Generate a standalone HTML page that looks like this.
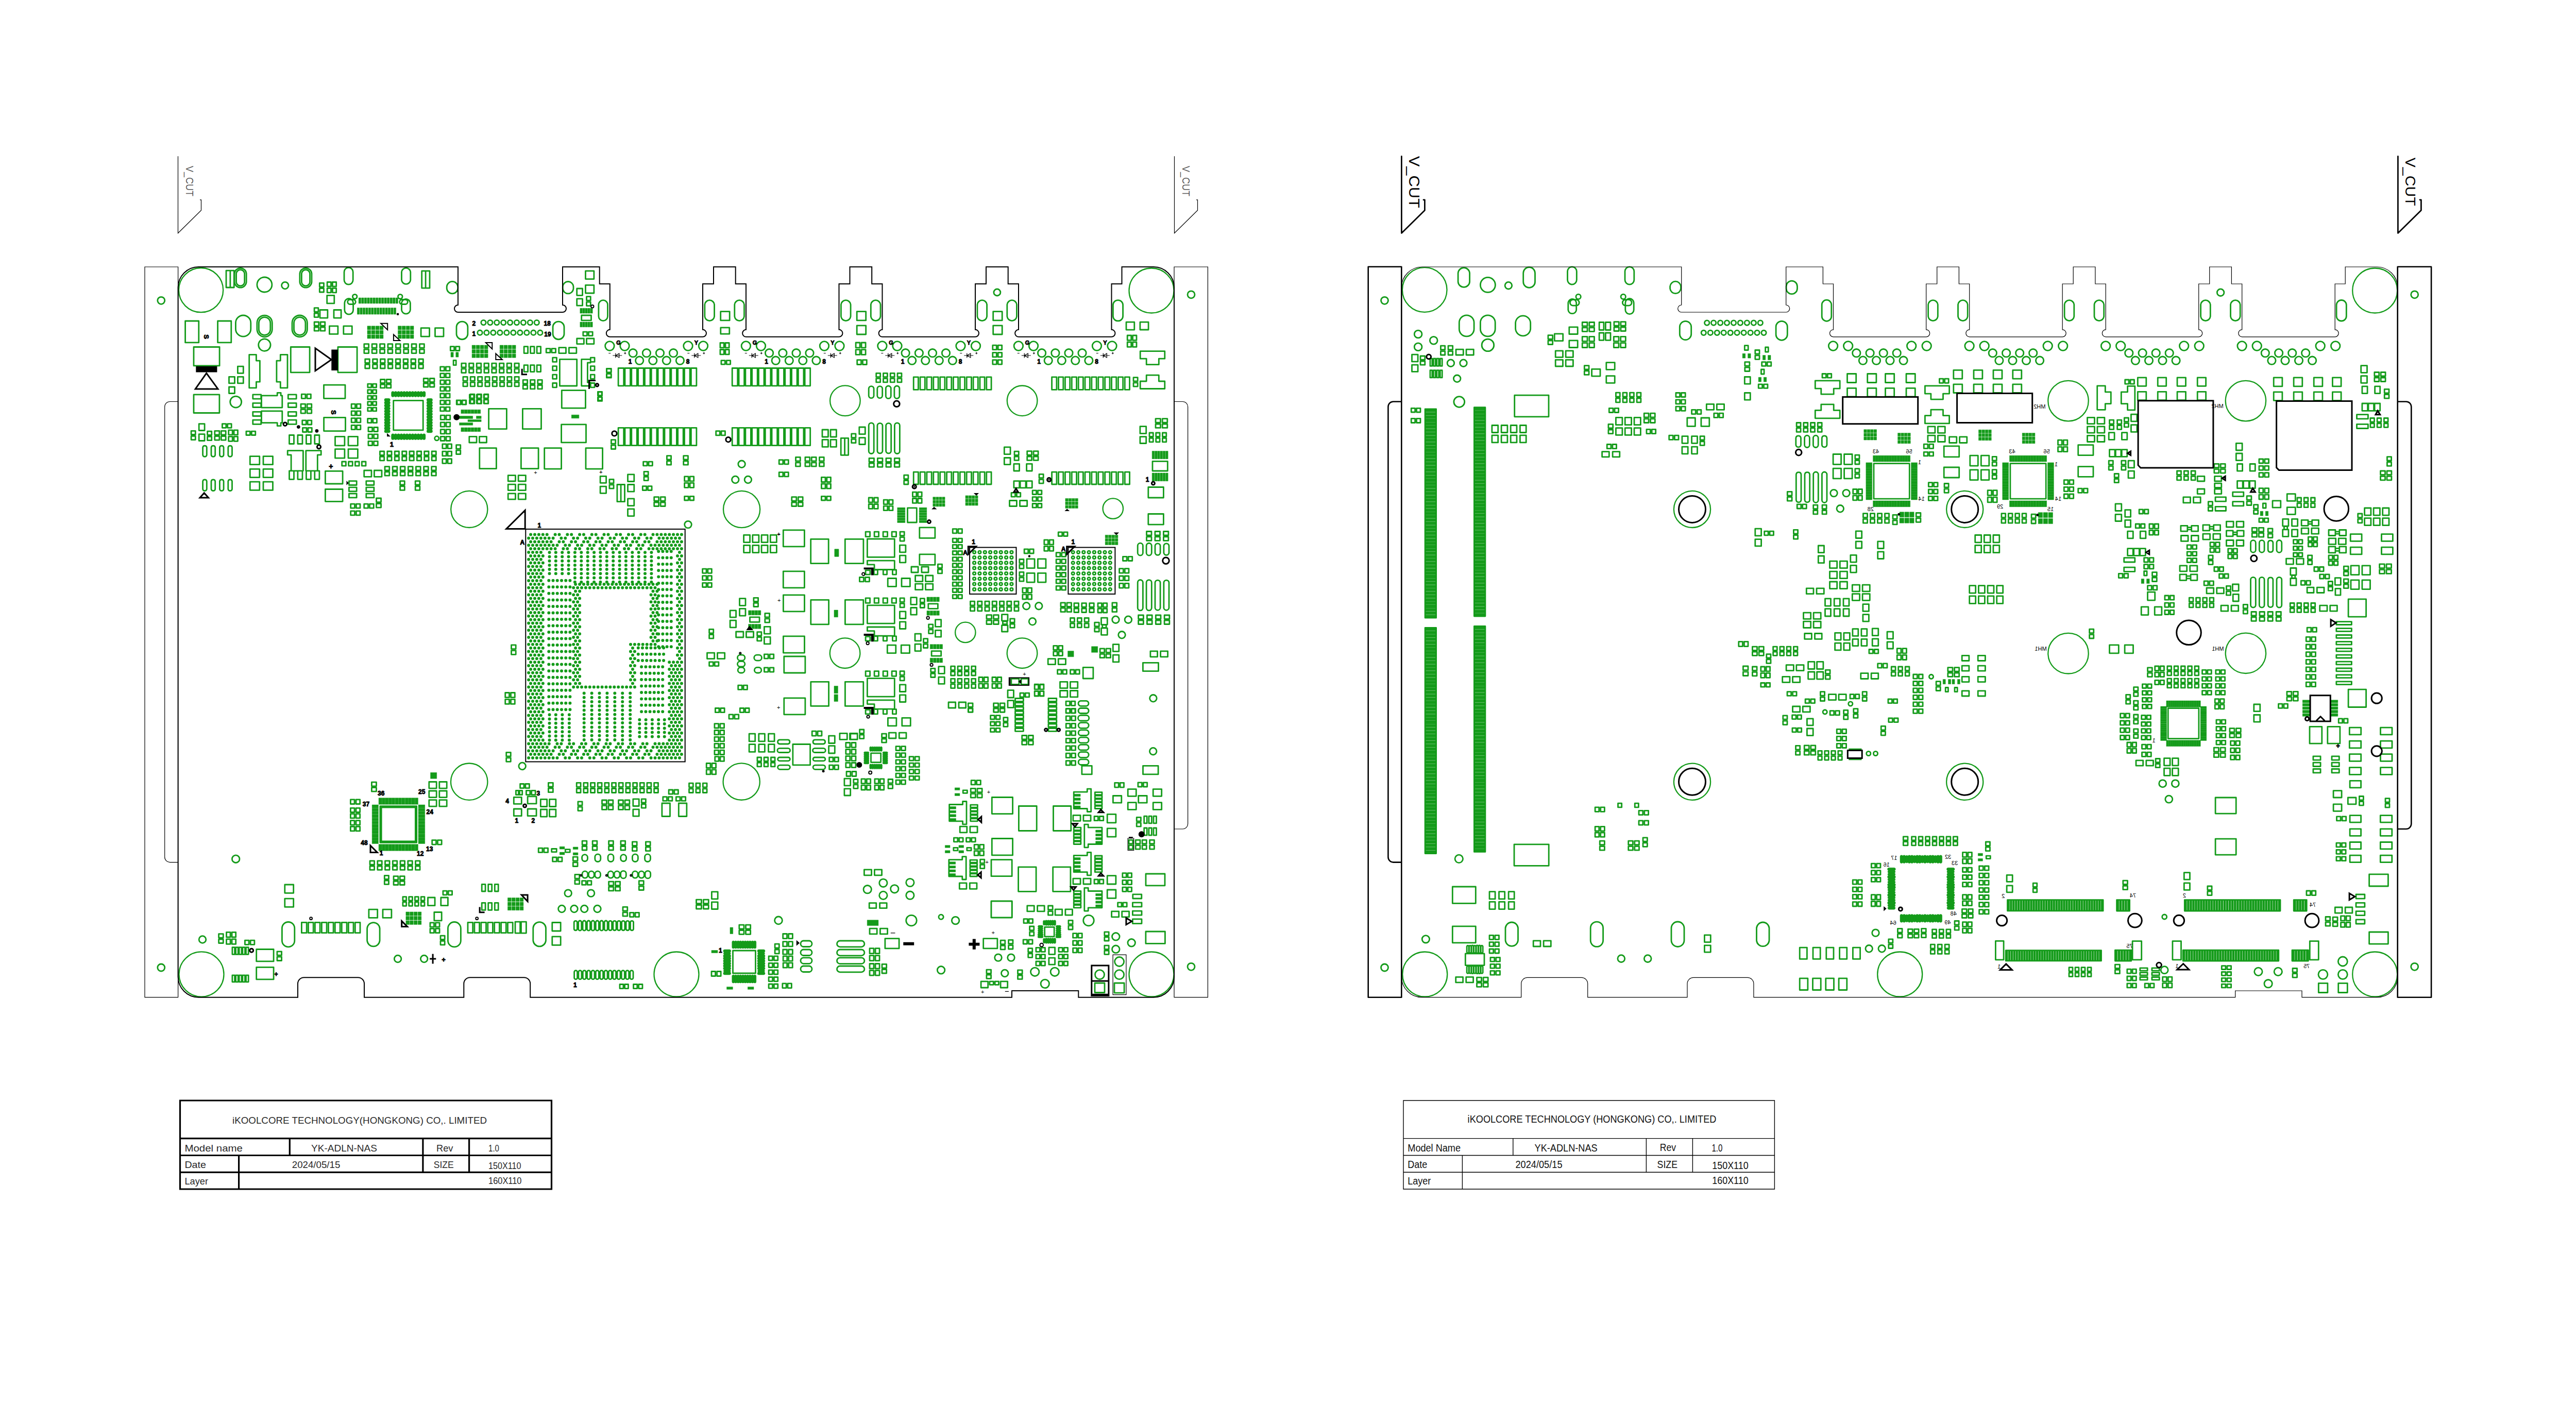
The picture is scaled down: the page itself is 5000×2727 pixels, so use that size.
<!DOCTYPE html>
<html lang="en"><head><meta charset="utf-8"><title>YK-ADLN-NAS PCB assembly drawing</title>
<style>html,body{margin:0;padding:0;background:#fff}body{width:5000px;height:2727px;overflow:hidden}svg{display:block}</style></head>
<body>
<svg width="5000" height="2727" viewBox="0 0 5000 2727" font-family="'Liberation Sans', sans-serif">
<rect width="5000" height="2727" fill="#fff"/>
<path fill="#149b1a" stroke="#149b1a" stroke-width="0.5" d="M696.2 578H700.6V588.9H696.2zM701.7 578H706.1V588.9H701.7zM707.2 578H711.7V588.9H707.2zM712.8 578H717.2V588.9H712.8zM718.3 578H722.7V588.9H718.3zM723.8 578H728.3V588.9H723.8zM729.4 578H733.8V588.9H729.4zM734.9 578H739.3V588.9H734.9zM740.4 578H744.9V588.9H740.4zM746 578H750.4V588.9H746zM751.5 578H755.9V588.9H751.5zM757 578H761.4V588.9H757zM762.5 578H767V588.9H762.5zM768.1 578H772.5V588.9H768.1zM693.4 597.6H697.8V610.1H693.4zM698.9 597.6H703.2V610.1H698.9zM704.3 597.6H708.7V610.1H704.3zM709.8 597.6H714.1V610.1H709.8zM715.2 597.6H719.6V610.1H715.2zM720.7 597.6H725V610.1H720.7zM726.1 597.6H730.5V610.1H726.1zM731.6 597.6H735.9V610.1H731.6zM737 597.6H741.4V610.1H737zM742.5 597.6H746.8V610.1H742.5zM747.9 597.6H752.3V610.1H747.9zM753.3 597.6H757.7V610.1H753.3zM758.8 597.6H763.1V610.1H758.8zM764.2 597.6H768.6V610.1H764.2zM713 632.8H719.8V640H713zM713 641.3H719.8V648.5H713zM713 649.8H719.8V657H713zM721 632.8H727.9V640H721zM721 641.3H727.9V648.5H721zM721 649.8H727.9V657H721zM729.1 632.8H735.9V640H729.1zM729.1 641.3H735.9V648.5H729.1zM729.1 649.8H735.9V657H729.1zM737.1 632.8H743.9V640H737.1zM737.1 641.3H743.9V648.5H737.1zM737.1 649.8H743.9V657H737.1zM772.5 632.8H779.2V640H772.5zM772.5 641.3H779.2V648.5H772.5zM772.5 649.8H779.2V657H772.5zM780.4 632.8H787.2V640H780.4zM780.4 641.3H787.2V648.5H780.4zM780.4 649.8H787.2V657H780.4zM788.4 632.8H795.1V640H788.4zM788.4 641.3H795.1V648.5H788.4zM788.4 649.8H795.1V657H788.4zM796.3 632.8H803V640H796.3zM796.3 641.3H803V648.5H796.3zM796.3 649.8H803V657H796.3zM1125.9 598.3H1130.2V608.1H1125.9zM1130.9 598.3H1135.2V608.1H1130.9zM1135.9 598.3H1140.2V608.1H1135.9zM1140.9 598.3H1145.2V608.1H1140.9zM1145.9 598.3H1150.2V608.1H1145.9zM1125.9 625H1130.2V634.7H1125.9zM1130.9 625H1135.2V634.7H1130.9zM1135.9 625H1140.2V634.7H1135.9zM1140.9 625H1145.2V634.7H1140.9zM1145.9 625H1150.2V634.7H1145.9zM875 683.7H880.1V693.1H875zM884.8 683.7H889.9V693.1H884.8zM916.1 670H923V677.2H916.1zM916.1 678.5H923V685.7H916.1zM916.1 687H923V694.2H916.1zM924.2 670H931V677.2H924.2zM924.2 678.5H931V685.7H924.2zM924.2 687H931V694.2H924.2zM932.2 670H939V677.2H932.2zM932.2 678.5H939V685.7H932.2zM932.2 687H939V694.2H932.2zM940.2 670H947.1V677.2H940.2zM940.2 678.5H947.1V685.7H940.2zM940.2 687H947.1V694.2H940.2zM970.2 670H977V677.2H970.2zM970.2 678.5H977V685.7H970.2zM970.2 687H977V694.2H970.2zM978.2 670H985V677.2H978.2zM978.2 678.5H985V685.7H978.2zM978.2 687H985V694.2H978.2zM986.2 670H993V677.2H986.2zM986.2 678.5H993V685.7H986.2zM986.2 687H993V694.2H986.2zM994.2 670H1001.1V677.2H994.2zM994.2 678.5H1001.1V685.7H994.2zM994.2 687H1001.1V694.2H994.2zM759.6 762.5a2.9 2.9 0 0 1 5.8 0V767.6a2.9 2.9 0 0 1 -5.8 0zM765.1 762.5a2.9 2.9 0 0 1 5.8 0V767.6a2.9 2.9 0 0 1 -5.8 0zM770.6 762.5a2.9 2.9 0 0 1 5.8 0V767.6a2.9 2.9 0 0 1 -5.8 0zM776.1 762.5a2.9 2.9 0 0 1 5.8 0V767.6a2.9 2.9 0 0 1 -5.8 0zM781.6 762.5a2.9 2.9 0 0 1 5.8 0V767.6a2.9 2.9 0 0 1 -5.8 0zM787.1 762.5a2.9 2.9 0 0 1 5.8 0V767.6a2.9 2.9 0 0 1 -5.8 0zM792.6 762.5a2.9 2.9 0 0 1 5.8 0V767.6a2.9 2.9 0 0 1 -5.8 0zM798.1 762.5a2.9 2.9 0 0 1 5.8 0V767.6a2.9 2.9 0 0 1 -5.8 0zM803.6 762.5a2.9 2.9 0 0 1 5.8 0V767.6a2.9 2.9 0 0 1 -5.8 0zM809.1 762.5a2.9 2.9 0 0 1 5.8 0V767.6a2.9 2.9 0 0 1 -5.8 0zM814.6 762.5a2.9 2.9 0 0 1 5.8 0V767.6a2.9 2.9 0 0 1 -5.8 0zM820.1 762.5a2.9 2.9 0 0 1 5.8 0V767.6a2.9 2.9 0 0 1 -5.8 0zM759.6 844.7a2.9 2.9 0 0 1 5.8 0V850.7a2.9 2.9 0 0 1 -5.8 0zM765.1 844.7a2.9 2.9 0 0 1 5.8 0V850.7a2.9 2.9 0 0 1 -5.8 0zM770.6 844.7a2.9 2.9 0 0 1 5.8 0V850.7a2.9 2.9 0 0 1 -5.8 0zM776.1 844.7a2.9 2.9 0 0 1 5.8 0V850.7a2.9 2.9 0 0 1 -5.8 0zM781.6 844.7a2.9 2.9 0 0 1 5.8 0V850.7a2.9 2.9 0 0 1 -5.8 0zM787.1 844.7a2.9 2.9 0 0 1 5.8 0V850.7a2.9 2.9 0 0 1 -5.8 0zM792.6 844.7a2.9 2.9 0 0 1 5.8 0V850.7a2.9 2.9 0 0 1 -5.8 0zM798.1 844.7a2.9 2.9 0 0 1 5.8 0V850.7a2.9 2.9 0 0 1 -5.8 0zM803.6 844.7a2.9 2.9 0 0 1 5.8 0V850.7a2.9 2.9 0 0 1 -5.8 0zM809.1 844.7a2.9 2.9 0 0 1 5.8 0V850.7a2.9 2.9 0 0 1 -5.8 0zM814.6 844.7a2.9 2.9 0 0 1 5.8 0V850.7a2.9 2.9 0 0 1 -5.8 0zM820.1 844.7a2.9 2.9 0 0 1 5.8 0V850.7a2.9 2.9 0 0 1 -5.8 0zM754.5 773.3a2.9 2.9 0 0 1 0 5.8H748.8a2.9 2.9 0 0 1 0 -5.8zM754.5 778.8a2.9 2.9 0 0 1 0 5.8H748.8a2.9 2.9 0 0 1 0 -5.8zM754.5 784.3a2.9 2.9 0 0 1 0 5.8H748.8a2.9 2.9 0 0 1 0 -5.8zM754.5 789.9a2.9 2.9 0 0 1 0 5.8H748.8a2.9 2.9 0 0 1 0 -5.8zM754.5 795.4a2.9 2.9 0 0 1 0 5.8H748.8a2.9 2.9 0 0 1 0 -5.8zM754.5 800.9a2.9 2.9 0 0 1 0 5.8H748.8a2.9 2.9 0 0 1 0 -5.8zM754.5 806.4a2.9 2.9 0 0 1 0 5.8H748.8a2.9 2.9 0 0 1 0 -5.8zM754.5 812a2.9 2.9 0 0 1 0 5.8H748.8a2.9 2.9 0 0 1 0 -5.8zM754.5 817.5a2.9 2.9 0 0 1 0 5.8H748.8a2.9 2.9 0 0 1 0 -5.8zM754.5 823a2.9 2.9 0 0 1 0 5.8H748.8a2.9 2.9 0 0 1 0 -5.8zM754.5 828.5a2.9 2.9 0 0 1 0 5.8H748.8a2.9 2.9 0 0 1 0 -5.8zM754.5 834.1a2.9 2.9 0 0 1 0 5.8H748.8a2.9 2.9 0 0 1 0 -5.8zM836.7 773.3a2.9 2.9 0 0 1 0 5.8H831a2.9 2.9 0 0 1 0 -5.8zM836.7 778.8a2.9 2.9 0 0 1 0 5.8H831a2.9 2.9 0 0 1 0 -5.8zM836.7 784.3a2.9 2.9 0 0 1 0 5.8H831a2.9 2.9 0 0 1 0 -5.8zM836.7 789.9a2.9 2.9 0 0 1 0 5.8H831a2.9 2.9 0 0 1 0 -5.8zM836.7 795.4a2.9 2.9 0 0 1 0 5.8H831a2.9 2.9 0 0 1 0 -5.8zM836.7 800.9a2.9 2.9 0 0 1 0 5.8H831a2.9 2.9 0 0 1 0 -5.8zM836.7 806.4a2.9 2.9 0 0 1 0 5.8H831a2.9 2.9 0 0 1 0 -5.8zM836.7 812a2.9 2.9 0 0 1 0 5.8H831a2.9 2.9 0 0 1 0 -5.8zM836.7 817.5a2.9 2.9 0 0 1 0 5.8H831a2.9 2.9 0 0 1 0 -5.8zM836.7 823a2.9 2.9 0 0 1 0 5.8H831a2.9 2.9 0 0 1 0 -5.8zM836.7 828.5a2.9 2.9 0 0 1 0 5.8H831a2.9 2.9 0 0 1 0 -5.8zM836.7 834.1a2.9 2.9 0 0 1 0 5.8H831a2.9 2.9 0 0 1 0 -5.8zM894.9 795.2H900.7V802.6H894.9zM901.3 795.2H907.1V802.6H901.3zM907.7 795.2H913.5V802.6H907.7zM914.2 795.2H919.9V802.6H914.2zM920.6 795.2H926.3V802.6H920.6zM927 795.2H932.7V802.6H927zM894.9 830H900.7V837.7H894.9zM901.3 830H907.1V837.7H901.3zM907.7 830H913.5V837.7H907.7zM914.2 830H919.9V837.7H914.2zM920.6 830H926.3V837.7H920.6zM927 830H932.7V837.7H927zM891.6 807.5H917.7V812.5H891.6zM924.5 807.5H934.1V812.5H924.5zM908.1 814.4H934.1V818.5H908.1zM891.6 820.4H917.7V825.3H891.6zM1810.8 964.7H1816V970.1H1810.8zM1810.8 971.1H1816V976.6H1810.8zM1810.8 977.5H1816V983H1810.8zM1816.9 964.7H1822V970.1H1816.9zM1816.9 971.1H1822V976.6H1816.9zM1816.9 977.5H1822V983H1816.9zM1822.9 964.7H1828.1V970.1H1822.9zM1822.9 971.1H1828.1V976.6H1822.9zM1822.9 977.5H1828.1V983H1822.9zM1829 964.7H1834.1V970.1H1829zM1829 971.1H1834.1V976.6H1829zM1829 977.5H1834.1V983H1829zM1741.8 985.2H1756.8V989.5H1741.8zM1741.8 990.2H1756.8V994.5H1741.8zM1741.8 995.2H1756.8V999.5H1741.8zM1741.8 1000.2H1756.8V1004.5H1741.8zM1741.8 1005.2H1756.8V1009.5H1741.8zM1741.8 1010.3H1756.8V1014.5H1741.8zM1784.2 985.2H1798.8V989.5H1784.2zM1784.2 990.2H1798.8V994.5H1784.2zM1784.2 995.2H1798.8V999.5H1784.2zM1784.2 1000.2H1798.8V1004.5H1784.2zM1784.2 1005.2H1798.8V1009.5H1784.2zM1784.2 1010.3H1798.8V1014.5H1784.2zM1874 961.9H1879.3V967.6H1874zM1874 968.6H1879.3V974.4H1874zM1874 975.4H1879.3V981.1H1874zM1880.2 961.9H1885.6V967.6H1880.2zM1880.2 968.6H1885.6V974.4H1880.2zM1880.2 975.4H1885.6V981.1H1880.2zM1886.5 961.9H1891.8V967.6H1886.5zM1886.5 968.6H1891.8V974.4H1886.5zM1886.5 975.4H1891.8V981.1H1886.5zM1892.8 961.9H1898.1V967.6H1892.8zM1892.8 968.6H1898.1V974.4H1892.8zM1892.8 975.4H1898.1V981.1H1892.8zM2067.9 967.4H2073.3V973.1H2067.9zM2067.9 974.1H2073.3V979.8H2067.9zM2067.9 980.9H2073.3V986.6H2067.9zM2074.3 967.4H2079.7V973.1H2074.3zM2074.3 974.1H2079.7V979.8H2074.3zM2074.3 980.9H2079.7V986.6H2074.3zM2080.6 967.4H2086V973.1H2080.6zM2080.6 974.1H2086V979.8H2080.6zM2080.6 980.9H2086V986.6H2080.6zM2086.9 967.4H2092.3V973.1H2086.9zM2086.9 974.1H2092.3V979.8H2086.9zM2086.9 980.9H2092.3V986.6H2086.9zM2236.2 875.6H2240.7V890.7H2236.2zM2241.5 875.6H2246V890.7H2241.5zM2246.7 875.6H2251.2V890.7H2246.7zM2252 875.6H2256.5V890.7H2252zM2257.3 875.6H2261.8V890.7H2257.3zM2262.6 875.6H2267.1V890.7H2262.6zM2236.2 918.1H2240.7V933.7H2236.2zM2241.5 918.1H2246V933.7H2241.5zM2246.7 918.1H2251.2V933.7H2246.7zM2252 918.1H2256.5V933.7H2252zM2257.3 918.1H2261.8V933.7H2257.3zM2262.6 918.1H2267.1V933.7H2262.6zM1109.3 805.2H1123.8V811.8H1109.3zM1620.3 1066.3H1627.9V1080H1620.3zM1619.9 1065.8H1627.8V1080.3H1619.9zM1619 1184.1H1626.4V1197.8H1619zM1619 1331.5H1626.4V1345.8H1619zM1619 1347.9H1626.4V1361.6H1619zM1799 1158.9H1804.5V1167.7H1799zM1805.3 1158.9H1810.7V1167.7H1805.3zM1811.5 1158.9H1816.9V1167.7H1811.5zM1817.7 1158.9H1823.2V1167.7H1817.7zM1799 1185.5H1804.5V1194.2H1799zM1805.3 1185.5H1810.7V1194.2H1805.3zM1811.5 1185.5H1816.9V1194.2H1811.5zM1817.7 1185.5H1823.2V1194.2H1817.7zM1805.3 1250.7H1810.8V1259.5H1805.3zM1811.6 1250.7H1817V1259.5H1811.6zM1817.8 1250.7H1823.2V1259.5H1817.8zM1824 1250.7H1829.5V1259.5H1824zM1805.3 1277.3H1810.8V1286H1805.3zM1811.6 1277.3H1817V1286H1811.6zM1817.8 1277.3H1823.2V1286H1817.8zM1824 1277.3H1829.5V1286H1824zM1452.7 1184.9H1458.2V1193.7H1452.7zM1459 1184.9H1464.4V1193.7H1459zM1465.2 1184.9H1470.6V1193.7H1465.2zM1471.4 1184.9H1476.8V1193.7H1471.4zM1452.7 1211.5H1458.2V1220.3H1452.7zM1459 1211.5H1464.4V1220.3H1459zM1465.2 1211.5H1470.6V1220.3H1465.2zM1471.4 1211.5H1476.8V1220.3H1471.4zM2145.2 1038.4H2150.6V1044.1H2145.2zM2145.2 1045.1H2150.6V1050.8H2145.2zM2145.2 1051.8H2150.6V1057.5H2145.2zM2151.6 1038.4H2157.1V1044.1H2151.6zM2151.6 1045.1H2157.1V1050.8H2151.6zM2151.6 1051.8H2157.1V1057.5H2151.6zM2158 1038.4H2163.5V1044.1H2158zM2158 1045.1H2163.5V1050.8H2158zM2158 1051.8H2163.5V1057.5H2158zM2164.4 1038.4H2169.9V1044.1H2164.4zM2164.4 1045.1H2169.9V1050.8H2164.4zM2164.4 1051.8H2169.9V1057.5H2164.4zM2072.6 1263.6H2084.1V1274.8H2072.6zM2118.6 1254.8H2130.7V1266.3H2118.6zM1687.8 1450.8a2.3 2.3 0 0 1 4.5 0V1456.8a2.3 2.3 0 0 1 -4.5 0zM1691.8 1450.8a2.3 2.3 0 0 1 4.5 0V1456.8a2.3 2.3 0 0 1 -4.5 0zM1695.9 1450.8a2.3 2.3 0 0 1 4.5 0V1456.8a2.3 2.3 0 0 1 -4.5 0zM1699.9 1450.8a2.3 2.3 0 0 1 4.5 0V1456.8a2.3 2.3 0 0 1 -4.5 0zM1703.9 1450.8a2.3 2.3 0 0 1 4.5 0V1456.8a2.3 2.3 0 0 1 -4.5 0zM1708 1450.8a2.3 2.3 0 0 1 4.5 0V1456.8a2.3 2.3 0 0 1 -4.5 0zM1687.8 1484.5a2.3 2.3 0 0 1 4.5 0V1491a2.3 2.3 0 0 1 -4.5 0zM1691.8 1484.5a2.3 2.3 0 0 1 4.5 0V1491a2.3 2.3 0 0 1 -4.5 0zM1695.9 1484.5a2.3 2.3 0 0 1 4.5 0V1491a2.3 2.3 0 0 1 -4.5 0zM1699.9 1484.5a2.3 2.3 0 0 1 4.5 0V1491a2.3 2.3 0 0 1 -4.5 0zM1703.9 1484.5a2.3 2.3 0 0 1 4.5 0V1491a2.3 2.3 0 0 1 -4.5 0zM1708 1484.5a2.3 2.3 0 0 1 4.5 0V1491a2.3 2.3 0 0 1 -4.5 0zM1684.8 1459a2.2 2.2 0 0 1 0 4.4H1678.8a2.2 2.2 0 0 1 0 -4.4zM1684.8 1462.9a2.2 2.2 0 0 1 0 4.4H1678.8a2.2 2.2 0 0 1 0 -4.4zM1684.8 1466.8a2.2 2.2 0 0 1 0 4.4H1678.8a2.2 2.2 0 0 1 0 -4.4zM1684.8 1470.7a2.2 2.2 0 0 1 0 4.4H1678.8a2.2 2.2 0 0 1 0 -4.4zM1684.8 1474.6a2.2 2.2 0 0 1 0 4.4H1678.8a2.2 2.2 0 0 1 0 -4.4zM1684.8 1478.5a2.2 2.2 0 0 1 0 4.4H1678.8a2.2 2.2 0 0 1 0 -4.4zM1721.2 1459a2.2 2.2 0 0 1 0 4.4H1715.2a2.2 2.2 0 0 1 0 -4.4zM1721.2 1462.9a2.2 2.2 0 0 1 0 4.4H1715.2a2.2 2.2 0 0 1 0 -4.4zM1721.2 1466.8a2.2 2.2 0 0 1 0 4.4H1715.2a2.2 2.2 0 0 1 0 -4.4zM1721.2 1470.7a2.2 2.2 0 0 1 0 4.4H1715.2a2.2 2.2 0 0 1 0 -4.4zM1721.2 1474.6a2.2 2.2 0 0 1 0 4.4H1715.2a2.2 2.2 0 0 1 0 -4.4zM1721.2 1478.5a2.2 2.2 0 0 1 0 4.4H1715.2a2.2 2.2 0 0 1 0 -4.4zM2084.2 1541.2H2097.1V1545.8H2084.2zM2084.2 1548.8H2097.1V1553.4H2084.2zM2084.2 1556.5H2097.1V1561H2084.2zM2084.2 1564.1H2097.1V1568.6H2084.2zM2126.7 1611.1H2139V1615.4H2126.7zM2126.7 1618.3H2139V1622.7H2126.7zM2126.7 1625.6H2139V1629.9H2126.7zM2126.7 1632.8H2139V1637.1H2126.7zM2084.2 1664.5H2097.1V1669.1H2084.2zM2084.2 1672.1H2097.1V1676.7H2084.2zM2084.2 1679.7H2097.1V1684.3H2084.2zM2084.2 1687.4H2097.1V1691.9H2084.2zM2126.7 1734.4H2139V1738.7H2126.7zM2126.7 1741.6H2139V1746H2126.7zM2126.7 1748.8H2139V1753.2H2126.7zM2126.7 1756.1H2139V1760.4H2126.7zM1842.6 1565.6H1855.5V1570.2H1842.6zM1842.6 1573.2H1855.5V1577.8H1842.6zM1842.6 1580.8H1855.5V1585.4H1842.6zM1842.6 1588.4H1855.5V1593H1842.6zM1841.8 1672.7H1854.7V1677.3H1841.8zM1841.8 1680.4H1854.7V1684.9H1841.8zM1841.8 1688H1854.7V1692.5H1841.8zM1841.8 1695.6H1854.7V1700.1H1841.8zM1853.3 1528.9H1862.9V1533.6H1853.3zM1853.3 1539.9H1862.9V1544.5H1853.3zM1834.4 1640.7H1844V1645.3H1834.4zM1834.4 1650.8H1844V1655.5H1834.4zM1861 1640.7H1870.5V1645.3H1861zM1861 1650.8H1870.5V1655.5H1861zM1683.2 1785.8H1704.9V1796.6H1683.2zM2024.5 1788a2.3 2.3 0 0 1 4.5 0V1794.3a2.3 2.3 0 0 1 -4.5 0zM2028.5 1788.1a2.3 2.3 0 0 1 4.6 0V1794.3a2.3 2.3 0 0 1 -4.6 0zM2032.6 1788.1a2.3 2.3 0 0 1 4.6 0V1794.3a2.3 2.3 0 0 1 -4.6 0zM2036.7 1788.1a2.3 2.3 0 0 1 4.6 0V1794.3a2.3 2.3 0 0 1 -4.6 0zM2040.8 1788.1a2.3 2.3 0 0 1 4.6 0V1794.3a2.3 2.3 0 0 1 -4.6 0zM2044.9 1788.1a2.3 2.3 0 0 1 4.6 0V1794.3a2.3 2.3 0 0 1 -4.6 0zM2024.5 1822.8a2.3 2.3 0 0 1 4.5 0V1829.2a2.3 2.3 0 0 1 -4.5 0zM2028.5 1822.8a2.3 2.3 0 0 1 4.6 0V1829.1a2.3 2.3 0 0 1 -4.6 0zM2032.6 1822.8a2.3 2.3 0 0 1 4.6 0V1829.1a2.3 2.3 0 0 1 -4.6 0zM2036.7 1822.8a2.3 2.3 0 0 1 4.6 0V1829.1a2.3 2.3 0 0 1 -4.6 0zM2040.8 1822.8a2.3 2.3 0 0 1 4.6 0V1829.1a2.3 2.3 0 0 1 -4.6 0zM2044.9 1822.8a2.3 2.3 0 0 1 4.6 0V1829.1a2.3 2.3 0 0 1 -4.6 0zM2022.8 1796.1a2.3 2.3 0 0 1 0 4.5H2016.3a2.3 2.3 0 0 1 0 -4.5zM2022.8 1800.1a2.3 2.3 0 0 1 0 4.5H2016.3a2.3 2.3 0 0 1 0 -4.5zM2022.8 1804.1a2.3 2.3 0 0 1 0 4.5H2016.3a2.3 2.3 0 0 1 0 -4.5zM2022.8 1808.1a2.3 2.3 0 0 1 0 4.5H2016.3a2.3 2.3 0 0 1 0 -4.5zM2022.8 1812.1a2.2 2.2 0 0 1 0 4.4H2016.3a2.2 2.2 0 0 1 0 -4.4zM2022.8 1816.1a2.2 2.2 0 0 1 0 4.4H2016.3a2.2 2.2 0 0 1 0 -4.4zM2057.6 1796.1a2.3 2.3 0 0 1 0 4.5H2051.2a2.3 2.3 0 0 1 0 -4.5zM2057.6 1800.1a2.3 2.3 0 0 1 0 4.5H2051.2a2.3 2.3 0 0 1 0 -4.5zM2057.6 1804.1a2.3 2.3 0 0 1 0 4.5H2051.2a2.3 2.3 0 0 1 0 -4.5zM2057.6 1808.1a2.3 2.3 0 0 1 0 4.5H2051.2a2.3 2.3 0 0 1 0 -4.5zM2057.6 1812.1a2.2 2.2 0 0 1 0 4.4H2051.1a2.2 2.2 0 0 1 0 -4.4zM2057.6 1816.1a2.2 2.2 0 0 1 0 4.4H2051.1a2.2 2.2 0 0 1 0 -4.4zM1086.3 1643.2H1095.9V1648.1H1086.3zM1086.3 1654.1H1095.9V1659H1086.3zM1112.3 1644H1121.9V1648.6H1112.3zM1112.3 1654.9H1121.9V1659.6H1112.3zM985.5 1742.6H992.2V1749.8H985.5zM985.5 1751.1H992.2V1758.3H985.5zM985.5 1759.5H992.2V1766.7H985.5zM993.4 1742.6H1000.1V1749.8H993.4zM993.4 1751.1H1000.1V1758.3H993.4zM993.4 1759.5H1000.1V1766.7H993.4zM1001.3 1742.6H1008V1749.8H1001.3zM1001.3 1751.1H1008V1758.3H1001.3zM1001.3 1759.5H1008V1766.7H1001.3zM1009.2 1742.6H1015.9V1749.8H1009.2zM1009.2 1751.1H1015.9V1758.3H1009.2zM1009.2 1759.5H1015.9V1766.7H1009.2zM1417 1800.1H1422.7V1812.5H1417zM1420.8 1828.6a2.6 2.6 0 0 1 5.2 0V1838.4a2.6 2.6 0 0 1 -5.2 0zM1425.4 1828.6a2.6 2.6 0 0 1 5.2 0V1838.4a2.6 2.6 0 0 1 -5.2 0zM1430.1 1828.6a2.6 2.6 0 0 1 5.2 0V1838.4a2.6 2.6 0 0 1 -5.2 0zM1434.7 1828.6a2.6 2.6 0 0 1 5.2 0V1838.4a2.6 2.6 0 0 1 -5.2 0zM1439.4 1828.6a2.6 2.6 0 0 1 5.2 0V1838.4a2.6 2.6 0 0 1 -5.2 0zM1444 1828.6a2.6 2.6 0 0 1 5.2 0V1838.4a2.6 2.6 0 0 1 -5.2 0zM1448.7 1828.6a2.6 2.6 0 0 1 5.2 0V1838.4a2.6 2.6 0 0 1 -5.2 0zM1453.3 1828.6a2.6 2.6 0 0 1 5.2 0V1838.4a2.6 2.6 0 0 1 -5.2 0zM1458 1828.6a2.6 2.6 0 0 1 5.2 0V1838.4a2.6 2.6 0 0 1 -5.2 0zM1462.6 1828.6a2.6 2.6 0 0 1 5.2 0V1838.4a2.6 2.6 0 0 1 -5.2 0zM1420.8 1894.6a2.6 2.6 0 0 1 5.2 0V1905.4a2.6 2.6 0 0 1 -5.2 0zM1425.4 1894.6a2.6 2.6 0 0 1 5.2 0V1905.4a2.6 2.6 0 0 1 -5.2 0zM1430.1 1894.6a2.6 2.6 0 0 1 5.2 0V1905.4a2.6 2.6 0 0 1 -5.2 0zM1434.7 1894.6a2.6 2.6 0 0 1 5.2 0V1905.4a2.6 2.6 0 0 1 -5.2 0zM1439.4 1894.6a2.6 2.6 0 0 1 5.2 0V1905.4a2.6 2.6 0 0 1 -5.2 0zM1444 1894.6a2.6 2.6 0 0 1 5.2 0V1905.4a2.6 2.6 0 0 1 -5.2 0zM1448.7 1894.6a2.6 2.6 0 0 1 5.2 0V1905.4a2.6 2.6 0 0 1 -5.2 0zM1453.3 1894.6a2.6 2.6 0 0 1 5.2 0V1905.4a2.6 2.6 0 0 1 -5.2 0zM1458 1894.6a2.6 2.6 0 0 1 5.2 0V1905.4a2.6 2.6 0 0 1 -5.2 0zM1462.6 1894.6a2.6 2.6 0 0 1 5.2 0V1905.4a2.6 2.6 0 0 1 -5.2 0zM1416 1843a2.7 2.7 0 0 1 0 5.4H1406.5a2.7 2.7 0 0 1 0 -5.4zM1416 1847.8a2.8 2.8 0 0 1 0 5.5H1406.5a2.8 2.8 0 0 1 0 -5.5zM1416 1852.7a2.7 2.7 0 0 1 0 5.4H1406.5a2.7 2.7 0 0 1 0 -5.4zM1416 1857.5a2.7 2.7 0 0 1 0 5.4H1406.5a2.7 2.7 0 0 1 0 -5.4zM1416 1862.4a2.7 2.7 0 0 1 0 5.4H1406.5a2.7 2.7 0 0 1 0 -5.4zM1416 1867.2a2.7 2.7 0 0 1 0 5.4H1406.5a2.7 2.7 0 0 1 0 -5.4zM1416 1872.1a2.7 2.7 0 0 1 0 5.4H1406.5a2.7 2.7 0 0 1 0 -5.4zM1416 1876.9a2.7 2.7 0 0 1 0 5.4H1406.5a2.7 2.7 0 0 1 0 -5.4zM1416 1881.7a2.8 2.8 0 0 1 0 5.5H1406.5a2.8 2.8 0 0 1 0 -5.5zM1416 1886.6a2.7 2.7 0 0 1 0 5.4H1406.5a2.7 2.7 0 0 1 0 -5.4zM1482.3 1843a2.7 2.7 0 0 1 0 5.4H1472.7a2.7 2.7 0 0 1 0 -5.4zM1482.2 1847.8a2.8 2.8 0 0 1 0 5.5H1472.8a2.8 2.8 0 0 1 0 -5.5zM1482.3 1852.7a2.7 2.7 0 0 1 0 5.4H1472.7a2.7 2.7 0 0 1 0 -5.4zM1482.3 1857.5a2.7 2.7 0 0 1 0 5.4H1472.7a2.7 2.7 0 0 1 0 -5.4zM1482.3 1862.4a2.7 2.7 0 0 1 0 5.4H1472.7a2.7 2.7 0 0 1 0 -5.4zM1482.3 1867.2a2.7 2.7 0 0 1 0 5.4H1472.7a2.7 2.7 0 0 1 0 -5.4zM1482.3 1872.1a2.7 2.7 0 0 1 0 5.4H1472.7a2.7 2.7 0 0 1 0 -5.4zM1482.3 1876.9a2.7 2.7 0 0 1 0 5.4H1472.7a2.7 2.7 0 0 1 0 -5.4zM1482.2 1881.7a2.8 2.8 0 0 1 0 5.5H1472.8a2.8 2.8 0 0 1 0 -5.5zM1482.3 1886.6a2.7 2.7 0 0 1 0 5.4H1472.7a2.7 2.7 0 0 1 0 -5.4zM1381 1844.5H1393V1849.5H1381zM1410.6 1915.4H1422.3V1920.3H1410.6zM1451.4 1915.4H1463V1920.3H1451.4zM735.1 1548.8H741.1V1561.3H735.1zM741.5 1548.8H747.5V1561.3H741.5zM747.9 1548.8H753.9V1561.3H747.9zM754.3 1548.8H760.3V1561.3H754.3zM760.7 1548.8H766.6V1561.3H760.7zM767.1 1548.8H773V1561.3H767.1zM773.5 1548.8H779.4V1561.3H773.5zM779.9 1548.8H785.8V1561.3H779.9zM786.3 1548.8H792.2V1561.3H786.3zM792.6 1548.8H798.6V1561.3H792.6zM799 1548.8H805V1561.3H799zM805.4 1548.8H811.4V1561.3H805.4zM735.1 1638.7H741.1V1651.3H735.1zM741.5 1638.7H747.5V1651.3H741.5zM747.9 1638.7H753.9V1651.3H747.9zM754.3 1638.7H760.3V1651.3H754.3zM760.7 1638.7H766.6V1651.3H760.7zM767.1 1638.7H773V1651.3H767.1zM773.5 1638.7H779.4V1651.3H773.5zM779.9 1638.7H785.8V1651.3H779.9zM786.3 1638.7H792.2V1651.3H786.3zM792.6 1638.7H798.6V1651.3H792.6zM799 1638.7H805V1651.3H799zM805.4 1638.7H811.4V1651.3H805.4zM722.2 1562.1H734.4V1567.9H722.2zM722.2 1568.4H734.4V1574.3H722.2zM722.2 1574.7H734.4V1580.6H722.2zM722.2 1581H734.4V1586.9H722.2zM722.2 1587.4H734.4V1593.2H722.2zM722.2 1593.7H734.4V1599.6H722.2zM722.2 1600H734.4V1605.9H722.2zM722.2 1606.3H734.4V1612.2H722.2zM722.2 1612.6H734.4V1618.5H722.2zM722.2 1619H734.4V1624.9H722.2zM722.2 1625.3H734.4V1631.2H722.2zM722.2 1631.6H734.4V1637.5H722.2zM812.1 1562.1H824.7V1567.9H812.1zM812.1 1568.4H824.7V1574.3H812.1zM812.1 1574.7H824.7V1580.6H812.1zM812.1 1581H824.7V1586.9H812.1zM812.1 1587.4H824.7V1593.2H812.1zM812.1 1593.7H824.7V1599.6H812.1zM812.1 1600H824.7V1605.9H812.1zM812.1 1606.3H824.7V1612.2H812.1zM812.1 1612.6H824.7V1618.5H812.1zM812.1 1619H824.7V1624.9H812.1zM812.1 1625.3H824.7V1631.2H812.1zM812.1 1631.6H824.7V1637.5H812.1zM835.6 1499.5H847.7V1511.2H835.6zM787.9 1769.9H794.5V1777.2H787.9zM787.9 1778.5H794.5V1785.8H787.9zM787.9 1787.1H794.5V1794.4H787.9zM795.6 1769.9H802.2V1777.2H795.6zM795.6 1778.5H802.2V1785.8H795.6zM795.6 1787.1H802.2V1794.4H795.6zM803.4 1769.9H810V1777.2H803.4zM803.4 1778.5H810V1785.8H803.4zM803.4 1787.1H810V1794.4H803.4zM811.2 1769.9H817.8V1777.2H811.2zM811.2 1778.5H817.8V1785.8H811.2zM811.2 1787.1H817.8V1794.4H811.2zM3382.2 686.3H3387.7V695.1H3382.2zM3392.6 686.3H3398.1V695.1H3392.6zM2766.1 793.8H2787.6V799.6H2766.1zM2766.1 800.2H2787.6V806H2766.1zM2766.1 806.7H2787.6V812.5H2766.1zM2766.1 813.1H2787.6V818.9H2766.1zM2766.1 819.6H2787.6V825.4H2766.1zM2766.1 826H2787.6V831.8H2766.1zM2766.1 832.5H2787.6V838.3H2766.1zM2766.1 838.9H2787.6V844.7H2766.1zM2766.1 845.4H2787.6V851.2H2766.1zM2766.1 851.8H2787.6V857.6H2766.1zM2766.1 858.3H2787.6V864.1H2766.1zM2766.1 864.7H2787.6V870.5H2766.1zM2766.1 871.1H2787.6V876.9H2766.1zM2766.1 877.6H2787.6V883.4H2766.1zM2766.1 884H2787.6V889.8H2766.1zM2766.1 890.5H2787.6V896.3H2766.1zM2766.1 896.9H2787.6V902.7H2766.1zM2766.1 903.4H2787.6V909.2H2766.1zM2766.1 909.8H2787.6V915.6H2766.1zM2766.1 916.3H2787.6V922.1H2766.1zM2766.1 922.7H2787.6V928.5H2766.1zM2766.1 929.1H2787.6V934.9H2766.1zM2766.1 935.6H2787.6V941.4H2766.1zM2766.1 942H2787.6V947.8H2766.1zM2766.1 948.5H2787.6V954.3H2766.1zM2766.1 954.9H2787.6V960.7H2766.1zM2766.1 961.4H2787.6V967.2H2766.1zM2766.1 967.8H2787.6V973.6H2766.1zM2766.1 974.3H2787.6V980.1H2766.1zM2766.1 980.7H2787.6V986.5H2766.1zM2766.1 987.2H2787.6V993H2766.1zM2766.1 993.6H2787.6V999.4H2766.1zM2766.1 1000H2787.6V1005.8H2766.1zM2766.1 1006.5H2787.6V1012.3H2766.1zM2766.1 1012.9H2787.6V1018.7H2766.1zM2766.1 1019.4H2787.6V1025.2H2766.1zM2766.1 1025.8H2787.6V1031.6H2766.1zM2766.1 1032.3H2787.6V1038.1H2766.1zM2766.1 1038.7H2787.6V1044.5H2766.1zM2766.1 1045.2H2787.6V1051H2766.1zM2766.1 1051.6H2787.6V1057.4H2766.1zM2766.1 1058.1H2787.6V1063.9H2766.1zM2766.1 1064.5H2787.6V1070.3H2766.1zM2766.1 1070.9H2787.6V1076.7H2766.1zM2766.1 1077.4H2787.6V1083.2H2766.1zM2766.1 1083.8H2787.6V1089.6H2766.1zM2766.1 1090.3H2787.6V1096.1H2766.1zM2766.1 1096.7H2787.6V1102.5H2766.1zM2766.1 1103.2H2787.6V1109H2766.1zM2766.1 1109.6H2787.6V1115.4H2766.1zM2766.1 1116.1H2787.6V1121.9H2766.1zM2766.1 1122.5H2787.6V1128.3H2766.1zM2766.1 1128.9H2787.6V1134.7H2766.1zM2766.1 1135.4H2787.6V1141.2H2766.1zM2766.1 1141.8H2787.6V1147.6H2766.1zM2766.1 1148.3H2787.6V1154.1H2766.1zM2766.1 1154.7H2787.6V1160.5H2766.1zM2766.1 1161.2H2787.6V1167H2766.1zM2766.1 1167.6H2787.6V1173.4H2766.1zM2766.1 1174.1H2787.6V1179.9H2766.1zM2766.1 1180.5H2787.6V1186.3H2766.1zM2766.1 1187H2787.6V1192.8H2766.1zM2766.1 1193.4H2787.6V1199.2H2766.1zM2861.4 790.7H2882.9V796.5H2861.4zM2861.4 797.1H2882.9V802.9H2861.4zM2861.4 803.6H2882.9V809.4H2861.4zM2861.4 810H2882.9V815.8H2861.4zM2861.4 816.5H2882.9V822.3H2861.4zM2861.4 822.9H2882.9V828.7H2861.4zM2861.4 829.4H2882.9V835.2H2861.4zM2861.4 835.8H2882.9V841.6H2861.4zM2861.4 842.3H2882.9V848.1H2861.4zM2861.4 848.7H2882.9V854.5H2861.4zM2861.4 855.2H2882.9V861H2861.4zM2861.4 861.6H2882.9V867.4H2861.4zM2861.4 868H2882.9V873.8H2861.4zM2861.4 874.5H2882.9V880.3H2861.4zM2861.4 880.9H2882.9V886.7H2861.4zM2861.4 887.4H2882.9V893.2H2861.4zM2861.4 893.8H2882.9V899.6H2861.4zM2861.4 900.3H2882.9V906.1H2861.4zM2861.4 906.7H2882.9V912.5H2861.4zM2861.4 913.2H2882.9V919H2861.4zM2861.4 919.6H2882.9V925.4H2861.4zM2861.4 926H2882.9V931.8H2861.4zM2861.4 932.5H2882.9V938.3H2861.4zM2861.4 938.9H2882.9V944.7H2861.4zM2861.4 945.4H2882.9V951.2H2861.4zM2861.4 951.8H2882.9V957.6H2861.4zM2861.4 958.3H2882.9V964.1H2861.4zM2861.4 964.7H2882.9V970.5H2861.4zM2861.4 971.2H2882.9V977H2861.4zM2861.4 977.6H2882.9V983.4H2861.4zM2861.4 984.1H2882.9V989.9H2861.4zM2861.4 990.5H2882.9V996.3H2861.4zM2861.4 996.9H2882.9V1002.7H2861.4zM2861.4 1003.4H2882.9V1009.2H2861.4zM2861.4 1009.8H2882.9V1015.6H2861.4zM2861.4 1016.3H2882.9V1022.1H2861.4zM2861.4 1022.7H2882.9V1028.5H2861.4zM2861.4 1029.2H2882.9V1035H2861.4zM2861.4 1035.6H2882.9V1041.4H2861.4zM2861.4 1042.1H2882.9V1047.9H2861.4zM2861.4 1048.5H2882.9V1054.3H2861.4zM2861.4 1055H2882.9V1060.8H2861.4zM2861.4 1061.4H2882.9V1067.2H2861.4zM2861.4 1067.8H2882.9V1073.6H2861.4zM2861.4 1074.3H2882.9V1080.1H2861.4zM2861.4 1080.7H2882.9V1086.5H2861.4zM2861.4 1087.2H2882.9V1093H2861.4zM2861.4 1093.6H2882.9V1099.4H2861.4zM2861.4 1100.1H2882.9V1105.9H2861.4zM2861.4 1106.5H2882.9V1112.3H2861.4zM2861.4 1113H2882.9V1118.8H2861.4zM2861.4 1119.4H2882.9V1125.2H2861.4zM2861.4 1125.8H2882.9V1131.6H2861.4zM2861.4 1132.3H2882.9V1138.1H2861.4zM2861.4 1138.7H2882.9V1144.5H2861.4zM2861.4 1145.2H2882.9V1151H2861.4zM2861.4 1151.6H2882.9V1157.4H2861.4zM2861.4 1158.1H2882.9V1163.9H2861.4zM2861.4 1164.5H2882.9V1170.3H2861.4zM2861.4 1171H2882.9V1176.8H2861.4zM2861.4 1177.4H2882.9V1183.2H2861.4zM2861.4 1183.9H2882.9V1189.7H2861.4zM2861.4 1190.3H2882.9V1196.1H2861.4zM2766.1 1218.4H2787.6V1224.2H2766.1zM2766.1 1224.9H2787.6V1230.7H2766.1zM2766.1 1231.3H2787.6V1237.1H2766.1zM2766.1 1237.8H2787.6V1243.6H2766.1zM2766.1 1244.2H2787.6V1250H2766.1zM2766.1 1250.7H2787.6V1256.5H2766.1zM2766.1 1257.1H2787.6V1262.9H2766.1zM2766.1 1263.6H2787.6V1269.4H2766.1zM2766.1 1270H2787.6V1275.8H2766.1zM2766.1 1276.5H2787.6V1282.3H2766.1zM2766.1 1282.9H2787.6V1288.7H2766.1zM2766.1 1289.4H2787.6V1295.2H2766.1zM2766.1 1295.8H2787.6V1301.6H2766.1zM2766.1 1302.3H2787.6V1308.1H2766.1zM2766.1 1308.7H2787.6V1314.5H2766.1zM2766.1 1315.2H2787.6V1321H2766.1zM2766.1 1321.6H2787.6V1327.4H2766.1zM2766.1 1328.1H2787.6V1333.9H2766.1zM2766.1 1334.5H2787.6V1340.3H2766.1zM2766.1 1341H2787.6V1346.8H2766.1zM2766.1 1347.4H2787.6V1353.2H2766.1zM2766.1 1353.9H2787.6V1359.7H2766.1zM2766.1 1360.3H2787.6V1366.2H2766.1zM2766.1 1366.8H2787.6V1372.6H2766.1zM2766.1 1373.3H2787.6V1379.1H2766.1zM2766.1 1379.7H2787.6V1385.5H2766.1zM2766.1 1386.2H2787.6V1392H2766.1zM2766.1 1392.6H2787.6V1398.4H2766.1zM2766.1 1399.1H2787.6V1404.9H2766.1zM2766.1 1405.5H2787.6V1411.3H2766.1zM2766.1 1412H2787.6V1417.8H2766.1zM2766.1 1418.4H2787.6V1424.2H2766.1zM2766.1 1424.9H2787.6V1430.7H2766.1zM2766.1 1431.3H2787.6V1437.1H2766.1zM2766.1 1437.8H2787.6V1443.6H2766.1zM2766.1 1444.2H2787.6V1450H2766.1zM2766.1 1450.7H2787.6V1456.5H2766.1zM2766.1 1457.1H2787.6V1462.9H2766.1zM2766.1 1463.6H2787.6V1469.4H2766.1zM2766.1 1470H2787.6V1475.8H2766.1zM2766.1 1476.5H2787.6V1482.3H2766.1zM2766.1 1482.9H2787.6V1488.7H2766.1zM2766.1 1489.4H2787.6V1495.2H2766.1zM2766.1 1495.8H2787.6V1501.6H2766.1zM2766.1 1502.3H2787.6V1508.1H2766.1zM2766.1 1508.7H2787.6V1514.6H2766.1zM2766.1 1515.2H2787.6V1521H2766.1zM2766.1 1521.7H2787.6V1527.5H2766.1zM2766.1 1528.1H2787.6V1533.9H2766.1zM2766.1 1534.6H2787.6V1540.4H2766.1zM2766.1 1541H2787.6V1546.8H2766.1zM2766.1 1547.5H2787.6V1553.3H2766.1zM2766.1 1553.9H2787.6V1559.7H2766.1zM2766.1 1560.4H2787.6V1566.2H2766.1zM2766.1 1566.8H2787.6V1572.6H2766.1zM2766.1 1573.3H2787.6V1579.1H2766.1zM2766.1 1579.7H2787.6V1585.5H2766.1zM2766.1 1586.2H2787.6V1592H2766.1zM2766.1 1592.6H2787.6V1598.4H2766.1zM2766.1 1599.1H2787.6V1604.9H2766.1zM2766.1 1605.5H2787.6V1611.3H2766.1zM2766.1 1612H2787.6V1617.8H2766.1zM2766.1 1618.4H2787.6V1624.2H2766.1zM2766.1 1624.9H2787.6V1630.7H2766.1zM2766.1 1631.3H2787.6V1637.1H2766.1zM2766.1 1637.8H2787.6V1643.6H2766.1zM2766.1 1644.2H2787.6V1650H2766.1zM2766.1 1650.7H2787.6V1656.5H2766.1zM2861.4 1215.4H2882.9V1221.2H2861.4zM2861.4 1221.9H2882.9V1227.7H2861.4zM2861.4 1228.3H2882.9V1234.1H2861.4zM2861.4 1234.8H2882.9V1240.6H2861.4zM2861.4 1241.2H2882.9V1247H2861.4zM2861.4 1247.7H2882.9V1253.5H2861.4zM2861.4 1254.1H2882.9V1259.9H2861.4zM2861.4 1260.6H2882.9V1266.4H2861.4zM2861.4 1267H2882.9V1272.8H2861.4zM2861.4 1273.5H2882.9V1279.3H2861.4zM2861.4 1279.9H2882.9V1285.7H2861.4zM2861.4 1286.4H2882.9V1292.2H2861.4zM2861.4 1292.8H2882.9V1298.6H2861.4zM2861.4 1299.3H2882.9V1305.1H2861.4zM2861.4 1305.7H2882.9V1311.5H2861.4zM2861.4 1312.2H2882.9V1318H2861.4zM2861.4 1318.6H2882.9V1324.4H2861.4zM2861.4 1325.1H2882.9V1330.9H2861.4zM2861.4 1331.5H2882.9V1337.3H2861.4zM2861.4 1338H2882.9V1343.8H2861.4zM2861.4 1344.4H2882.9V1350.2H2861.4zM2861.4 1350.9H2882.9V1356.7H2861.4zM2861.4 1357.3H2882.9V1363.1H2861.4zM2861.4 1363.8H2882.9V1369.6H2861.4zM2861.4 1370.2H2882.9V1376H2861.4zM2861.4 1376.7H2882.9V1382.5H2861.4zM2861.4 1383.1H2882.9V1388.9H2861.4zM2861.4 1389.6H2882.9V1395.4H2861.4zM2861.4 1396H2882.9V1401.8H2861.4zM2861.4 1402.5H2882.9V1408.3H2861.4zM2861.4 1408.9H2882.9V1414.7H2861.4zM2861.4 1415.4H2882.9V1421.2H2861.4zM2861.4 1421.8H2882.9V1427.6H2861.4zM2861.4 1428.3H2882.9V1434.1H2861.4zM2861.4 1434.7H2882.9V1440.5H2861.4zM2861.4 1441.2H2882.9V1447H2861.4zM2861.4 1447.6H2882.9V1453.4H2861.4zM2861.4 1454.1H2882.9V1459.9H2861.4zM2861.4 1460.5H2882.9V1466.3H2861.4zM2861.4 1467H2882.9V1472.8H2861.4zM2861.4 1473.4H2882.9V1479.2H2861.4zM2861.4 1479.9H2882.9V1485.7H2861.4zM2861.4 1486.3H2882.9V1492.1H2861.4zM2861.4 1492.8H2882.9V1498.6H2861.4zM2861.4 1499.2H2882.9V1505H2861.4zM2861.4 1505.7H2882.9V1511.5H2861.4zM2861.4 1512.1H2882.9V1517.9H2861.4zM2861.4 1518.6H2882.9V1524.4H2861.4zM2861.4 1525H2882.9V1530.8H2861.4zM2861.4 1531.5H2882.9V1537.3H2861.4zM2861.4 1537.9H2882.9V1543.7H2861.4zM2861.4 1544.4H2882.9V1550.2H2861.4zM2861.4 1550.8H2882.9V1556.6H2861.4zM2861.4 1557.3H2882.9V1563.1H2861.4zM2861.4 1563.7H2882.9V1569.5H2861.4zM2861.4 1570.2H2882.9V1576H2861.4zM2861.4 1576.6H2882.9V1582.4H2861.4zM2861.4 1583.1H2882.9V1588.9H2861.4zM2861.4 1589.5H2882.9V1595.3H2861.4zM2861.4 1596H2882.9V1601.8H2861.4zM2861.4 1602.4H2882.9V1608.2H2861.4zM2861.4 1608.9H2882.9V1614.7H2861.4zM2861.4 1615.3H2882.9V1621.1H2861.4zM2861.4 1621.8H2882.9V1627.6H2861.4zM2861.4 1628.2H2882.9V1634H2861.4zM2861.4 1634.7H2882.9V1640.5H2861.4zM2861.4 1641.1H2882.9V1646.9H2861.4zM2861.4 1647.6H2882.9V1653.4H2861.4zM3421.4 689.6H3426.8V698.6H3421.4zM3431.5 689.6H3437V698.6H3431.5zM3413.2 732.3H3418.6V741.1H3413.2zM3423.3 732.3H3428.8V741.1H3423.3zM3617.8 833.7H3623.3V839.7H3617.8zM3617.8 840.8H3623.3V846.9H3617.8zM3617.8 847.9H3623.3V854H3617.8zM3624.2 833.7H3629.7V839.7H3624.2zM3624.2 840.8H3629.7V846.9H3624.2zM3624.2 847.9H3629.7V854H3624.2zM3630.6 833.7H3636.1V839.7H3630.6zM3630.6 840.8H3636.1V846.9H3630.6zM3630.6 847.9H3636.1V854H3630.6zM3637 833.7H3642.5V839.7H3637zM3637 840.8H3642.5V846.9H3637zM3637 847.9H3642.5V854H3637zM3683.6 840.5H3689V846.6H3683.6zM3683.6 847.7H3689V853.7H3683.6zM3683.6 854.8H3689V860.8H3683.6zM3690 840.5H3695.4V846.6H3690zM3690 847.7H3695.4V853.7H3690zM3690 854.8H3695.4V860.8H3690zM3696.4 840.5H3701.8V846.6H3696.4zM3696.4 847.7H3701.8V853.7H3696.4zM3696.4 854.8H3701.8V860.8H3696.4zM3702.8 840.5H3708.2V846.6H3702.8zM3702.8 847.7H3708.2V853.7H3702.8zM3702.8 854.8H3708.2V860.8H3702.8zM3840.5 834.2H3846V840.4H3840.5zM3840.5 841.5H3846V847.6H3840.5zM3840.5 848.7H3846V854.8H3840.5zM3847 834.2H3852.4V840.4H3847zM3847 841.5H3852.4V847.6H3847zM3847 848.7H3852.4V854.8H3847zM3853.4 834.2H3858.8V840.4H3853.4zM3853.4 841.5H3858.8V847.6H3853.4zM3853.4 848.7H3858.8V854.8H3853.4zM3859.8 834.2H3865.2V840.4H3859.8zM3859.8 841.5H3865.2V847.6H3859.8zM3859.8 848.7H3865.2V854.8H3859.8zM3925.2 840.5H3930.6V846.6H3925.2zM3925.2 847.7H3930.6V853.7H3925.2zM3925.2 854.8H3930.6V860.8H3925.2zM3931.6 840.5H3937.1V846.6H3931.6zM3931.6 847.7H3937.1V853.7H3931.6zM3931.6 854.8H3937.1V860.8H3931.6zM3938 840.5H3943.5V846.6H3938zM3938 847.7H3943.5V853.7H3938zM3938 854.8H3943.5V860.8H3938zM3944.4 840.5H3949.9V846.6H3944.4zM3944.4 847.7H3949.9V853.7H3944.4zM3944.4 854.8H3949.9V860.8H3944.4zM4387.1 992.3H4392.6V1001.1H4387.1zM4397.3 992.3H4402.7V1001.1H4397.3zM4156.2 1123.6H4161.6V1132.6H4156.2zM4166.6 1123.6H4172.1V1132.6H4166.6zM3635.6 884.2H3640.5V896H3635.6zM3640.8 884.2H3645.7V896H3640.8zM3645.9 884.2H3650.9V896H3645.9zM3651.1 884.2H3656V896H3651.1zM3656.3 884.2H3661.2V896H3656.3zM3661.4 884.2H3666.3V896H3661.4zM3666.6 884.2H3671.5V896H3666.6zM3671.8 884.2H3676.7V896H3671.8zM3676.9 884.2H3681.8V896H3676.9zM3682.1 884.2H3687V896H3682.1zM3687.3 884.2H3692.2V896H3687.3zM3692.4 884.2H3697.3V896H3692.4zM3697.6 884.2H3702.5V896H3697.6zM3702.8 884.2H3707.7V896H3702.8zM3635.6 971.9H3640.5V983.7H3635.6zM3640.8 971.9H3645.7V983.7H3640.8zM3645.9 971.9H3650.9V983.7H3645.9zM3651.1 971.9H3656V983.7H3651.1zM3656.3 971.9H3661.2V983.7H3656.3zM3661.4 971.9H3666.3V983.7H3661.4zM3666.6 971.9H3671.5V983.7H3666.6zM3671.8 971.9H3676.7V983.7H3671.8zM3676.9 971.9H3681.8V983.7H3676.9zM3682.1 971.9H3687V983.7H3682.1zM3687.3 971.9H3692.2V983.7H3687.3zM3692.4 971.9H3697.3V983.7H3692.4zM3697.6 971.9H3702.5V983.7H3697.6zM3702.8 971.9H3707.7V983.7H3702.8zM3621.9 897.9H3633.7V902.9H3621.9zM3621.9 903.1H3633.7V908H3621.9zM3621.9 908.3H3633.7V913.2H3621.9zM3621.9 913.4H3633.7V918.3H3621.9zM3621.9 918.6H3633.7V923.5H3621.9zM3621.9 923.8H3633.7V928.7H3621.9zM3621.9 928.9H3633.7V933.8H3621.9zM3621.9 934.1H3633.7V939H3621.9zM3621.9 939.3H3633.7V944.2H3621.9zM3621.9 944.4H3633.7V949.3H3621.9zM3621.9 949.6H3633.7V954.5H3621.9zM3621.9 954.8H3633.7V959.7H3621.9zM3621.9 959.9H3633.7V964.8H3621.9zM3621.9 965.1H3633.7V970H3621.9zM3709.6 897.9H3721.4V902.9H3709.6zM3709.6 903.1H3721.4V908H3709.6zM3709.6 908.3H3721.4V913.2H3709.6zM3709.6 913.4H3721.4V918.3H3709.6zM3709.6 918.6H3721.4V923.5H3709.6zM3709.6 923.8H3721.4V928.7H3709.6zM3709.6 928.9H3721.4V933.8H3709.6zM3709.6 934.1H3721.4V939H3709.6zM3709.6 939.3H3721.4V944.2H3709.6zM3709.6 944.4H3721.4V949.3H3709.6zM3709.6 949.6H3721.4V954.5H3709.6zM3709.6 954.8H3721.4V959.7H3709.6zM3709.6 959.9H3721.4V964.8H3709.6zM3709.6 965.1H3721.4V970H3709.6zM3900.5 884.2H3905.5V896H3900.5zM3905.7 884.2H3910.6V896H3905.7zM3910.9 884.2H3915.8V896H3910.9zM3916 884.2H3921V896H3916zM3921.2 884.2H3926.1V896H3921.2zM3926.4 884.2H3931.3V896H3926.4zM3931.5 884.2H3936.4V896H3931.5zM3936.7 884.2H3941.6V896H3936.7zM3941.9 884.2H3946.8V896H3941.9zM3947 884.2H3951.9V896H3947zM3952.2 884.2H3957.1V896H3952.2zM3957.4 884.2H3962.3V896H3957.4zM3962.5 884.2H3967.4V896H3962.5zM3967.7 884.2H3972.6V896H3967.7zM3900.5 971.9H3905.5V983.7H3900.5zM3905.7 971.9H3910.6V983.7H3905.7zM3910.9 971.9H3915.8V983.7H3910.9zM3916 971.9H3921V983.7H3916zM3921.2 971.9H3926.1V983.7H3921.2zM3926.4 971.9H3931.3V983.7H3926.4zM3931.5 971.9H3936.4V983.7H3931.5zM3936.7 971.9H3941.6V983.7H3936.7zM3941.9 971.9H3946.8V983.7H3941.9zM3947 971.9H3951.9V983.7H3947zM3952.2 971.9H3957.1V983.7H3952.2zM3957.4 971.9H3962.3V983.7H3957.4zM3962.5 971.9H3967.4V983.7H3962.5zM3967.7 971.9H3972.6V983.7H3967.7zM3886.8 897.9H3898.6V902.9H3886.8zM3886.8 903.1H3898.6V908H3886.8zM3886.8 908.3H3898.6V913.2H3886.8zM3886.8 913.4H3898.6V918.3H3886.8zM3886.8 918.6H3898.6V923.5H3886.8zM3886.8 923.8H3898.6V928.7H3886.8zM3886.8 928.9H3898.6V933.8H3886.8zM3886.8 934.1H3898.6V939H3886.8zM3886.8 939.3H3898.6V944.2H3886.8zM3886.8 944.4H3898.6V949.3H3886.8zM3886.8 949.6H3898.6V954.5H3886.8zM3886.8 954.8H3898.6V959.7H3886.8zM3886.8 959.9H3898.6V964.8H3886.8zM3886.8 965.1H3898.6V970H3886.8zM3974.5 897.9H3986.3V902.9H3974.5zM3974.5 903.1H3986.3V908H3974.5zM3974.5 908.3H3986.3V913.2H3974.5zM3974.5 913.4H3986.3V918.3H3974.5zM3974.5 918.6H3986.3V923.5H3974.5zM3974.5 923.8H3986.3V928.7H3974.5zM3974.5 928.9H3986.3V933.8H3974.5zM3974.5 934.1H3986.3V939H3974.5zM3974.5 939.3H3986.3V944.2H3974.5zM3974.5 944.4H3986.3V949.3H3974.5zM3974.5 949.6H3986.3V954.5H3974.5zM3974.5 954.8H3986.3V959.7H3974.5zM3974.5 959.9H3986.3V964.8H3974.5zM3974.5 965.1H3986.3V970H3974.5zM3687.1 993.8H3695.5V1003.7H3687.1zM3687.1 1005.4H3695.5V1015.2H3687.1zM3696.9 993.8H3705.3V1003.7H3696.9zM3696.9 1005.4H3705.3V1015.2H3696.9zM3706.7 993.8H3715.1V1003.7H3706.7zM3706.7 1005.4H3715.1V1015.2H3706.7zM3956.2 994.7H3964.6V1004.7H3956.2zM3956.2 1006.5H3964.6V1016.6H3956.2zM3966.1 994.7H3974.5V1004.7H3966.1zM3966.1 1006.5H3974.5V1016.6H3966.1zM3976 994.7H3984.4V1004.7H3976zM3976 1006.5H3984.4V1016.6H3976zM3771.2 1318.6H3776.2V1327.7H3771.2zM3781.6 1318.6H3786.6V1327.7H3781.6zM3789 1318.6H3794V1327.7H3789zM3799.5 1318.6H3804.4V1327.7H3799.5zM3588.5 1452.9H3613.2V1455.9H3588.5zM3588.5 1472.1H3613.2V1475.1H3588.5zM4469.3 1358.8H4483.6V1364H4469.3zM4469.3 1365.3H4483.6V1370.6H4469.3zM4469.3 1371.9H4483.6V1377.1H4469.3zM4469.3 1378.5H4483.6V1383.7H4469.3zM4469.3 1385H4483.6V1390.3H4469.3zM4524.1 1358.8H4537.8V1364H4524.1zM4524.1 1365.3H4537.8V1370.6H4524.1zM4524.1 1371.9H4537.8V1377.1H4524.1zM4524.1 1378.5H4537.8V1383.7H4524.1zM4524.1 1385H4537.8V1390.3H4524.1zM4204.9 1360.1H4208.9V1372.5H4204.9zM4209.1 1360.1H4213V1372.5H4209.1zM4213.2 1360.1H4217.2V1372.5H4213.2zM4217.4 1360.1H4221.4V1372.5H4217.4zM4221.6 1360.1H4225.5V1372.5H4221.6zM4225.7 1360.1H4229.7V1372.5H4225.7zM4229.9 1360.1H4233.8V1372.5H4229.9zM4234 1360.1H4238V1372.5H4234zM4238.2 1360.1H4242.1V1372.5H4238.2zM4242.3 1360.1H4246.3V1372.5H4242.3zM4246.5 1360.1H4250.4V1372.5H4246.5zM4250.7 1360.1H4254.6V1372.5H4250.7zM4254.8 1360.1H4258.8V1372.5H4254.8zM4259 1360.1H4262.9V1372.5H4259zM4263.1 1360.1H4267.1V1372.5H4263.1zM4267.3 1360.1H4271.2V1372.5H4267.3zM4204.9 1436.8H4208.9V1448.6H4204.9zM4209.1 1436.8H4213V1448.6H4209.1zM4213.2 1436.8H4217.2V1448.6H4213.2zM4217.4 1436.8H4221.4V1448.6H4217.4zM4221.6 1436.8H4225.5V1448.6H4221.6zM4225.7 1436.8H4229.7V1448.6H4225.7zM4229.9 1436.8H4233.8V1448.6H4229.9zM4234 1436.8H4238V1448.6H4234zM4238.2 1436.8H4242.1V1448.6H4238.2zM4242.3 1436.8H4246.3V1448.6H4242.3zM4246.5 1436.8H4250.4V1448.6H4246.5zM4250.7 1436.8H4254.6V1448.6H4250.7zM4254.8 1436.8H4258.8V1448.6H4254.8zM4259 1436.8H4262.9V1448.6H4259zM4263.1 1436.8H4267.1V1448.6H4263.1zM4267.3 1436.8H4271.2V1448.6H4267.3zM4193.7 1371.1H4205.5V1375H4193.7zM4193.7 1375.3H4205.5V1379.2H4193.7zM4193.7 1379.4H4205.5V1383.4H4193.7zM4193.7 1383.6H4205.5V1387.5H4193.7zM4193.7 1387.7H4205.5V1391.7H4193.7zM4193.7 1391.9H4205.5V1395.8H4193.7zM4193.7 1396H4205.5V1400H4193.7zM4193.7 1400.2H4205.5V1404.1H4193.7zM4193.7 1404.4H4205.5V1408.3H4193.7zM4193.7 1408.5H4205.5V1412.5H4193.7zM4193.7 1412.7H4205.5V1416.6H4193.7zM4193.7 1416.8H4205.5V1420.8H4193.7zM4193.7 1421H4205.5V1424.9H4193.7zM4193.7 1425.1H4205.5V1429.1H4193.7zM4193.7 1429.3H4205.5V1433.2H4193.7zM4193.7 1433.4H4205.5V1437.4H4193.7zM4271.2 1371.1H4282.7V1375H4271.2zM4271.2 1375.3H4282.7V1379.2H4271.2zM4271.2 1379.4H4282.7V1383.4H4271.2zM4271.2 1383.6H4282.7V1387.5H4271.2zM4271.2 1387.7H4282.7V1391.7H4271.2zM4271.2 1391.9H4282.7V1395.8H4271.2zM4271.2 1396H4282.7V1400H4271.2zM4271.2 1400.2H4282.7V1404.1H4271.2zM4271.2 1404.4H4282.7V1408.3H4271.2zM4271.2 1408.5H4282.7V1412.5H4271.2zM4271.2 1412.7H4282.7V1416.6H4271.2zM4271.2 1416.8H4282.7V1420.8H4271.2zM4271.2 1421H4282.7V1424.9H4271.2zM4271.2 1425.1H4282.7V1429.1H4271.2zM4271.2 1429.3H4282.7V1433.2H4271.2zM4271.2 1433.4H4282.7V1437.4H4271.2zM4240.3 1746.6H4244.3V1768H4240.3zM4245.3 1746.6H4249.3V1768H4245.3zM4250.3 1746.6H4254.4V1768H4250.3zM4255.4 1746.6H4259.4V1768H4255.4zM4260.4 1746.6H4264.5V1768H4260.4zM4265.5 1746.6H4269.5V1768H4265.5zM4270.5 1746.6H4274.6V1768H4270.5zM4275.6 1746.6H4279.6V1768H4275.6zM4280.6 1746.6H4284.7V1768H4280.6zM4285.7 1746.6H4289.7V1768H4285.7zM4290.7 1746.6H4294.8V1768H4290.7zM4295.8 1746.6H4299.8V1768H4295.8zM4300.8 1746.6H4304.9V1768H4300.8zM4305.9 1746.6H4309.9V1768H4305.9zM4310.9 1746.6H4314.9V1768H4310.9zM4316 1746.6H4320V1768H4316zM4321 1746.6H4325V1768H4321zM4326.1 1746.6H4330.1V1768H4326.1zM4331.1 1746.6H4335.1V1768H4331.1zM4336.1 1746.6H4340.2V1768H4336.1zM4341.2 1746.6H4345.2V1768H4341.2zM4346.2 1746.6H4350.3V1768H4346.2zM4351.3 1746.6H4355.3V1768H4351.3zM4356.3 1746.6H4360.4V1768H4356.3zM4361.4 1746.6H4365.4V1768H4361.4zM4366.4 1746.6H4370.5V1768H4366.4zM4371.5 1746.6H4375.5V1768H4371.5zM4376.5 1746.6H4380.6V1768H4376.5zM4381.6 1746.6H4385.6V1768H4381.6zM4386.6 1746.6H4390.7V1768H4386.6zM4391.7 1746.6H4395.7V1768H4391.7zM4396.7 1746.6H4400.7V1768H4396.7zM4401.8 1746.6H4405.8V1768H4401.8zM4406.8 1746.6H4410.8V1768H4406.8zM4411.8 1746.6H4415.9V1768H4411.8zM4416.9 1746.6H4420.9V1768H4416.9zM4421.9 1746.6H4426V1768H4421.9zM4108.6 1746.6H4112.8V1768H4108.6zM4113.8 1746.6H4118V1768H4113.8zM4119.1 1746.6H4123.2V1768H4119.1zM4124.3 1746.6H4128.4V1768H4124.3zM4129.5 1746.6H4133.6V1768H4129.5zM4452.2 1746.6H4456.4V1768H4452.2zM4457.4 1746.6H4461.6V1768H4457.4zM4462.6 1746.6H4466.8V1768H4462.6zM4467.8 1746.6H4472V1768H4467.8zM4473.1 1746.6H4477.2V1768H4473.1zM4237.1 1844.2H4241.1V1865H4237.1zM4242.1 1844.2H4246.1V1865H4242.1zM4247.1 1844.2H4251.2V1865H4247.1zM4252.2 1844.2H4256.2V1865H4252.2zM4257.2 1844.2H4261.3V1865H4257.2zM4262.3 1844.2H4266.3V1865H4262.3zM4267.3 1844.2H4271.4V1865H4267.3zM4272.4 1844.2H4276.4V1865H4272.4zM4277.4 1844.2H4281.5V1865H4277.4zM4282.5 1844.2H4286.5V1865H4282.5zM4287.5 1844.2H4291.6V1865H4287.5zM4292.6 1844.2H4296.6V1865H4292.6zM4297.6 1844.2H4301.7V1865H4297.6zM4302.7 1844.2H4306.7V1865H4302.7zM4307.7 1844.2H4311.7V1865H4307.7zM4312.8 1844.2H4316.8V1865H4312.8zM4317.8 1844.2H4321.8V1865H4317.8zM4322.8 1844.2H4326.9V1865H4322.8zM4327.9 1844.2H4331.9V1865H4327.9zM4332.9 1844.2H4337V1865H4332.9zM4338 1844.2H4342V1865H4338zM4343 1844.2H4347.1V1865H4343zM4348.1 1844.2H4352.1V1865H4348.1zM4353.1 1844.2H4357.2V1865H4353.1zM4358.2 1844.2H4362.2V1865H4358.2zM4363.2 1844.2H4367.3V1865H4363.2zM4368.3 1844.2H4372.3V1865H4368.3zM4373.3 1844.2H4377.4V1865H4373.3zM4378.4 1844.2H4382.4V1865H4378.4zM4383.4 1844.2H4387.4V1865H4383.4zM4388.5 1844.2H4392.5V1865H4388.5zM4393.5 1844.2H4397.5V1865H4393.5zM4398.6 1844.2H4402.6V1865H4398.6zM4403.6 1844.2H4407.6V1865H4403.6zM4408.6 1844.2H4412.7V1865H4408.6zM4413.7 1844.2H4417.7V1865H4413.7zM4418.7 1844.2H4422.8V1865H4418.7zM4105.4 1844.2H4109.8V1865H4105.4zM4110.9 1844.2H4115.2V1865H4110.9zM4116.3 1844.2H4120.6V1865H4116.3zM4121.7 1844.2H4126V1865H4121.7zM4127.1 1844.2H4131.4V1865H4127.1zM4132.5 1844.2H4136.8V1865H4132.5zM4449 1844.2H4453.4V1865H4449zM4454.4 1844.2H4458.8V1865H4454.4zM4459.9 1844.2H4464.2V1865H4459.9zM4465.3 1844.2H4469.6V1865H4465.3zM4470.7 1844.2H4475V1865H4470.7zM4476.1 1844.2H4480.4V1865H4476.1zM3839.4 1656.2H3848.4V1661.1H3839.4zM3839.4 1666.6H3848.4V1671.2H3839.4zM3688 1662.6a2.8 2.8 0 0 1 5.6 0V1672.7a2.8 2.8 0 0 1 -5.6 0zM3693.1 1662.6a2.8 2.8 0 0 1 5.6 0V1672.7a2.8 2.8 0 0 1 -5.6 0zM3698.2 1662.5a2.8 2.8 0 0 1 5.5 0V1672.8a2.8 2.8 0 0 1 -5.5 0zM3703.2 1662.6a2.8 2.8 0 0 1 5.6 0V1672.7a2.8 2.8 0 0 1 -5.6 0zM3708.3 1662.6a2.8 2.8 0 0 1 5.6 0V1672.7a2.8 2.8 0 0 1 -5.6 0zM3713.4 1662.5a2.8 2.8 0 0 1 5.5 0V1672.8a2.8 2.8 0 0 1 -5.5 0zM3718.4 1662.6a2.8 2.8 0 0 1 5.6 0V1672.7a2.8 2.8 0 0 1 -5.6 0zM3723.5 1662.6a2.8 2.8 0 0 1 5.6 0V1672.7a2.8 2.8 0 0 1 -5.6 0zM3728.6 1662.5a2.8 2.8 0 0 1 5.5 0V1672.8a2.8 2.8 0 0 1 -5.5 0zM3733.6 1662.6a2.8 2.8 0 0 1 5.6 0V1672.7a2.8 2.8 0 0 1 -5.6 0zM3738.7 1662.5a2.8 2.8 0 0 1 5.5 0V1672.8a2.8 2.8 0 0 1 -5.5 0zM3743.7 1662.6a2.8 2.8 0 0 1 5.6 0V1672.7a2.8 2.8 0 0 1 -5.6 0zM3748.8 1662.6a2.8 2.8 0 0 1 5.6 0V1672.7a2.8 2.8 0 0 1 -5.6 0zM3753.9 1662.5a2.8 2.8 0 0 1 5.5 0V1672.8a2.8 2.8 0 0 1 -5.5 0zM3758.9 1662.6a2.8 2.8 0 0 1 5.6 0V1672.7a2.8 2.8 0 0 1 -5.6 0zM3764 1662.6a2.8 2.8 0 0 1 5.6 0V1672.7a2.8 2.8 0 0 1 -5.6 0zM3688 1777.3a2.8 2.8 0 0 1 5.6 0V1787.4a2.8 2.8 0 0 1 -5.6 0zM3693.1 1777.3a2.8 2.8 0 0 1 5.6 0V1787.4a2.8 2.8 0 0 1 -5.6 0zM3698.2 1777.2a2.8 2.8 0 0 1 5.5 0V1787.5a2.8 2.8 0 0 1 -5.5 0zM3703.2 1777.3a2.8 2.8 0 0 1 5.6 0V1787.4a2.8 2.8 0 0 1 -5.6 0zM3708.3 1777.3a2.8 2.8 0 0 1 5.6 0V1787.4a2.8 2.8 0 0 1 -5.6 0zM3713.4 1777.2a2.8 2.8 0 0 1 5.5 0V1787.5a2.8 2.8 0 0 1 -5.5 0zM3718.4 1777.3a2.8 2.8 0 0 1 5.6 0V1787.4a2.8 2.8 0 0 1 -5.6 0zM3723.5 1777.3a2.8 2.8 0 0 1 5.6 0V1787.4a2.8 2.8 0 0 1 -5.6 0zM3728.6 1777.2a2.8 2.8 0 0 1 5.5 0V1787.5a2.8 2.8 0 0 1 -5.5 0zM3733.6 1777.3a2.8 2.8 0 0 1 5.6 0V1787.4a2.8 2.8 0 0 1 -5.6 0zM3738.7 1777.2a2.8 2.8 0 0 1 5.5 0V1787.5a2.8 2.8 0 0 1 -5.5 0zM3743.7 1777.3a2.8 2.8 0 0 1 5.6 0V1787.4a2.8 2.8 0 0 1 -5.6 0zM3748.8 1777.3a2.8 2.8 0 0 1 5.6 0V1787.4a2.8 2.8 0 0 1 -5.6 0zM3753.9 1777.2a2.8 2.8 0 0 1 5.5 0V1787.5a2.8 2.8 0 0 1 -5.5 0zM3758.9 1777.3a2.8 2.8 0 0 1 5.6 0V1787.4a2.8 2.8 0 0 1 -5.6 0zM3764 1777.3a2.8 2.8 0 0 1 5.6 0V1787.4a2.8 2.8 0 0 1 -5.6 0zM3676.5 1684.2a2.8 2.8 0 0 1 0 5.6H3666.4a2.8 2.8 0 0 1 0 -5.6zM3676.6 1689.3a2.8 2.8 0 0 1 0 5.5H3666.3a2.8 2.8 0 0 1 0 -5.5zM3676.6 1694.3a2.8 2.8 0 0 1 0 5.5H3666.3a2.8 2.8 0 0 1 0 -5.5zM3676.5 1699.3a2.8 2.8 0 0 1 0 5.6H3666.4a2.8 2.8 0 0 1 0 -5.6zM3676.6 1704.4a2.8 2.8 0 0 1 0 5.5H3666.3a2.8 2.8 0 0 1 0 -5.5zM3676.6 1709.4a2.8 2.8 0 0 1 0 5.5H3666.3a2.8 2.8 0 0 1 0 -5.5zM3676.5 1714.4a2.8 2.8 0 0 1 0 5.6H3666.4a2.8 2.8 0 0 1 0 -5.6zM3676.5 1719.4a2.8 2.8 0 0 1 0 5.6H3666.4a2.8 2.8 0 0 1 0 -5.6zM3676.6 1724.5a2.8 2.8 0 0 1 0 5.5H3666.3a2.8 2.8 0 0 1 0 -5.5zM3676.6 1729.5a2.8 2.8 0 0 1 0 5.5H3666.3a2.8 2.8 0 0 1 0 -5.5zM3676.5 1734.5a2.8 2.8 0 0 1 0 5.6H3666.4a2.8 2.8 0 0 1 0 -5.6zM3676.6 1739.6a2.8 2.8 0 0 1 0 5.5H3666.3a2.8 2.8 0 0 1 0 -5.5zM3676.6 1744.6a2.8 2.8 0 0 1 0 5.5H3666.3a2.8 2.8 0 0 1 0 -5.5zM3676.5 1749.6a2.8 2.8 0 0 1 0 5.6H3666.4a2.8 2.8 0 0 1 0 -5.6zM3676.6 1754.7a2.8 2.8 0 0 1 0 5.5H3666.3a2.8 2.8 0 0 1 0 -5.5zM3676.6 1759.7a2.8 2.8 0 0 1 0 5.5H3666.3a2.8 2.8 0 0 1 0 -5.5zM3791.2 1684.2a2.8 2.8 0 0 1 0 5.6H3781.3a2.8 2.8 0 0 1 0 -5.6zM3791.2 1689.3a2.8 2.8 0 0 1 0 5.5H3781.2a2.8 2.8 0 0 1 0 -5.5zM3791.2 1694.3a2.8 2.8 0 0 1 0 5.5H3781.2a2.8 2.8 0 0 1 0 -5.5zM3791.2 1699.3a2.8 2.8 0 0 1 0 5.6H3781.3a2.8 2.8 0 0 1 0 -5.6zM3791.2 1704.4a2.8 2.8 0 0 1 0 5.5H3781.2a2.8 2.8 0 0 1 0 -5.5zM3791.2 1709.4a2.8 2.8 0 0 1 0 5.5H3781.2a2.8 2.8 0 0 1 0 -5.5zM3791.2 1714.4a2.8 2.8 0 0 1 0 5.6H3781.3a2.8 2.8 0 0 1 0 -5.6zM3791.2 1719.4a2.8 2.8 0 0 1 0 5.6H3781.3a2.8 2.8 0 0 1 0 -5.6zM3791.2 1724.5a2.8 2.8 0 0 1 0 5.5H3781.2a2.8 2.8 0 0 1 0 -5.5zM3791.2 1729.5a2.8 2.8 0 0 1 0 5.5H3781.2a2.8 2.8 0 0 1 0 -5.5zM3791.2 1734.5a2.8 2.8 0 0 1 0 5.6H3781.3a2.8 2.8 0 0 1 0 -5.6zM3791.2 1739.6a2.8 2.8 0 0 1 0 5.5H3781.2a2.8 2.8 0 0 1 0 -5.5zM3791.2 1744.6a2.8 2.8 0 0 1 0 5.5H3781.2a2.8 2.8 0 0 1 0 -5.5zM3791.2 1749.6a2.8 2.8 0 0 1 0 5.6H3781.3a2.8 2.8 0 0 1 0 -5.6zM3791.2 1754.7a2.8 2.8 0 0 1 0 5.5H3781.2a2.8 2.8 0 0 1 0 -5.5zM3791.2 1759.7a2.8 2.8 0 0 1 0 5.5H3781.2a2.8 2.8 0 0 1 0 -5.5zM3896.5 1746.7H3900.4V1767.9H3896.5zM3901.4 1746.7H3905.3V1767.9H3901.4zM3906.3 1746.7H3910.2V1767.9H3906.3zM3911.2 1746.7H3915.1V1767.9H3911.2zM3916.1 1746.7H3920V1767.9H3916.1zM3921 1746.7H3924.9V1767.9H3921zM3925.9 1746.7H3929.9V1767.9H3925.9zM3930.8 1746.7H3934.8V1767.9H3930.8zM3935.7 1746.7H3939.7V1767.9H3935.7zM3940.7 1746.7H3944.6V1767.9H3940.7zM3945.6 1746.7H3949.5V1767.9H3945.6zM3950.5 1746.7H3954.4V1767.9H3950.5zM3955.4 1746.7H3959.3V1767.9H3955.4zM3960.3 1746.7H3964.2V1767.9H3960.3zM3965.2 1746.7H3969.1V1767.9H3965.2zM3970.1 1746.7H3974V1767.9H3970.1zM3975 1746.7H3979V1767.9H3975zM3979.9 1746.7H3983.9V1767.9H3979.9zM3984.8 1746.7H3988.8V1767.9H3984.8zM3989.8 1746.7H3993.7V1767.9H3989.8zM3994.7 1746.7H3998.6V1767.9H3994.7zM3999.6 1746.7H4003.5V1767.9H3999.6zM4004.5 1746.7H4008.4V1767.9H4004.5zM4009.4 1746.7H4013.3V1767.9H4009.4zM4014.3 1746.7H4018.2V1767.9H4014.3zM4019.2 1746.7H4023.1V1767.9H4019.2zM4024.1 1746.7H4028.1V1767.9H4024.1zM4029 1746.7H4033V1767.9H4029zM4033.9 1746.7H4037.9V1767.9H4033.9zM4038.9 1746.7H4042.8V1767.9H4038.9zM4043.8 1746.7H4047.7V1767.9H4043.8zM4048.7 1746.7H4052.6V1767.9H4048.7zM4053.6 1746.7H4057.5V1767.9H4053.6zM4058.5 1746.7H4062.4V1767.9H4058.5zM4063.4 1746.7H4067.3V1767.9H4063.4zM4068.3 1746.7H4072.2V1767.9H4068.3zM4073.2 1746.7H4077.2V1767.9H4073.2zM4078.1 1746.7H4082.1V1767.9H4078.1zM3893.2 1844.6H3897.1V1864.9H3893.2zM3898.1 1844.6H3902V1864.9H3898.1zM3903 1844.6H3906.9V1864.9H3903zM3907.9 1844.6H3911.8V1864.9H3907.9zM3912.8 1844.6H3916.7V1864.9H3912.8zM3917.7 1844.6H3921.6V1864.9H3917.7zM3922.6 1844.6H3926.5V1864.9H3922.6zM3927.5 1844.6H3931.4V1864.9H3927.5zM3932.4 1844.6H3936.4V1864.9H3932.4zM3937.3 1844.6H3941.3V1864.9H3937.3zM3942.2 1844.6H3946.2V1864.9H3942.2zM3947.1 1844.6H3951.1V1864.9H3947.1zM3952 1844.6H3956V1864.9H3952zM3956.9 1844.6H3960.9V1864.9H3956.9zM3961.8 1844.6H3965.8V1864.9H3961.8zM3966.7 1844.6H3970.7V1864.9H3966.7zM3971.7 1844.6H3975.6V1864.9H3971.7zM3976.6 1844.6H3980.5V1864.9H3976.6zM3981.5 1844.6H3985.4V1864.9H3981.5zM3986.4 1844.6H3990.3V1864.9H3986.4zM3991.3 1844.6H3995.2V1864.9H3991.3zM3996.2 1844.6H4000.1V1864.9H3996.2zM4001.1 1844.6H4005V1864.9H4001.1zM4006 1844.6H4009.9V1864.9H4006zM4010.9 1844.6H4014.8V1864.9H4010.9zM4015.8 1844.6H4019.7V1864.9H4015.8zM4020.7 1844.6H4024.6V1864.9H4020.7zM4025.6 1844.6H4029.5V1864.9H4025.6zM4030.5 1844.6H4034.4V1864.9H4030.5zM4035.4 1844.6H4039.3V1864.9H4035.4zM4040.3 1844.6H4044.2V1864.9H4040.3zM4045.2 1844.6H4049.1V1864.9H4045.2zM4050.1 1844.6H4054V1864.9H4050.1zM4055 1844.6H4058.9V1864.9H4055zM4059.9 1844.6H4063.8V1864.9H4059.9zM4064.8 1844.6H4068.7V1864.9H4064.8zM4069.7 1844.6H4073.6V1864.9H4069.7zM4074.6 1844.6H4078.5V1864.9H4074.6z"/>
<path fill="none" stroke="#149b1a" stroke-width="6" stroke-linecap="round" d="M1030.1 1037.6h0M1038 1037.6h0M1045.9 1037.6h0M1053.8 1037.6h0M1061.7 1037.6h0M1077.6 1037.6h0M1085.5 1037.6h0M1101.3 1037.6h0M1109.2 1037.6h0M1125.1 1037.6h0M1133 1037.6h0M1148.8 1037.6h0M1156.7 1037.6h0M1172.5 1037.6h0M1180.5 1037.6h0M1196.3 1037.6h0M1204.2 1037.6h0M1220 1037.6h0M1228 1037.6h0M1243.8 1037.6h0M1251.7 1037.6h0M1267.5 1037.6h0M1275.4 1037.6h0M1283.4 1037.6h0M1291.3 1037.6h0M1299.2 1037.6h0M1307.1 1037.6h0M1315 1037.6h0M1322.9 1037.6h0M1026.1 1044.5h0M1034 1044.5h0M1041.9 1044.5h0M1049.9 1044.5h0M1057.8 1044.5h0M1065.7 1044.5h0M1073.6 1044.5h0M1089.4 1044.5h0M1097.3 1044.5h0M1113.2 1044.5h0M1121.1 1044.5h0M1136.9 1044.5h0M1144.8 1044.5h0M1160.7 1044.5h0M1168.6 1044.5h0M1184.4 1044.5h0M1192.3 1044.5h0M1208.2 1044.5h0M1216.1 1044.5h0M1231.9 1044.5h0M1239.8 1044.5h0M1255.7 1044.5h0M1263.6 1044.5h0M1279.4 1044.5h0M1287.3 1044.5h0M1295.2 1044.5h0M1303.2 1044.5h0M1311.1 1044.5h0M1319 1044.5h0M1030.1 1051.4h0M1038 1051.4h0M1045.9 1051.4h0M1053.8 1051.4h0M1061.7 1051.4h0M1069.6 1051.4h0M1085.5 1051.4h0M1093.4 1051.4h0M1109.2 1051.4h0M1117.1 1051.4h0M1133 1051.4h0M1140.9 1051.4h0M1156.7 1051.4h0M1164.6 1051.4h0M1180.5 1051.4h0M1188.4 1051.4h0M1204.2 1051.4h0M1212.1 1051.4h0M1228 1051.4h0M1235.9 1051.4h0M1251.7 1051.4h0M1259.6 1051.4h0M1275.4 1051.4h0M1283.4 1051.4h0M1291.3 1051.4h0M1299.2 1051.4h0M1307.1 1051.4h0M1315 1051.4h0M1322.9 1051.4h0M1026.1 1058.2h0M1034 1058.2h0M1041.9 1058.2h0M1049.9 1058.2h0M1057.8 1058.2h0M1065.7 1058.2h0M1073.6 1058.2h0M1081.5 1058.2h0M1097.3 1058.2h0M1105.3 1058.2h0M1121.1 1058.2h0M1129 1058.2h0M1144.8 1058.2h0M1152.8 1058.2h0M1168.6 1058.2h0M1176.5 1058.2h0M1192.3 1058.2h0M1200.2 1058.2h0M1216.1 1058.2h0M1224 1058.2h0M1239.8 1058.2h0M1247.7 1058.2h0M1263.6 1058.2h0M1271.5 1058.2h0M1279.4 1058.2h0M1287.3 1058.2h0M1295.2 1058.2h0M1303.2 1058.2h0M1311.1 1058.2h0M1319 1058.2h0M1030.1 1065.1h0M1038 1065.1h0M1045.9 1065.1h0M1053.8 1065.1h0M1061.7 1065.1h0M1069.6 1065.1h0M1077.6 1065.1h0M1093.4 1065.1h0M1101.3 1065.1h0M1117.1 1065.1h0M1125.1 1065.1h0M1140.9 1065.1h0M1148.8 1065.1h0M1164.6 1065.1h0M1172.5 1065.1h0M1188.4 1065.1h0M1196.3 1065.1h0M1212.1 1065.1h0M1220 1065.1h0M1235.9 1065.1h0M1243.8 1065.1h0M1259.6 1065.1h0M1267.5 1065.1h0M1275.4 1065.1h0M1283.4 1065.1h0M1291.3 1065.1h0M1299.2 1065.1h0M1307.1 1065.1h0M1315 1065.1h0M1322.9 1065.1h0M1026.1 1072h0M1034 1072h0M1041.9 1072h0M1049.9 1072h0M1319 1072h0M1030.1 1078.9h0M1038 1078.9h0M1045.9 1078.9h0M1053.8 1078.9h0M1315 1078.9h0M1322.9 1078.9h0M1026.1 1085.7h0M1034 1085.7h0M1041.9 1085.7h0M1049.9 1085.7h0M1319 1085.7h0M1030.1 1092.6h0M1038 1092.6h0M1045.9 1092.6h0M1053.8 1092.6h0M1315 1092.6h0M1322.9 1092.6h0M1026.1 1099.5h0M1034 1099.5h0M1041.9 1099.5h0M1049.9 1099.5h0M1319 1099.5h0M1030.1 1106.4h0M1038 1106.4h0M1045.9 1106.4h0M1053.8 1106.4h0M1315 1106.4h0M1322.9 1106.4h0M1026.1 1113.3h0M1034 1113.3h0M1041.9 1113.3h0M1049.9 1113.3h0M1319 1113.3h0M1030.1 1120.1h0M1038 1120.1h0M1045.9 1120.1h0M1053.8 1120.1h0M1315 1120.1h0M1322.9 1120.1h0M1026.1 1127h0M1034 1127h0M1041.9 1127h0M1049.9 1127h0M1319 1127h0M1030.1 1133.9h0M1038 1133.9h0M1045.9 1133.9h0M1053.8 1133.9h0M1117.1 1133.9h0M1125.1 1133.9h0M1133 1133.9h0M1140.9 1133.9h0M1148.8 1133.9h0M1156.7 1133.9h0M1164.6 1133.9h0M1172.5 1133.9h0M1180.5 1133.9h0M1188.4 1133.9h0M1196.3 1133.9h0M1204.2 1133.9h0M1212.1 1133.9h0M1220 1133.9h0M1228 1133.9h0M1235.9 1133.9h0M1243.8 1133.9h0M1251.7 1133.9h0M1259.6 1133.9h0M1267.5 1133.9h0M1275.4 1133.9h0M1315 1133.9h0M1322.9 1133.9h0M1026.1 1140.8h0M1034 1140.8h0M1041.9 1140.8h0M1049.9 1140.8h0M1113.2 1140.8h0M1121.1 1140.8h0M1129 1140.8h0M1136.9 1140.8h0M1144.8 1140.8h0M1152.8 1140.8h0M1160.7 1140.8h0M1168.6 1140.8h0M1176.5 1140.8h0M1184.4 1140.8h0M1192.3 1140.8h0M1200.2 1140.8h0M1208.2 1140.8h0M1216.1 1140.8h0M1224 1140.8h0M1231.9 1140.8h0M1239.8 1140.8h0M1247.7 1140.8h0M1255.7 1140.8h0M1263.6 1140.8h0M1271.5 1140.8h0M1319 1140.8h0M1030.1 1147.6h0M1038 1147.6h0M1045.9 1147.6h0M1053.8 1147.6h0M1117.1 1147.6h0M1125.1 1147.6h0M1267.5 1147.6h0M1275.4 1147.6h0M1315 1147.6h0M1322.9 1147.6h0M1026.1 1154.5h0M1034 1154.5h0M1041.9 1154.5h0M1049.9 1154.5h0M1113.2 1154.5h0M1121.1 1154.5h0M1263.6 1154.5h0M1271.5 1154.5h0M1319 1154.5h0M1030.1 1161.4h0M1038 1161.4h0M1045.9 1161.4h0M1053.8 1161.4h0M1117.1 1161.4h0M1125.1 1161.4h0M1267.5 1161.4h0M1275.4 1161.4h0M1315 1161.4h0M1322.9 1161.4h0M1026.1 1168.3h0M1034 1168.3h0M1041.9 1168.3h0M1049.9 1168.3h0M1113.2 1168.3h0M1121.1 1168.3h0M1263.6 1168.3h0M1271.5 1168.3h0M1319 1168.3h0M1030.1 1175.2h0M1038 1175.2h0M1045.9 1175.2h0M1053.8 1175.2h0M1117.1 1175.2h0M1125.1 1175.2h0M1267.5 1175.2h0M1275.4 1175.2h0M1315 1175.2h0M1322.9 1175.2h0M1026.1 1182h0M1034 1182h0M1041.9 1182h0M1049.9 1182h0M1113.2 1182h0M1121.1 1182h0M1263.6 1182h0M1271.5 1182h0M1319 1182h0M1030.1 1188.9h0M1038 1188.9h0M1045.9 1188.9h0M1053.8 1188.9h0M1117.1 1188.9h0M1125.1 1188.9h0M1267.5 1188.9h0M1275.4 1188.9h0M1315 1188.9h0M1322.9 1188.9h0M1026.1 1195.8h0M1034 1195.8h0M1041.9 1195.8h0M1049.9 1195.8h0M1113.2 1195.8h0M1121.1 1195.8h0M1263.6 1195.8h0M1271.5 1195.8h0M1319 1195.8h0M1030.1 1202.7h0M1038 1202.7h0M1045.9 1202.7h0M1053.8 1202.7h0M1117.1 1202.7h0M1125.1 1202.7h0M1267.5 1202.7h0M1275.4 1202.7h0M1315 1202.7h0M1322.9 1202.7h0M1026.1 1209.5h0M1034 1209.5h0M1041.9 1209.5h0M1049.9 1209.5h0M1113.2 1209.5h0M1121.1 1209.5h0M1263.6 1209.5h0M1271.5 1209.5h0M1319 1209.5h0M1030.1 1216.4h0M1038 1216.4h0M1045.9 1216.4h0M1053.8 1216.4h0M1117.1 1216.4h0M1125.1 1216.4h0M1267.5 1216.4h0M1275.4 1216.4h0M1315 1216.4h0M1322.9 1216.4h0M1026.1 1223.3h0M1034 1223.3h0M1041.9 1223.3h0M1049.9 1223.3h0M1113.2 1223.3h0M1121.1 1223.3h0M1263.6 1223.3h0M1271.5 1223.3h0M1319 1223.3h0M1030.1 1230.2h0M1038 1230.2h0M1045.9 1230.2h0M1053.8 1230.2h0M1117.1 1230.2h0M1125.1 1230.2h0M1267.5 1230.2h0M1275.4 1230.2h0M1315 1230.2h0M1322.9 1230.2h0M1026.1 1237.1h0M1034 1237.1h0M1041.9 1237.1h0M1049.9 1237.1h0M1113.2 1237.1h0M1121.1 1237.1h0M1263.6 1237.1h0M1271.5 1237.1h0M1319 1237.1h0M1030.1 1243.9h0M1038 1243.9h0M1045.9 1243.9h0M1053.8 1243.9h0M1117.1 1243.9h0M1125.1 1243.9h0M1267.5 1243.9h0M1275.4 1243.9h0M1315 1243.9h0M1322.9 1243.9h0M1026.1 1250.8h0M1034 1250.8h0M1041.9 1250.8h0M1049.9 1250.8h0M1113.2 1250.8h0M1121.1 1250.8h0M1224 1250.8h0M1231.9 1250.8h0M1239.8 1250.8h0M1247.7 1250.8h0M1255.7 1250.8h0M1263.6 1250.8h0M1271.5 1250.8h0M1319 1250.8h0M1030.1 1257.7h0M1038 1257.7h0M1045.9 1257.7h0M1053.8 1257.7h0M1117.1 1257.7h0M1125.1 1257.7h0M1228 1257.7h0M1315 1257.7h0M1322.9 1257.7h0M1026.1 1264.6h0M1034 1264.6h0M1041.9 1264.6h0M1049.9 1264.6h0M1113.2 1264.6h0M1121.1 1264.6h0M1224 1264.6h0M1231.9 1264.6h0M1319 1264.6h0M1030.1 1271.5h0M1038 1271.5h0M1045.9 1271.5h0M1053.8 1271.5h0M1117.1 1271.5h0M1125.1 1271.5h0M1228 1271.5h0M1315 1271.5h0M1322.9 1271.5h0M1026.1 1278.3h0M1034 1278.3h0M1041.9 1278.3h0M1049.9 1278.3h0M1113.2 1278.3h0M1121.1 1278.3h0M1224 1278.3h0M1231.9 1278.3h0M1319 1278.3h0M1030.1 1285.2h0M1038 1285.2h0M1045.9 1285.2h0M1053.8 1285.2h0M1117.1 1285.2h0M1125.1 1285.2h0M1228 1285.2h0M1299.2 1285.2h0M1307.1 1285.2h0M1315 1285.2h0M1322.9 1285.2h0M1026.1 1292.1h0M1034 1292.1h0M1041.9 1292.1h0M1049.9 1292.1h0M1113.2 1292.1h0M1121.1 1292.1h0M1224 1292.1h0M1231.9 1292.1h0M1303.2 1292.1h0M1311.1 1292.1h0M1319 1292.1h0M1030.1 1299h0M1038 1299h0M1045.9 1299h0M1053.8 1299h0M1117.1 1299h0M1125.1 1299h0M1228 1299h0M1299.2 1299h0M1307.1 1299h0M1315 1299h0M1322.9 1299h0M1026.1 1305.8h0M1034 1305.8h0M1041.9 1305.8h0M1049.9 1305.8h0M1113.2 1305.8h0M1121.1 1305.8h0M1224 1305.8h0M1231.9 1305.8h0M1303.2 1305.8h0M1311.1 1305.8h0M1319 1305.8h0M1030.1 1312.7h0M1038 1312.7h0M1045.9 1312.7h0M1053.8 1312.7h0M1117.1 1312.7h0M1125.1 1312.7h0M1228 1312.7h0M1299.2 1312.7h0M1307.1 1312.7h0M1315 1312.7h0M1322.9 1312.7h0M1026.1 1319.6h0M1034 1319.6h0M1041.9 1319.6h0M1049.9 1319.6h0M1113.2 1319.6h0M1121.1 1319.6h0M1224 1319.6h0M1231.9 1319.6h0M1303.2 1319.6h0M1311.1 1319.6h0M1319 1319.6h0M1030.1 1326.5h0M1038 1326.5h0M1045.9 1326.5h0M1053.8 1326.5h0M1117.1 1326.5h0M1125.1 1326.5h0M1228 1326.5h0M1299.2 1326.5h0M1307.1 1326.5h0M1315 1326.5h0M1322.9 1326.5h0M1026.1 1333.4h0M1034 1333.4h0M1041.9 1333.4h0M1049.9 1333.4h0M1113.2 1333.4h0M1121.1 1333.4h0M1129 1333.4h0M1136.9 1333.4h0M1144.8 1333.4h0M1152.8 1333.4h0M1160.7 1333.4h0M1168.6 1333.4h0M1176.5 1333.4h0M1184.4 1333.4h0M1192.3 1333.4h0M1200.2 1333.4h0M1208.2 1333.4h0M1216.1 1333.4h0M1224 1333.4h0M1231.9 1333.4h0M1303.2 1333.4h0M1311.1 1333.4h0M1319 1333.4h0M1030.1 1340.2h0M1038 1340.2h0M1045.9 1340.2h0M1053.8 1340.2h0M1299.2 1340.2h0M1307.1 1340.2h0M1315 1340.2h0M1322.9 1340.2h0M1026.1 1347.1h0M1034 1347.1h0M1041.9 1347.1h0M1049.9 1347.1h0M1303.2 1347.1h0M1311.1 1347.1h0M1319 1347.1h0M1030.1 1354h0M1038 1354h0M1045.9 1354h0M1053.8 1354h0M1299.2 1354h0M1307.1 1354h0M1315 1354h0M1322.9 1354h0M1026.1 1360.9h0M1034 1360.9h0M1041.9 1360.9h0M1049.9 1360.9h0M1303.2 1360.9h0M1311.1 1360.9h0M1319 1360.9h0M1030.1 1367.7h0M1038 1367.7h0M1045.9 1367.7h0M1053.8 1367.7h0M1299.2 1367.7h0M1307.1 1367.7h0M1315 1367.7h0M1322.9 1367.7h0M1026.1 1374.6h0M1034 1374.6h0M1041.9 1374.6h0M1049.9 1374.6h0M1303.2 1374.6h0M1311.1 1374.6h0M1319 1374.6h0M1030.1 1381.5h0M1038 1381.5h0M1045.9 1381.5h0M1053.8 1381.5h0M1299.2 1381.5h0M1307.1 1381.5h0M1315 1381.5h0M1322.9 1381.5h0M1026.1 1388.4h0M1034 1388.4h0M1041.9 1388.4h0M1049.9 1388.4h0M1303.2 1388.4h0M1311.1 1388.4h0M1319 1388.4h0M1030.1 1395.3h0M1038 1395.3h0M1045.9 1395.3h0M1053.8 1395.3h0M1299.2 1395.3h0M1307.1 1395.3h0M1315 1395.3h0M1322.9 1395.3h0M1026.1 1402.1h0M1034 1402.1h0M1041.9 1402.1h0M1049.9 1402.1h0M1303.2 1402.1h0M1311.1 1402.1h0M1319 1402.1h0M1030.1 1409h0M1038 1409h0M1045.9 1409h0M1053.8 1409h0M1299.2 1409h0M1307.1 1409h0M1315 1409h0M1322.9 1409h0M1026.1 1415.9h0M1034 1415.9h0M1041.9 1415.9h0M1049.9 1415.9h0M1303.2 1415.9h0M1311.1 1415.9h0M1319 1415.9h0M1030.1 1422.8h0M1038 1422.8h0M1045.9 1422.8h0M1053.8 1422.8h0M1299.2 1422.8h0M1307.1 1422.8h0M1315 1422.8h0M1322.9 1422.8h0M1026.1 1429.6h0M1034 1429.6h0M1041.9 1429.6h0M1049.9 1429.6h0M1303.2 1429.6h0M1311.1 1429.6h0M1319 1429.6h0M1030.1 1436.5h0M1038 1436.5h0M1045.9 1436.5h0M1053.8 1436.5h0M1299.2 1436.5h0M1307.1 1436.5h0M1315 1436.5h0M1322.9 1436.5h0M1026.1 1443.4h0M1034 1443.4h0M1041.9 1443.4h0M1049.9 1443.4h0M1057.8 1443.4h0M1065.7 1443.4h0M1081.5 1443.4h0M1089.4 1443.4h0M1105.3 1443.4h0M1113.2 1443.4h0M1129 1443.4h0M1136.9 1443.4h0M1152.8 1443.4h0M1160.7 1443.4h0M1176.5 1443.4h0M1184.4 1443.4h0M1200.2 1443.4h0M1208.2 1443.4h0M1224 1443.4h0M1231.9 1443.4h0M1247.7 1443.4h0M1255.7 1443.4h0M1271.5 1443.4h0M1279.4 1443.4h0M1287.3 1443.4h0M1295.2 1443.4h0M1303.2 1443.4h0M1311.1 1443.4h0M1319 1443.4h0M1030.1 1450.3h0M1038 1450.3h0M1045.9 1450.3h0M1053.8 1450.3h0M1061.7 1450.3h0M1077.6 1450.3h0M1085.5 1450.3h0M1101.3 1450.3h0M1109.2 1450.3h0M1125.1 1450.3h0M1133 1450.3h0M1148.8 1450.3h0M1156.7 1450.3h0M1172.5 1450.3h0M1180.5 1450.3h0M1196.3 1450.3h0M1204.2 1450.3h0M1220 1450.3h0M1228 1450.3h0M1243.8 1450.3h0M1251.7 1450.3h0M1267.5 1450.3h0M1275.4 1450.3h0M1283.4 1450.3h0M1291.3 1450.3h0M1299.2 1450.3h0M1307.1 1450.3h0M1315 1450.3h0M1322.9 1450.3h0M1026.1 1457.2h0M1034 1457.2h0M1041.9 1457.2h0M1049.9 1457.2h0M1057.8 1457.2h0M1065.7 1457.2h0M1073.6 1457.2h0M1089.4 1457.2h0M1097.3 1457.2h0M1113.2 1457.2h0M1121.1 1457.2h0M1136.9 1457.2h0M1144.8 1457.2h0M1160.7 1457.2h0M1168.6 1457.2h0M1184.4 1457.2h0M1192.3 1457.2h0M1208.2 1457.2h0M1216.1 1457.2h0M1231.9 1457.2h0M1239.8 1457.2h0M1255.7 1457.2h0M1263.6 1457.2h0M1279.4 1457.2h0M1287.3 1457.2h0M1295.2 1457.2h0M1303.2 1457.2h0M1311.1 1457.2h0M1319 1457.2h0M1030.1 1464h0M1038 1464h0M1045.9 1464h0M1053.8 1464h0M1061.7 1464h0M1069.6 1464h0M1085.5 1464h0M1093.4 1464h0M1109.2 1464h0M1117.1 1464h0M1133 1464h0M1140.9 1464h0M1156.7 1464h0M1164.6 1464h0M1180.5 1464h0M1188.4 1464h0M1204.2 1464h0M1212.1 1464h0M1228 1464h0M1235.9 1464h0M1251.7 1464h0M1259.6 1464h0M1275.4 1464h0M1283.4 1464h0M1291.3 1464h0M1299.2 1464h0M1307.1 1464h0M1315 1464h0M1322.9 1464h0M1026.1 1470.9h0M1034 1470.9h0M1041.9 1470.9h0M1049.9 1470.9h0M1057.8 1470.9h0M1065.7 1470.9h0M1073.6 1470.9h0M1081.5 1470.9h0M1097.3 1470.9h0M1105.3 1470.9h0M1121.1 1470.9h0M1129 1470.9h0M1144.8 1470.9h0M1152.8 1470.9h0M1168.6 1470.9h0M1176.5 1470.9h0M1192.3 1470.9h0M1200.2 1470.9h0M1216.1 1470.9h0M1224 1470.9h0M1239.8 1470.9h0M1247.7 1470.9h0M1263.6 1470.9h0M1271.5 1470.9h0M1279.4 1470.9h0M1287.3 1470.9h0M1295.2 1470.9h0M1303.2 1470.9h0M1311.1 1470.9h0M1319 1470.9h0M1066.5 1072.2h0M1066.5 1080.4h0M1066.5 1088.7h0M1066.5 1096.9h0M1066.5 1105.1h0M1066.5 1113.3h0M1078.8 1072.2h0M1078.8 1080.4h0M1078.8 1088.7h0M1078.8 1096.9h0M1078.8 1105.1h0M1078.8 1113.3h0M1091.2 1072.2h0M1091.2 1080.4h0M1091.2 1088.7h0M1091.2 1096.9h0M1091.2 1105.1h0M1091.2 1113.3h0M1103.6 1072.2h0M1103.6 1080.4h0M1103.6 1088.7h0M1103.6 1096.9h0M1103.6 1105.1h0M1103.6 1113.3h0M1115.9 1072.2h0M1115.9 1080.4h0M1115.9 1088.7h0M1115.9 1096.9h0M1115.9 1105.1h0M1115.9 1113.3h0M1115.9 1121.6h0M1115.9 1129.8h0M1128.3 1072.2h0M1128.3 1080.4h0M1128.3 1088.7h0M1128.3 1096.9h0M1128.3 1105.1h0M1128.3 1113.3h0M1128.3 1121.6h0M1128.3 1129.8h0M1140.7 1072.2h0M1140.7 1080.4h0M1140.7 1088.7h0M1140.7 1096.9h0M1140.7 1105.1h0M1140.7 1113.3h0M1140.7 1121.6h0M1140.7 1129.8h0M1153.1 1072.2h0M1153.1 1080.4h0M1153.1 1088.7h0M1153.1 1096.9h0M1153.1 1105.1h0M1153.1 1113.3h0M1153.1 1121.6h0M1153.1 1129.8h0M1165.4 1072.2h0M1165.4 1080.4h0M1165.4 1088.7h0M1165.4 1096.9h0M1165.4 1105.1h0M1165.4 1113.3h0M1165.4 1121.6h0M1165.4 1129.8h0M1177.8 1072.2h0M1177.8 1080.4h0M1177.8 1088.7h0M1177.8 1096.9h0M1177.8 1105.1h0M1177.8 1113.3h0M1177.8 1121.6h0M1177.8 1129.8h0M1190.2 1072.2h0M1190.2 1080.4h0M1190.2 1088.7h0M1190.2 1096.9h0M1190.2 1105.1h0M1190.2 1113.3h0M1190.2 1121.6h0M1190.2 1129.8h0M1202.6 1072.2h0M1202.6 1080.4h0M1202.6 1088.7h0M1202.6 1096.9h0M1202.6 1105.1h0M1202.6 1113.3h0M1202.6 1121.6h0M1202.6 1129.8h0M1214.9 1072.2h0M1214.9 1080.4h0M1214.9 1088.7h0M1214.9 1096.9h0M1214.9 1105.1h0M1214.9 1113.3h0M1214.9 1121.6h0M1214.9 1129.8h0M1227.3 1072.2h0M1227.3 1080.4h0M1227.3 1088.7h0M1227.3 1096.9h0M1227.3 1105.1h0M1227.3 1113.3h0M1227.3 1121.6h0M1227.3 1129.8h0M1239.7 1072.2h0M1239.7 1080.4h0M1239.7 1088.7h0M1239.7 1096.9h0M1239.7 1105.1h0M1239.7 1113.3h0M1239.7 1121.6h0M1239.7 1129.8h0M1252 1072.2h0M1252 1080.4h0M1252 1088.7h0M1252 1096.9h0M1252 1105.1h0M1252 1113.3h0M1252 1121.6h0M1252 1129.8h0M1264.4 1072.2h0M1264.4 1080.4h0M1264.4 1088.7h0M1264.4 1096.9h0M1264.4 1105.1h0M1264.4 1113.3h0M1264.4 1121.6h0M1264.4 1129.8h0M1278.2 1070.3h0M1286.4 1070.3h0M1294.6 1070.3h0M1302.8 1070.3h0M1278.2 1082.6h0M1286.4 1082.6h0M1294.6 1082.6h0M1302.8 1082.6h0M1278.2 1095h0M1286.4 1095h0M1294.6 1095h0M1302.8 1095h0M1278.2 1107.3h0M1286.4 1107.3h0M1294.6 1107.3h0M1302.8 1107.3h0M1278.2 1119.6h0M1286.4 1119.6h0M1294.6 1119.6h0M1302.8 1119.6h0M1278.2 1132h0M1286.4 1132h0M1294.6 1132h0M1302.8 1132h0M1278.2 1144.3h0M1286.4 1144.3h0M1294.6 1144.3h0M1302.8 1144.3h0M1278.2 1156.6h0M1286.4 1156.6h0M1294.6 1156.6h0M1302.8 1156.6h0M1278.2 1169h0M1286.4 1169h0M1294.6 1169h0M1302.8 1169h0M1278.2 1181.3h0M1286.4 1181.3h0M1294.6 1181.3h0M1302.8 1181.3h0M1278.2 1193.6h0M1286.4 1193.6h0M1294.6 1193.6h0M1302.8 1193.6h0M1278.2 1206h0M1286.4 1206h0M1294.6 1206h0M1302.8 1206h0M1278.2 1218.3h0M1286.4 1218.3h0M1294.6 1218.3h0M1302.8 1218.3h0M1278.2 1230.6h0M1286.4 1230.6h0M1294.6 1230.6h0M1302.8 1230.6h0M1278.2 1243h0M1286.4 1243h0M1294.6 1243h0M1302.8 1243h0M1278.2 1255.3h0M1286.4 1255.3h0M1294.6 1255.3h0M1302.8 1255.3h0M1065.3 1126.8h0M1073.5 1126.8h0M1081.7 1126.8h0M1090 1126.8h0M1098.2 1126.8h0M1106.4 1126.8h0M1065.3 1139.3h0M1073.5 1139.3h0M1081.7 1139.3h0M1090 1139.3h0M1098.2 1139.3h0M1106.4 1139.3h0M1065.3 1151.8h0M1073.5 1151.8h0M1081.7 1151.8h0M1090 1151.8h0M1098.2 1151.8h0M1106.4 1151.8h0M1065.3 1164.4h0M1073.5 1164.4h0M1081.7 1164.4h0M1090 1164.4h0M1098.2 1164.4h0M1106.4 1164.4h0M1065.3 1176.9h0M1073.5 1176.9h0M1081.7 1176.9h0M1090 1176.9h0M1098.2 1176.9h0M1106.4 1176.9h0M1065.3 1189.4h0M1073.5 1189.4h0M1081.7 1189.4h0M1090 1189.4h0M1098.2 1189.4h0M1106.4 1189.4h0M1065.3 1201.9h0M1073.5 1201.9h0M1081.7 1201.9h0M1090 1201.9h0M1098.2 1201.9h0M1106.4 1201.9h0M1065.3 1214.5h0M1073.5 1214.5h0M1081.7 1214.5h0M1090 1214.5h0M1098.2 1214.5h0M1106.4 1214.5h0M1065.3 1227h0M1073.5 1227h0M1081.7 1227h0M1090 1227h0M1098.2 1227h0M1106.4 1227h0M1065.3 1239.5h0M1073.5 1239.5h0M1081.7 1239.5h0M1090 1239.5h0M1098.2 1239.5h0M1106.4 1239.5h0M1065.3 1252h0M1073.5 1252h0M1081.7 1252h0M1090 1252h0M1098.2 1252h0M1106.4 1252h0M1065.3 1264.6h0M1073.5 1264.6h0M1081.7 1264.6h0M1090 1264.6h0M1098.2 1264.6h0M1106.4 1264.6h0M1065.3 1277.1h0M1073.5 1277.1h0M1081.7 1277.1h0M1090 1277.1h0M1098.2 1277.1h0M1106.4 1277.1h0M1065.3 1289.6h0M1073.5 1289.6h0M1081.7 1289.6h0M1090 1289.6h0M1098.2 1289.6h0M1106.4 1289.6h0M1065.3 1302.2h0M1073.5 1302.2h0M1081.7 1302.2h0M1090 1302.2h0M1098.2 1302.2h0M1106.4 1302.2h0M1065.3 1314.7h0M1073.5 1314.7h0M1081.7 1314.7h0M1090 1314.7h0M1098.2 1314.7h0M1106.4 1314.7h0M1065.3 1327.2h0M1073.5 1327.2h0M1081.7 1327.2h0M1090 1327.2h0M1098.2 1327.2h0M1106.4 1327.2h0M1065.3 1339.7h0M1073.5 1339.7h0M1081.7 1339.7h0M1090 1339.7h0M1098.2 1339.7h0M1106.4 1339.7h0M1065.3 1352.3h0M1073.5 1352.3h0M1081.7 1352.3h0M1090 1352.3h0M1098.2 1352.3h0M1106.4 1352.3h0M1065.3 1364.8h0M1073.5 1364.8h0M1081.7 1364.8h0M1090 1364.8h0M1098.2 1364.8h0M1106.4 1364.8h0M1065.3 1377.3h0M1073.5 1377.3h0M1081.7 1377.3h0M1090 1377.3h0M1098.2 1377.3h0M1106.4 1377.3h0M1238.8 1257.4h0M1247 1257.4h0M1255.2 1257.4h0M1263.4 1257.4h0M1271.6 1257.4h0M1279.9 1257.4h0M1288.1 1257.4h0M1238.8 1269.7h0M1247 1269.7h0M1255.2 1269.7h0M1263.4 1269.7h0M1271.6 1269.7h0M1279.9 1269.7h0M1288.1 1269.7h0M1238.8 1282h0M1247 1282h0M1255.2 1282h0M1263.4 1282h0M1271.6 1282h0M1279.9 1282h0M1288.1 1282h0M1245.1 1294.3h0M1253.4 1294.3h0M1261.6 1294.3h0M1269.8 1294.3h0M1278 1294.3h0M1286.2 1294.3h0M1245.1 1306.7h0M1253.4 1306.7h0M1261.6 1306.7h0M1269.8 1306.7h0M1278 1306.7h0M1286.2 1306.7h0M1245.1 1319.1h0M1253.4 1319.1h0M1261.6 1319.1h0M1269.8 1319.1h0M1278 1319.1h0M1286.2 1319.1h0M1245.1 1331.5h0M1253.4 1331.5h0M1261.6 1331.5h0M1269.8 1331.5h0M1278 1331.5h0M1286.2 1331.5h0M1245.1 1344h0M1253.4 1344h0M1261.6 1344h0M1269.8 1344h0M1278 1344h0M1286.2 1344h0M1245.1 1356.4h0M1253.4 1356.4h0M1261.6 1356.4h0M1269.8 1356.4h0M1278 1356.4h0M1286.2 1356.4h0M1245.1 1368.8h0M1253.4 1368.8h0M1261.6 1368.8h0M1269.8 1368.8h0M1278 1368.8h0M1286.2 1368.8h0M1245.1 1381.2h0M1253.4 1381.2h0M1261.6 1381.2h0M1269.8 1381.2h0M1278 1381.2h0M1286.2 1381.2h0M1133.7 1345.6h0M1133.7 1353.8h0M1133.7 1362h0M1133.7 1370.2h0M1133.7 1378.5h0M1133.7 1386.7h0M1133.7 1394.9h0M1133.7 1403.1h0M1133.7 1411.4h0M1133.7 1419.6h0M1133.7 1427.8h0M1133.7 1436h0M1148.6 1345.6h0M1148.6 1353.8h0M1148.6 1362h0M1148.6 1370.2h0M1148.6 1378.5h0M1148.6 1386.7h0M1148.6 1394.9h0M1148.6 1403.1h0M1148.6 1411.4h0M1148.6 1419.6h0M1148.6 1427.8h0M1148.6 1436h0M1163.5 1345.6h0M1163.5 1353.8h0M1163.5 1362h0M1163.5 1370.2h0M1163.5 1378.5h0M1163.5 1386.7h0M1163.5 1394.9h0M1163.5 1403.1h0M1163.5 1411.4h0M1163.5 1419.6h0M1163.5 1427.8h0M1163.5 1436h0M1178.4 1345.6h0M1178.4 1353.8h0M1178.4 1362h0M1178.4 1370.2h0M1178.4 1378.5h0M1178.4 1386.7h0M1178.4 1394.9h0M1178.4 1403.1h0M1178.4 1411.4h0M1178.4 1419.6h0M1178.4 1427.8h0M1178.4 1436h0M1193.3 1345.6h0M1193.3 1353.8h0M1193.3 1362h0M1193.3 1370.2h0M1193.3 1378.5h0M1193.3 1386.7h0M1193.3 1394.9h0M1193.3 1403.1h0M1193.3 1411.4h0M1193.3 1419.6h0M1193.3 1427.8h0M1193.3 1436h0M1208.2 1345.6h0M1208.2 1353.8h0M1208.2 1362h0M1208.2 1370.2h0M1208.2 1378.5h0M1208.2 1386.7h0M1208.2 1394.9h0M1208.2 1403.1h0M1208.2 1411.4h0M1208.2 1419.6h0M1208.2 1427.8h0M1208.2 1436h0M1223.2 1345.6h0M1223.2 1353.8h0M1223.2 1362h0M1223.2 1370.2h0M1223.2 1378.5h0M1223.2 1386.7h0M1223.2 1394.9h0M1223.2 1403.1h0M1223.2 1411.4h0M1223.2 1419.6h0M1223.2 1427.8h0M1223.2 1436h0M1066.5 1387.3h0M1066.5 1395.5h0M1066.5 1403.7h0M1066.5 1412h0M1066.5 1420.2h0M1066.5 1428.4h0M1066.5 1436.6h0M1078.8 1387.3h0M1078.8 1395.5h0M1078.8 1403.7h0M1078.8 1412h0M1078.8 1420.2h0M1078.8 1428.4h0M1078.8 1436.6h0M1091.4 1387.3h0M1091.4 1395.5h0M1091.4 1403.7h0M1091.4 1412h0M1091.4 1420.2h0M1091.4 1428.4h0M1091.4 1436.6h0M1104.9 1387.3h0M1104.9 1395.5h0M1104.9 1403.7h0M1104.9 1412h0M1104.9 1420.2h0M1104.9 1428.4h0M1104.9 1436.6h0M1241.3 1396.9h0M1241.3 1405.1h0M1241.3 1413.4h0M1241.3 1421.6h0M1241.3 1429.8h0M1253.6 1396.9h0M1253.6 1405.1h0M1253.6 1413.4h0M1253.6 1421.6h0M1253.6 1429.8h0M1265.9 1396.9h0M1265.9 1405.1h0M1265.9 1413.4h0M1265.9 1421.6h0M1265.9 1429.8h0M1278.2 1396.9h0M1278.2 1405.1h0M1278.2 1413.4h0M1278.2 1421.6h0M1278.2 1429.8h0M1289.7 1396.9h0M1289.7 1405.1h0M1289.7 1413.4h0M1289.7 1421.6h0M1289.7 1429.8h0"/>
<path fill="none" stroke="#149b1a" stroke-width="2.8" stroke-linejoin="round" d="M305.8 583.3a7 7 0 1 0 14 0a7 7 0 1 0 -14 0zM305.8 1878a7 7 0 1 0 14 0a7 7 0 1 0 -14 0zM2305 571.8a7 7 0 1 0 14 0a7 7 0 1 0 -14 0zM2305 1876.3a7 7 0 1 0 14 0a7 7 0 1 0 -14 0zM2680.5 583.3a7 7 0 1 0 14 0a7 7 0 1 0 -14 0zM2680.5 1878a7 7 0 1 0 14 0a7 7 0 1 0 -14 0zM4679.7 571.8a7 7 0 1 0 14 0a7 7 0 1 0 -14 0zM4679.7 1876.3a7 7 0 1 0 14 0a7 7 0 1 0 -14 0zM439 525.1H446.9V558H439zM446.9 525.1H454.3V558H446.9zM455.1 530.8a11.6 11.6 0 0 1 23.1 0V547.7a11.6 11.6 0 0 1 -23.1 0zM458.6 530.8a8.1 8.1 0 0 1 16.1 0V547.7a8.1 8.1 0 0 1 -16.1 0zM498.9 552.5a14.5 14.5 0 1 0 29 0a14.5 14.5 0 1 0 -29 0zM546.6 554.1a6.7 6.7 0 1 0 13.4 0a6.7 6.7 0 1 0 -13.4 0zM581.9 530.8a11.6 11.6 0 0 1 23.1 0V547.7a11.6 11.6 0 0 1 -23.1 0zM585.4 530.8a8.1 8.1 0 0 1 16.1 0V547.7a8.1 8.1 0 0 1 -16.1 0zM668 527.9a8.6 8.6 0 0 1 17.2 0V543.6a8.6 8.6 0 0 1 -17.2 0zM779.5 527.9a8.7 8.7 0 0 1 17.3 0V543.6a8.7 8.7 0 0 1 -17.3 0zM818.7 525.9H826.1V559.2H818.7zM826.1 525.9H834V559.2H826.1zM867.2 556.2a10.8 10.8 0 0 1 21.5 0V560.1a10.8 10.8 0 0 1 -21.5 0zM620.3 549.4H628.5V556.8H620.3zM620.3 559.7H628.5V567H620.3zM635.1 547.5H642.5V556H635.1zM635.1 559.3H642.5V567.8H635.1zM645.4 547.5H652.7V556H645.4zM645.4 559.3H652.7V567.8H645.4zM634.7 573.3H648.8V588.9H634.7zM684.4 575.6a4.3 4.3 0 1 0 8.6 0a4.3 4.3 0 1 0 -8.6 0zM772.5 575.6a4.3 4.3 0 1 0 8.6 0a4.3 4.3 0 1 0 -8.6 0zM668.8 587.9a8.4 8.4 0 0 1 16.8 0V601.7a8.4 8.4 0 0 1 -16.8 0zM685.8 581.5a4.5 4.5 0 0 1 0 9H679.2a4.5 4.5 0 0 1 0 -9zM779.5 588a8.5 8.5 0 0 1 16.9 0V601.6a8.5 8.5 0 0 1 -16.9 0zM786.8 581.5a4.5 4.5 0 0 1 0 9H780.1a4.5 4.5 0 0 1 0 -9zM610.1 597.6H617.9V605.1H610.1zM610.1 608H617.9V615.6H610.1zM621 601.5H635.9V617.1H621zM648 601.5H662.1V617.1H648zM610.1 625H618.8V632.2H610.1zM610.1 635H618.8V642.2H610.1zM622.1 625H630.8V632.2H622.1zM622.1 635H630.8V642.2H622.1zM639.4 632.8H655.9V648.4H639.4zM666.8 632.8H683.3V648.4H666.8zM817.1 636.7H833.6V653.1H817.1zM844.5 636.7H861V653.1H844.5zM886 634a11 11 0 0 1 21.9 0V648.8a11 11 0 0 1 -21.9 0zM1073.1 634a11 11 0 0 1 21.9 0V648.8a11 11 0 0 1 -21.9 0zM933.8 626.1a4.7 4.7 0 1 0 9.4 0a4.7 4.7 0 1 0 -9.4 0zM946.7 626.1a4.7 4.7 0 1 0 9.4 0a4.7 4.7 0 1 0 -9.4 0zM959.6 626.1a4.7 4.7 0 1 0 9.4 0a4.7 4.7 0 1 0 -9.4 0zM972.5 626.1a4.7 4.7 0 1 0 9.4 0a4.7 4.7 0 1 0 -9.4 0zM985.4 626.1a4.7 4.7 0 1 0 9.4 0a4.7 4.7 0 1 0 -9.4 0zM998.3 626.1a4.7 4.7 0 1 0 9.4 0a4.7 4.7 0 1 0 -9.4 0zM1011.2 626.1a4.7 4.7 0 1 0 9.4 0a4.7 4.7 0 1 0 -9.4 0zM1024.2 626.1a4.7 4.7 0 1 0 9.4 0a4.7 4.7 0 1 0 -9.4 0zM1037.1 626.1a4.7 4.7 0 1 0 9.4 0a4.7 4.7 0 1 0 -9.4 0zM926.8 645.7a4.7 4.7 0 1 0 9.4 0a4.7 4.7 0 1 0 -9.4 0zM939.7 645.7a4.7 4.7 0 1 0 9.4 0a4.7 4.7 0 1 0 -9.4 0zM952.7 645.7a4.7 4.7 0 1 0 9.4 0a4.7 4.7 0 1 0 -9.4 0zM965.7 645.7a4.7 4.7 0 1 0 9.4 0a4.7 4.7 0 1 0 -9.4 0zM978.7 645.7a4.7 4.7 0 1 0 9.4 0a4.7 4.7 0 1 0 -9.4 0zM991.7 645.7a4.7 4.7 0 1 0 9.4 0a4.7 4.7 0 1 0 -9.4 0zM1004.7 645.7a4.7 4.7 0 1 0 9.4 0a4.7 4.7 0 1 0 -9.4 0zM1017.7 645.7a4.7 4.7 0 1 0 9.4 0a4.7 4.7 0 1 0 -9.4 0zM1030.7 645.7a4.7 4.7 0 1 0 9.4 0a4.7 4.7 0 1 0 -9.4 0zM1043.7 645.7a4.7 4.7 0 1 0 9.4 0a4.7 4.7 0 1 0 -9.4 0zM1092.3 555.9a10.4 10.4 0 0 1 20.7 0V560.5a10.4 10.4 0 0 1 -20.7 0zM1136.5 525.9H1152.9V541.6H1136.5zM1136.5 553.3H1152.9V569H1136.5zM1119.7 560H1130.6V573.3H1119.7zM1119.7 579.9H1130.6V593.2H1119.7zM1138.5 575.6H1146.3V583.2H1138.5zM1138.5 586.1H1146.3V593.6H1138.5zM1161.9 591.5a8.8 8.8 0 0 1 17.6 0V613.8a8.8 8.8 0 0 1 -17.6 0zM1128.7 612H1147.5V621.8H1128.7zM1131.8 644.1H1139.5V651.6H1131.8zM1142.5 644.1H1150.2V651.6H1142.5zM1119.7 657H1133.4V667.6H1119.7zM1138.5 657H1152.9V667.6H1138.5zM359.6 623H385.8V664.9H359.6zM422.6 623H448.8V664.9H422.6zM457.4 626.7a14.7 14.7 0 0 1 29.4 0V638.4a14.7 14.7 0 0 1 -29.4 0zM498.9 626.7a14.7 14.7 0 0 1 29.4 0V639.2a14.7 14.7 0 0 1 -29.4 0zM502.4 626.8a11.2 11.2 0 0 1 22.4 0V639.2a11.2 11.2 0 0 1 -22.4 0zM567 626.7a14.7 14.7 0 0 1 29.4 0V639.2a14.7 14.7 0 0 1 -29.4 0zM570.5 626.8a11.2 11.2 0 0 1 22.4 0V639.2a11.2 11.2 0 0 1 -22.4 0zM501.7 669.6a11.7 11.7 0 1 0 23.4 0a11.7 11.7 0 1 0 -23.4 0zM376 673.5H426.1V709.9H376zM483.7 688.4L497.4 688.4L497.4 700.1L504.4 700.1L504.4 741.2L497.4 741.2L497.4 752.9L483.7 752.9zM558 688.4L544.3 688.4L544.3 700.1L536.9 700.1L536.9 741.2L544.3 741.2L544.3 752.9L558 752.9zM461.4 711.1H472.3V724.4H461.4zM444.5 731.4H455.5V743.9H444.5zM461.4 731.4H472.3V743.9H461.4zM444.5 751H455.5V763.5H444.5zM564.3 673.5H601.1V722.8H564.3zM655.9 673.5H693.1V722.8H655.9zM706.8 667.6H715.7V675.1H706.8zM706.8 678.1H715.7V685.6H706.8zM722.1 667.6H731.1V675.1H722.1zM722.1 678.1H731.1V685.6H722.1zM737.5 667.6H746.5V675.1H737.5zM737.5 678.1H746.5V685.6H737.5zM752.9 667.6H761.8V675.1H752.9zM752.9 678.1H761.8V685.6H752.9zM768.3 667.6H777.2V675.1H768.3zM768.3 678.1H777.2V685.6H768.3zM783.7 667.6H792.6V675.1H783.7zM783.7 678.1H792.6V685.6H783.7zM799.1 667.6H808V675.1H799.1zM799.1 678.1H808V685.6H799.1zM814.5 667.6H823.4V675.1H814.5zM814.5 678.1H823.4V685.6H814.5zM708.7 697H717.3V704.5H708.7zM708.7 707.4H717.3V715H708.7zM723.6 697H732.2V704.5H723.6zM723.6 707.4H732.2V715H723.6zM738.4 697H747.1V704.5H738.4zM738.4 707.4H747.1V715H738.4zM753.3 697H761.9V704.5H753.3zM753.3 707.4H761.9V715H753.3zM768.2 697H776.8V704.5H768.2zM768.2 707.4H776.8V715H768.2zM783.1 697H791.7V704.5H783.1zM783.1 707.4H791.7V715H783.1zM797.9 697H806.6V704.5H797.9zM797.9 707.4H806.6V715H797.9zM812.8 697H821.4V704.5H812.8zM812.8 707.4H821.4V715H812.8zM874.3 672.7H881.6V680.5H874.3zM884.5 672.7H891.9V680.5H884.5zM880.1 699.3H885.2V708.7H880.1zM1017.1 672.7H1024.6V685.6H1017.1zM1029.6 672.7H1037.1V685.6H1029.6zM1042.1 672.7H1049.6V685.6H1042.1zM1060.2 676.6H1067.9V684.4H1060.2zM1070.9 676.6H1078.6V684.4H1070.9zM1084.8 674.7H1098.5V685.6H1084.8zM1104.4 674.7H1118.9V685.6H1104.4zM895.8 705.2H904.3V712.9H895.8zM895.8 715.9H904.3V723.6H895.8zM910.5 705.2H919V712.9H910.5zM910.5 715.9H919V723.6H910.5zM925.2 705.2H933.8V712.9H925.2zM925.2 715.9H933.8V723.6H925.2zM939.9 705.2H948.5V712.9H939.9zM939.9 715.9H948.5V723.6H939.9zM954.7 705.2H963.2V712.9H954.7zM954.7 715.9H963.2V723.6H954.7zM969.4 705.2H977.9V712.9H969.4zM969.4 715.9H977.9V723.6H969.4zM984.1 705.2H992.6V712.9H984.1zM984.1 715.9H992.6V723.6H984.1zM998.8 705.2H1007.3V712.9H998.8zM998.8 715.9H1007.3V723.6H998.8zM854.7 711.8H862.4V719.7H854.7zM854.7 724.9H862.4V732.7H854.7zM854.7 737.9H862.4V745.8H854.7zM854.7 751H862.4V758.8H854.7zM854.7 764H862.4V771.9H854.7zM854.7 777.1H862.4V784.9H854.7zM854.7 790.1H862.4V797.9H854.7zM865.4 711.8H873.1V719.7H865.4zM865.4 724.9H873.1V732.7H865.4zM865.4 737.9H873.1V745.8H865.4zM865.4 751H873.1V758.8H865.4zM865.4 764H873.1V771.9H865.4zM865.4 777.1H873.1V784.9H865.4zM865.4 790.1H873.1V797.9H865.4zM898.9 731.4H907.2V739.1H898.9zM898.9 742.1H907.2V749.8H898.9zM913.2 731.4H921.5V739.1H913.2zM913.2 742.1H921.5V749.8H913.2zM927.5 731.4H935.8V739.1H927.5zM927.5 742.1H935.8V749.8H927.5zM941.8 731.4H950.1V739.1H941.8zM941.8 742.1H950.1V749.8H941.8zM956.1 731.4H964.4V739.1H956.1zM956.1 742.1H964.4V749.8H956.1zM970.4 731.4H978.7V739.1H970.4zM970.4 742.1H978.7V749.8H970.4zM984.7 731.4H993V739.1H984.7zM984.7 742.1H993V749.8H984.7zM999 731.4H1007.3V739.1H999zM999 742.1H1007.3V749.8H999zM1017.1 708.7H1024.6V721.6H1017.1zM1029.6 708.7H1037.1V721.6H1029.6zM1042.1 708.7H1049.6V721.6H1042.1zM1015.2 737.3H1023.7V744.7H1015.2zM1015.2 747.5H1023.7V754.9H1015.2zM1029.5 737.3H1038V744.7H1029.5zM1029.5 747.5H1038V754.9H1029.5zM1043.8 737.3H1052.3V744.7H1043.8zM1043.8 747.5H1052.3V754.9H1043.8zM1072.7 694.2H1080.5V702.4H1072.7zM1072.7 710.7H1080.5V718.9H1072.7zM1072.7 727.1H1080.5V735.3H1072.7zM1072.7 743.5H1080.5V751.8H1072.7zM1086.4 697.4H1119.7V749H1086.4zM1128.7 697.4L1146.3 697.4L1146.3 704L1140.4 704L1140.4 742.4L1146.3 742.4L1146.3 749L1128.7 749zM1146.3 694.2H1154.1V702.4H1146.3zM1146.3 710.7H1154.1V718.9H1146.3zM1146.3 727.1H1154.1V735.3H1146.3zM1146.3 743.5H1154.1V751.8H1146.3zM1090.3 757.6H1136.5V792.1H1090.3zM1161.2 760.8H1168.2V767.6H1161.2zM1161.2 770.3H1168.2V777.2H1161.2zM1177.6 715.8H1186.2V722.6H1177.6zM1177.6 725.3H1186.2V732.2H1177.6zM628.5 747.1H670V773.3H628.5zM713.8 745.1H720.8V752H713.8zM713.8 756.6H720.8V763.5H713.8zM713.8 768.1H720.8V775H713.8zM713.8 779.6H720.8V786.5H713.8zM713.8 791.1H720.8V797.9H713.8zM723.6 745.1H730.6V752H723.6zM723.6 756.6H730.6V763.5H723.6zM723.6 768.1H730.6V775H723.6zM723.6 779.6H730.6V786.5H723.6zM723.6 791.1H730.6V797.9H723.6zM738.5 736.5H747V743.4H738.5zM738.5 746.1H747V752.9H738.5zM750.3 736.5H758.8V743.4H750.3zM750.3 746.1H758.8V752.9H750.3zM822.2 734.5H830.9V741.4H822.2zM822.2 744.1H830.9V751H822.2zM834.3 734.5H843V741.4H834.3zM834.3 744.1H843V751H834.3zM911.4 765.9H919.8V773.1H911.4zM911.4 775.9H919.8V783.1H911.4zM925.3 765.9H933.6V773.1H925.3zM925.3 775.9H933.6V783.1H925.3zM939.1 765.9H947.5V773.1H939.1zM939.1 775.9H947.5V783.1H939.1zM887.2 777.2H894.4V785H887.2zM897.2 777.2H904.4V785H897.2zM376 765.9H425.9V801.5H376zM446.7 780.1a11 11 0 1 0 22 0a11 11 0 1 0 -22 0zM490.8 765.9H506.7V774.1H490.8zM559.3 765.9H575.2V774.1H559.3zM490.8 782.3H506.7V790.5H490.8zM559.3 782.3H575.2V790.5H559.3zM490.8 799.3H506.7V807.5H490.8zM559.3 799.3H575.2V807.5H559.3zM490.8 815.2H506.7V823.4H490.8zM559.3 815.2H575.2V823.4H559.3zM507.5 767.8L538.2 767.8L538.2 762.3L545.1 762.3L545.1 767.8L547.8 767.8L547.8 791.1L507.5 791.1zM507.5 797.9L547.8 797.9L547.8 820.7L545.1 820.7L545.1 826.7L538.2 826.7L538.2 820.7L507.5 820.7zM585.3 765.1H592.9V773.3H585.3zM595.9 765.1H603.4V773.3H595.9zM584 784.2H592.7V791.7H584zM584 794.6H592.7V802.1H584zM596.1 784.2H604.8V791.7H596.1zM596.1 794.6H604.8V802.1H596.1zM586.7 815.8H594.3V824H586.7zM597.2 815.8H604.8V824H597.2zM587.5 830.3H595V838.5H587.5zM597.9 830.3H605.3V838.5H597.9zM628.6 810.3H670.5V836.6H628.6zM682.1 784.2H689.5V792.5H682.1zM682.1 797.9H689.5V806.2H682.1zM682.1 811.6H689.5V819.9H682.1zM682.1 825.3H689.5V833.6H682.1zM692.4 784.2H699.9V792.5H692.4zM692.4 797.9H699.9V806.2H692.4zM692.4 811.6H699.9V819.9H692.4zM692.4 825.3H699.9V833.6H692.4zM713.6 812.5H721V820.7H713.6zM723.9 812.5H731.4V820.7H723.9zM714.9 829.5H722.6V837.5H714.9zM714.9 842.9H722.6V851H714.9zM714.9 856.4H722.6V864.5H714.9zM725.6 829.5H733.3V837.5H725.6zM725.6 842.9H733.3V851H725.6zM725.6 856.4H733.3V864.5H725.6zM763.7 777.4H821.2V834.9H763.7zM855.2 806.2H863V814.4H855.2zM855.2 819.9H863V828.1H855.2zM855.2 833.6H863V841.8H855.2zM855.2 847.3H863V855.5H855.2zM866 806.2H873.8V814.4H866zM866 819.9H873.8V828.1H866zM866 833.6H873.8V841.8H866zM866 847.3H873.8V855.5H866zM858.8 861.8H866.2V870.4H858.8zM858.8 876.2H866.2V884.9H858.8zM858.8 890.7H866.2V899.3H858.8zM869.1 861.8H876.6V870.4H869.1zM869.1 876.2H876.6V884.9H869.1zM869.1 890.7H876.6V899.3H869.1zM843.7 850.8a4.1 4.1 0 1 0 8.2 0a4.1 4.1 0 1 0 -8.2 0zM885.6 863.7H893.8V871.2H885.6zM885.6 874.1H893.8V881.5H885.6zM886.2 776.8H894V785.1H886.2zM897 776.8H904.8V785.1H897zM913 765.1H921V772.8H913zM913 775.7H921V783.4H913zM926.4 765.1H934.4V772.8H926.4zM926.4 775.7H934.4V783.4H926.4zM939.8 765.1H947.8V772.8H939.8zM939.8 775.7H947.8V783.4H939.8zM948.6 793.3H983.4V832.7H948.6zM1014.4 793.3H1050.5V832.7H1014.4zM930.8 869.7H963.4V909.7H930.8zM1011.4 869.7H1045.1V909.7H1011.4zM910.8 847.3H925.1V859H910.8zM930.5 847.3H944.5V859H930.5zM386.2 822.6H397.1V835.5H386.2zM431.4 822.6H438.8V830.3H431.4zM441.7 822.6H449.2V830.3H441.7zM371.1 836.3H379.3V843.5H371.1zM371.1 846.3H379.3V853.6H371.1zM386.2 842.6H397.1V855.5H386.2zM402.6 837.1H410.8V844.5H402.6zM402.6 847.3H410.8V854.7H402.6zM416.8 836.3H425.8V843.8H416.8zM416.8 846.7H425.8V854.1H416.8zM429.3 836.3H438.2V843.8H429.3zM429.3 846.7H438.2V854.1H429.3zM443.7 834.9H451.2V843.9H443.7zM443.7 847.4H451.2V856.3H443.7zM454.1 834.9H461.5V843.9H454.1zM454.1 847.4H461.5V856.3H454.1zM477.9 837.1H485.4V844.5H477.9zM488.3 837.1H495.8V844.5H488.3zM393.6 868.4a3.9 3.9 0 0 1 7.7 0V883.1a3.9 3.9 0 0 1 -7.7 0zM410 868.4a3.9 3.9 0 0 1 7.7 0V883.1a3.9 3.9 0 0 1 -7.7 0zM426.4 868.4a3.9 3.9 0 0 1 7.7 0V883.1a3.9 3.9 0 0 1 -7.7 0zM442.8 868.4a3.9 3.9 0 0 1 7.7 0V883.1a3.9 3.9 0 0 1 -7.7 0zM393.6 934.1a3.9 3.9 0 0 1 7.7 0V949.4a3.9 3.9 0 0 1 -7.7 0zM410 934.1a3.9 3.9 0 0 1 7.7 0V949.4a3.9 3.9 0 0 1 -7.7 0zM426.4 934.1a3.9 3.9 0 0 1 7.7 0V949.4a3.9 3.9 0 0 1 -7.7 0zM442.8 934.1a3.9 3.9 0 0 1 7.7 0V949.4a3.9 3.9 0 0 1 -7.7 0zM485.3 885.6H503.8V901.7H485.3zM485.3 910.4H503.8V926.6H485.3zM485.3 935.2H503.8V951.4H485.3zM511 885.6H529.5V901.7H511zM511 910.4H529.5V926.6H511zM511 935.2H529.5V951.4H511zM561.5 844.5H570.5V861.5H561.5zM577.9 844.5H587V861.5H577.9zM594.4 844.5H603.4V861.5H594.4zM610.8 844.5H619.9V861.5H610.8zM561.5 913.8H570.5V930.3H561.5zM577.9 913.8H587V930.3H577.9zM594.4 913.8H603.4V930.3H594.4zM610.8 913.8H619.9V930.3H610.8zM558.2 874.7L588.4 874.7L588.4 913.8L565.1 913.8L565.1 882.9L558.2 882.9zM593.8 874.7L623.2 874.7L623.2 882.9L616.3 882.9L616.3 913.8L593.8 913.8zM650.5 847.3H668.9V864.8H650.5zM650.5 871.6H668.9V889.2H650.5zM676 847.3H694.4V864.8H676zM676 871.6H694.4V889.2H676zM663.7 896H671.4V904.2H663.7zM676.6 896H684.3V904.2H676.6zM689.4 896H697.1V904.2H689.4zM702.3 896H710V904.2H702.3zM631.4 914.4H665.1V939H631.4zM631.4 949.5H665.1V973.3H631.4zM677.4 933.6H692.2V941.5H677.4zM677.4 945.8H692.2V953.7H677.4zM677.4 958H692.2V965.9H677.4zM710.8 933.6H725.9V941.5H710.8zM710.8 945.8H725.9V953.7H710.8zM710.8 958H725.9V965.9H710.8zM706.7 913H721V925.3H706.7zM726.4 913H741V925.3H726.4zM737.4 876H745.7V883.5H737.4zM737.4 886.4H745.7V893.8H737.4zM751.8 876H760.1V883.5H751.8zM751.8 886.4H760.1V893.8H751.8zM766.2 876H774.5V883.5H766.2zM766.2 886.4H774.5V893.8H766.2zM780.6 876H788.9V883.5H780.6zM780.6 886.4H788.9V893.8H780.6zM794.9 876H803.3V883.5H794.9zM794.9 886.4H803.3V893.8H794.9zM809.3 876H817.7V883.5H809.3zM809.3 886.4H817.7V893.8H809.3zM823.7 876H832.1V883.5H823.7zM823.7 886.4H832.1V893.8H823.7zM838.1 876H846.4V883.5H838.1zM838.1 886.4H846.4V893.8H838.1zM747 905.6H755.8V913H747zM747 915.8H755.8V923.2H747zM762.1 905.6H770.9V913H762.1zM762.1 915.8H770.9V923.2H762.1zM777.2 905.6H786V913H777.2zM777.2 915.8H786V923.2H777.2zM792.3 905.6H801.1V913H792.3zM792.3 915.8H801.1V923.2H792.3zM807.4 905.6H816.2V913H807.4zM807.4 915.8H816.2V923.2H807.4zM822.6 905.6H831.3V913H822.6zM822.6 915.8H831.3V923.2H822.6zM837.7 905.6H846.4V913H837.7zM837.7 915.8H846.4V923.2H837.7zM776.6 933.6H785.3V941H776.6zM776.6 943.9H785.3V951.4H776.6zM806.2 933.6H814.9V941H806.2zM806.2 943.9H814.9V951.4H806.2zM730.5 967H739.6V974.6H730.5zM730.5 977.5H739.6V985.1H730.5zM680.7 978.2H688.4V986.2H680.7zM691.4 978.2H699V986.2H691.4zM706.7 978.2H714.5V986.2H706.7zM717.5 978.2H725.3V986.2H717.5zM680.7 991.9H688.4V999.9H680.7zM691.4 991.9H699V999.9H691.4zM986.2 922.6H1000.5V934H986.2zM986.2 940.2H1000.5V951.6H986.2zM986.2 957.8H1000.5V969.2H986.2zM1006.1 922.6H1020.4V934H1006.1zM1006.1 940.2H1020.4V951.6H1006.1zM1006.1 957.8H1020.4V969.2H1006.1zM1174.6 671.5a8.8 8.8 0 1 0 17.6 0a8.8 8.8 0 1 0 -17.6 0zM1203.7 671.5a8.8 8.8 0 1 0 17.6 0a8.8 8.8 0 1 0 -17.6 0zM1326.7 671.5a8.8 8.8 0 1 0 17.6 0a8.8 8.8 0 1 0 -17.6 0zM1356.2 671.5a8.8 8.8 0 1 0 17.6 0a8.8 8.8 0 1 0 -17.6 0zM1220.9 685.2a7.7 7.7 0 1 0 15.4 0a7.7 7.7 0 1 0 -15.4 0zM1247.2 685.2a7.7 7.7 0 1 0 15.4 0a7.7 7.7 0 1 0 -15.4 0zM1273.3 685.2a7.7 7.7 0 1 0 15.4 0a7.7 7.7 0 1 0 -15.4 0zM1299.3 685.2a7.7 7.7 0 1 0 15.4 0a7.7 7.7 0 1 0 -15.4 0zM1233.5 699.7a7.7 7.7 0 1 0 15.4 0a7.7 7.7 0 1 0 -15.4 0zM1259.6 699.7a7.7 7.7 0 1 0 15.4 0a7.7 7.7 0 1 0 -15.4 0zM1286.1 699.7a7.7 7.7 0 1 0 15.4 0a7.7 7.7 0 1 0 -15.4 0zM1312.2 699.7a7.7 7.7 0 1 0 15.4 0a7.7 7.7 0 1 0 -15.4 0zM1439.1 671.5a8.8 8.8 0 1 0 17.6 0a8.8 8.8 0 1 0 -17.6 0zM1468.2 671.5a8.8 8.8 0 1 0 17.6 0a8.8 8.8 0 1 0 -17.6 0zM1591.2 671.5a8.8 8.8 0 1 0 17.6 0a8.8 8.8 0 1 0 -17.6 0zM1620.7 671.5a8.8 8.8 0 1 0 17.6 0a8.8 8.8 0 1 0 -17.6 0zM1485.4 685.2a7.7 7.7 0 1 0 15.4 0a7.7 7.7 0 1 0 -15.4 0zM1511.7 685.2a7.7 7.7 0 1 0 15.4 0a7.7 7.7 0 1 0 -15.4 0zM1537.8 685.2a7.7 7.7 0 1 0 15.4 0a7.7 7.7 0 1 0 -15.4 0zM1563.8 685.2a7.7 7.7 0 1 0 15.4 0a7.7 7.7 0 1 0 -15.4 0zM1498 699.7a7.7 7.7 0 1 0 15.4 0a7.7 7.7 0 1 0 -15.4 0zM1524.1 699.7a7.7 7.7 0 1 0 15.4 0a7.7 7.7 0 1 0 -15.4 0zM1550.6 699.7a7.7 7.7 0 1 0 15.4 0a7.7 7.7 0 1 0 -15.4 0zM1576.7 699.7a7.7 7.7 0 1 0 15.4 0a7.7 7.7 0 1 0 -15.4 0zM1703.6 671.5a8.8 8.8 0 1 0 17.6 0a8.8 8.8 0 1 0 -17.6 0zM1732.7 671.5a8.8 8.8 0 1 0 17.6 0a8.8 8.8 0 1 0 -17.6 0zM1855.7 671.5a8.8 8.8 0 1 0 17.6 0a8.8 8.8 0 1 0 -17.6 0zM1885.2 671.5a8.8 8.8 0 1 0 17.6 0a8.8 8.8 0 1 0 -17.6 0zM1749.9 685.2a7.7 7.7 0 1 0 15.4 0a7.7 7.7 0 1 0 -15.4 0zM1776.2 685.2a7.7 7.7 0 1 0 15.4 0a7.7 7.7 0 1 0 -15.4 0zM1802.3 685.2a7.7 7.7 0 1 0 15.4 0a7.7 7.7 0 1 0 -15.4 0zM1828.3 685.2a7.7 7.7 0 1 0 15.4 0a7.7 7.7 0 1 0 -15.4 0zM1762.5 699.7a7.7 7.7 0 1 0 15.4 0a7.7 7.7 0 1 0 -15.4 0zM1788.6 699.7a7.7 7.7 0 1 0 15.4 0a7.7 7.7 0 1 0 -15.4 0zM1815.1 699.7a7.7 7.7 0 1 0 15.4 0a7.7 7.7 0 1 0 -15.4 0zM1841.2 699.7a7.7 7.7 0 1 0 15.4 0a7.7 7.7 0 1 0 -15.4 0zM1968.1 671.5a8.8 8.8 0 1 0 17.6 0a8.8 8.8 0 1 0 -17.6 0zM1997.2 671.5a8.8 8.8 0 1 0 17.6 0a8.8 8.8 0 1 0 -17.6 0zM2120.2 671.5a8.8 8.8 0 1 0 17.6 0a8.8 8.8 0 1 0 -17.6 0zM2149.7 671.5a8.8 8.8 0 1 0 17.6 0a8.8 8.8 0 1 0 -17.6 0zM2014.4 685.2a7.7 7.7 0 1 0 15.4 0a7.7 7.7 0 1 0 -15.4 0zM2040.7 685.2a7.7 7.7 0 1 0 15.4 0a7.7 7.7 0 1 0 -15.4 0zM2066.8 685.2a7.7 7.7 0 1 0 15.4 0a7.7 7.7 0 1 0 -15.4 0zM2092.8 685.2a7.7 7.7 0 1 0 15.4 0a7.7 7.7 0 1 0 -15.4 0zM2027 699.7a7.7 7.7 0 1 0 15.4 0a7.7 7.7 0 1 0 -15.4 0zM2053.1 699.7a7.7 7.7 0 1 0 15.4 0a7.7 7.7 0 1 0 -15.4 0zM2079.6 699.7a7.7 7.7 0 1 0 15.4 0a7.7 7.7 0 1 0 -15.4 0zM2105.7 699.7a7.7 7.7 0 1 0 15.4 0a7.7 7.7 0 1 0 -15.4 0zM1200.1 714.5H1210.7V748.8H1200.1zM1213 714.5H1223.5V748.8H1213zM1225.8 714.5H1236.3V748.8H1225.8zM1238.7 714.5H1249.2V748.8H1238.7zM1251.5 714.5H1262V748.8H1251.5zM1264.3 714.5H1274.9V748.8H1264.3zM1277.2 714.5H1287.7V748.8H1277.2zM1290 714.5H1300.6V748.8H1290zM1302.9 714.5H1313.4V748.8H1302.9zM1315.7 714.5H1326.2V748.8H1315.7zM1328.5 714.5H1339.1V748.8H1328.5zM1341.4 714.5H1351.9V748.8H1341.4zM1421.2 714.5H1431.7V748.8H1421.2zM1434.1 714.5H1444.6V748.8H1434.1zM1446.9 714.5H1457.4V748.8H1446.9zM1459.7 714.5H1470.2V748.8H1459.7zM1472.5 714.5H1483V748.8H1472.5zM1485.3 714.5H1495.8V748.8H1485.3zM1498.1 714.5H1508.7V748.8H1498.1zM1511 714.5H1521.5V748.8H1511zM1523.8 714.5H1534.3V748.8H1523.8zM1536.6 714.5H1547.1V748.8H1536.6zM1549.4 714.5H1559.9V748.8H1549.4zM1562.2 714.5H1572.7V748.8H1562.2zM1200.1 830.4H1210.7V864.7H1200.1zM1213 830.4H1223.5V864.7H1213zM1225.8 830.4H1236.3V864.7H1225.8zM1238.7 830.4H1249.2V864.7H1238.7zM1251.5 830.4H1262V864.7H1251.5zM1264.3 830.4H1274.9V864.7H1264.3zM1277.2 830.4H1287.7V864.7H1277.2zM1290 830.4H1300.6V864.7H1290zM1302.9 830.4H1313.4V864.7H1302.9zM1315.7 830.4H1326.2V864.7H1315.7zM1328.5 830.4H1339.1V864.7H1328.5zM1341.4 830.4H1351.9V864.7H1341.4zM1421.2 830.4H1431.7V864.7H1421.2zM1434.1 830.4H1444.6V864.7H1434.1zM1446.9 830.4H1457.4V864.7H1446.9zM1459.7 830.4H1470.2V864.7H1459.7zM1472.5 830.4H1483V864.7H1472.5zM1485.3 830.4H1495.8V864.7H1485.3zM1498.1 830.4H1508.7V864.7H1498.1zM1511 830.4H1521.5V864.7H1511zM1523.8 830.4H1534.3V864.7H1523.8zM1536.6 830.4H1547.1V864.7H1536.6zM1549.4 830.4H1559.9V864.7H1549.4zM1562.2 830.4H1572.7V864.7H1562.2zM1177.4 715.3H1186.4V722.8H1177.4zM1177.4 725.7H1186.4V733.2H1177.4zM1160.4 760.5H1168.6V768H1160.4zM1160.4 770.9H1168.6V778.4H1160.4zM1186.4 853.7H1194.7V861.2H1186.4zM1186.4 864.1H1194.7V871.5H1186.4zM1165.1 924.4H1176.6V937.3H1165.1zM1165.1 944.1H1176.6V957.3H1165.1zM1182.9 930.4H1191.1V937.9H1182.9zM1182.9 940.8H1191.1V948.2H1182.9zM1197.9 940.5H1205.1V973.7H1197.9zM1205.1 940.5H1212.5V973.7H1205.1zM1218.5 920.8H1230.8V934.5H1218.5zM1218.5 940.5H1230.8V954.2H1218.5zM1218.5 967.9H1230.8V981.6H1218.5zM1218.5 987.9H1230.8V1001.6H1218.5zM1248.6 896.2H1256.1V903.8H1248.6zM1259 896.2H1266.4V903.8H1259zM1250 915.3H1258.2V922.6H1250zM1250 925.4H1258.2V932.6H1250zM1247.3 943.6H1254.7V951.5H1247.3zM1257.6 943.6H1265.1V951.5H1257.6zM1294.4 884.7H1302.6V892H1294.4zM1294.4 894.9H1302.6V902.2H1294.4zM1326.7 884.7H1335.5V892H1326.7zM1326.7 894.9H1335.5V902.2H1326.7zM1328.6 924.9H1336.2V933.9H1328.6zM1328.6 937.4H1336.2V946.3H1328.6zM1339.1 924.9H1346.7V933.9H1339.1zM1339.1 937.4H1346.7V946.3H1339.1zM1328.6 963.3H1336.2V971H1328.6zM1339.1 963.3H1346.7V971H1339.1zM1269.7 964.7H1278.7V972.1H1269.7zM1269.7 975H1278.7V982.5H1269.7zM1282.2 964.7H1291.1V972.1H1282.2zM1282.2 975H1291.1V982.5H1282.2zM1328.7 1018.1a6.8 6.8 0 1 0 13.6 0a6.8 6.8 0 1 0 -13.6 0zM1397.9 665.5H1405.2V674.9H1397.9zM1397.9 678.5H1405.2V687.9H1397.9zM1408 665.5H1415.2V674.9H1408zM1408 678.5H1415.2V687.9H1408zM1399.9 699.7H1407.3V707.1H1399.9zM1410.2 699.7H1417.7V707.1H1410.2zM1398.8 635.9H1415.8V648.2H1398.8zM1389.7 836.7H1397.2V844.9H1389.7zM1400.1 836.7H1407.5V844.9H1400.1zM1432.8 900.8a6.8 6.8 0 1 0 13.6 0a6.8 6.8 0 1 0 -13.6 0zM1420.5 931a6.8 6.8 0 1 0 13.6 0a6.8 6.8 0 1 0 -13.6 0zM1445.1 931a6.8 6.8 0 1 0 13.6 0a6.8 6.8 0 1 0 -13.6 0zM1512.2 892.6H1519.8V900.8H1512.2zM1522.7 892.6H1530.3V900.8H1522.7zM1512.2 916.7H1519.8V924.9H1512.2zM1522.7 916.7H1530.3V924.9H1522.7zM1544.5 887.4H1553.3V894.9H1544.5zM1544.5 897.8H1553.3V905.2H1544.5zM1562.9 887.4H1571.8V894.9H1562.9zM1562.9 897.8H1571.8V905.2H1562.9zM1575.3 887.4H1584.2V894.9H1575.3zM1575.3 897.8H1584.2V905.2H1575.3zM1590.5 887.4H1599.3V894.9H1590.5zM1590.5 897.8H1599.3V905.2H1590.5zM1594.4 926.3H1602V935.5H1594.4zM1594.4 939H1602V948.2H1594.4zM1604.9 926.3H1612.5V935.5H1604.9zM1604.9 939H1612.5V948.2H1604.9zM1594.4 963.3H1602V971H1594.4zM1604.9 963.3H1612.5V971H1604.9zM1536.8 964.7H1545.8V972.1H1536.8zM1536.8 975H1545.8V982.5H1536.8zM1549.3 964.7H1558.2V972.1H1549.3zM1549.3 975H1558.2V982.5H1549.3zM1596 834H1607.5V848H1596zM1596 853.4H1607.5V867.4H1596zM1612 834H1623.4V848H1612zM1612 853.4H1623.4V867.4H1612zM1632.2 850.4H1639.6V883.3H1632.2zM1639.6 850.4H1646.7V883.3H1639.6zM1652.7 841.9H1661V849.4H1652.7zM1652.7 852.3H1661V859.7H1652.7zM1667.8 829H1679.3V842.7H1667.8zM1667.8 849.6H1679.3V862.5H1667.8zM1700.7 724.4H1708.7V731.7H1700.7zM1700.7 734.6H1708.7V741.9H1700.7zM1714.5 724.4H1722.4V731.7H1714.5zM1714.5 734.6H1722.4V741.9H1714.5zM1728.2 724.4H1736.2V731.7H1728.2zM1728.2 734.6H1736.2V741.9H1728.2zM1742 724.4H1750V731.7H1742zM1742 734.6H1750V741.9H1742zM1686.2 754a5 5 0 0 1 9.9 0V768.4a5 5 0 0 1 -9.9 0zM1702.8 754a5 5 0 0 1 9.9 0V768.4a5 5 0 0 1 -9.9 0zM1719.3 754a5 5 0 0 1 10 0V768.4a5 5 0 0 1 -10 0zM1735.9 754a5 5 0 0 1 10 0V768.4a5 5 0 0 1 -10 0zM1686.2 825.8a5 5 0 0 1 10 0V875.5a5 5 0 0 1 -10 0zM1702.9 825.8a5.1 5.1 0 0 1 10.1 0V875.5a5.1 5.1 0 0 1 -10.1 0zM1719.6 825.8a5.1 5.1 0 0 1 10.1 0V875.5a5.1 5.1 0 0 1 -10.1 0zM1736.4 825.8a5 5 0 0 1 10 0V875.5a5 5 0 0 1 -10 0zM1687 889.3H1696.5V896.4H1687zM1687 899.2H1696.5V906.3H1687zM1703.4 889.3H1713V896.4H1703.4zM1703.4 899.2H1713V906.3H1703.4zM1719.9 889.3H1729.4V896.4H1719.9zM1719.9 899.2H1729.4V906.3H1719.9zM1736.3 889.3H1745.9V896.4H1736.3zM1736.3 899.2H1745.9V906.3H1736.3zM1754.7 922.2H1762.9V929.6H1754.7zM1754.7 932.5H1762.9V940H1754.7zM1771.4 955.1H1778.8V964H1771.4zM1771.4 967.5H1778.8V976.4H1771.4zM1781.7 955.1H1789.2V964H1781.7zM1781.7 967.5H1789.2V976.4H1781.7zM1686.2 966H1693.7V975H1686.2zM1686.2 978.5H1693.7V987.4H1686.2zM1696.7 966H1704.2V975H1696.7zM1696.7 978.5H1704.2V987.4H1696.7zM1715.2 970.1H1722.7V978.7H1715.2zM1715.2 982.1H1722.7V990.7H1715.2zM1725.6 970.1H1733V978.7H1725.6zM1725.6 982.1H1733V990.7H1725.6zM1761.5 985.8H1779.3V1014H1761.5zM1773.2 731.8H1782.4V756.4H1773.2zM1786 731.8H1795.3V756.4H1786zM1798.9 731.8H1808.2V756.4H1798.9zM1811.8 731.8H1821.1V756.4H1811.8zM1824.7 731.8H1833.9V756.4H1824.7zM1837.6 731.8H1846.8V756.4H1837.6zM1850.4 731.8H1859.7V756.4H1850.4zM1863.3 731.8H1872.6V756.4H1863.3zM1876.2 731.8H1885.5V756.4H1876.2zM1889.1 731.8H1898.3V756.4H1889.1zM1902 731.8H1911.2V756.4H1902zM1914.8 731.8H1924.1V756.4H1914.8zM1773.2 916.2H1782.4V940H1773.2zM1786 916.2H1795.3V940H1786zM1798.9 916.2H1808.2V940H1798.9zM1811.8 916.2H1821.1V940H1811.8zM1824.7 916.2H1833.9V940H1824.7zM1837.6 916.2H1846.8V940H1837.6zM1850.4 916.2H1859.7V940H1850.4zM1863.3 916.2H1872.6V940H1863.3zM1876.2 916.2H1885.5V940H1876.2zM1889.1 916.2H1898.3V940H1889.1zM1902 916.2H1911.2V940H1902zM1914.8 916.2H1924.1V940H1914.8zM2041.6 731.8H2050.9V756.4H2041.6zM2054.5 731.8H2063.8V756.4H2054.5zM2067.4 731.8H2076.7V756.4H2067.4zM2080.3 731.8H2089.6V756.4H2080.3zM2093.2 731.8H2102.4V756.4H2093.2zM2106 731.8H2115.3V756.4H2106zM2118.9 731.8H2128.2V756.4H2118.9zM2131.8 731.8H2141.1V756.4H2131.8zM2144.7 731.8H2154V756.4H2144.7zM2157.6 731.8H2166.8V756.4H2157.6zM2170.4 731.8H2179.7V756.4H2170.4zM2183.3 731.8H2192.6V756.4H2183.3zM2041.6 916.2H2050.9V940H2041.6zM2054.5 916.2H2063.8V940H2054.5zM2067.4 916.2H2076.7V940H2067.4zM2080.3 916.2H2089.6V940H2080.3zM2093.2 916.2H2102.4V940H2093.2zM2106 916.2H2115.3V940H2106zM2118.9 916.2H2128.2V940H2118.9zM2131.8 916.2H2141.1V940H2131.8zM2144.7 916.2H2154V940H2144.7zM2157.6 916.2H2166.8V940H2157.6zM2170.4 916.2H2179.7V940H2170.4zM2183.3 916.2H2192.6V940H2183.3zM1926.8 670.1H1934.3V678.7H1926.8zM1926.8 684.4H1934.3V692.9H1926.8zM1926.8 698.6H1934.3V707.1H1926.8zM1937.2 670.1H1944.7V678.7H1937.2zM1937.2 684.4H1944.7V692.9H1937.2zM1937.2 698.6H1944.7V707.1H1937.2zM1949.3 867.9H1961.1V881.6H1949.3zM1949.3 888.5H1961.1V901.6H1949.3zM1969 876.2H1977.3V883.4H1969zM1969 886.2H1977.3V893.4H1969zM1993.7 875.6H2002.6V883.1H1993.7zM1993.7 886H2002.6V893.4H1993.7zM2006.1 875.6H2015.1V883.1H2006.1zM2006.1 886H2015.1V893.4H2006.1zM1967.9 900.3H1978.6V914H1967.9zM1992.6 900.3H2003.3V914H1992.6zM1967.9 933.7H1978.7V946.8H1967.9zM1980.2 933.7H1991V946.8H1980.2zM1992.5 933.7H2003.3V946.8H1992.5zM1963 956.4H1970.5V964.1H1963zM1973.4 956.4H1980.8V964.1H1973.4zM1959.5 971.5H1973.4V982.5H1959.5zM1979.5 971.5H1993.7V982.5H1979.5zM2004.1 951.8H2011.6V959.5H2004.1zM2004.1 964.6H2011.6V972.3H2004.1zM2004.1 977.5H2011.6V985.2H2004.1zM2014.5 951.8H2021.9V959.5H2014.5zM2014.5 964.6H2021.9V972.3H2014.5zM2014.5 977.5H2021.9V985.2H2014.5zM2017 920.3H2025.2V927.7H2017zM2017 930.6H2025.2V938.1H2017zM2188.2 651H2195.7V660.4H2188.2zM2188.2 664H2195.7V673.4H2188.2zM2198.6 651H2206V660.4H2198.6zM2198.6 664H2206V673.4H2198.6zM2213.2 681.6L2260.8 681.6L2260.8 696.2L2249.3 696.2L2249.3 707.7L2225.2 707.7L2225.2 696.2L2213.2 696.2zM2225.2 728.2L2249.3 728.2L2249.3 740L2260.8 740L2260.8 754.5L2213.2 754.5L2213.2 740L2225.2 740zM2200 732.6H2208.2V739.9H2200zM2200 742.8H2208.2V750.1H2200zM2243 812.6H2252.5V820.1H2243zM2243 823H2252.5V830.4H2243zM2256.2 812.6H2265.8V820.1H2256.2zM2256.2 823H2265.8V830.4H2256.2zM2212.9 827.7H2224.7V841.4H2212.9zM2212.9 847.7H2224.7V860.5H2212.9zM2231 840H2238.3V847.5H2231zM2231 850.4H2238.3V857.8H2231zM2243.7 840H2251.1V847.5H2243.7zM2243.7 850.4H2251.1V857.8H2243.7zM2256.4 840H2263.8V847.5H2256.4zM2256.4 850.4H2263.8V857.8H2256.4zM2237 895.3H2266.3V914H2237zM2228.8 945.5H2258.4V966H2228.8zM2228.8 997.5H2258.4V1018.1H2228.8zM1367.9 591.1a9.4 9.4 0 0 1 18.7 0V614.1a9.4 9.4 0 0 1 -18.7 0zM1425.8 591.1a9.4 9.4 0 0 1 18.7 0V614.1a9.4 9.4 0 0 1 -18.7 0zM1398.7 604.7H1416.2V621.9H1398.7zM1632.4 591.1a9.4 9.4 0 0 1 18.7 0V614.1a9.4 9.4 0 0 1 -18.7 0zM1690.3 591.1a9.4 9.4 0 0 1 18.7 0V614.1a9.4 9.4 0 0 1 -18.7 0zM1663.2 604.7H1680.7V621.9H1663.2zM1663.2 631.8H1680.7V649H1663.2zM1896.9 591.1a9.4 9.4 0 0 1 18.7 0V614.1a9.4 9.4 0 0 1 -18.7 0zM1954.8 591.1a9.4 9.4 0 0 1 18.7 0V614.1a9.4 9.4 0 0 1 -18.7 0zM1927.7 604.7H1945.2V621.9H1927.7zM1927.7 631.8H1945.2V649H1927.7zM1661.1 665H1669.1V674.8H1661.1zM1661.1 678.6H1669.1V688.4H1661.1zM1672.1 665H1680.1V674.8H1672.1zM1672.1 678.6H1680.1V688.4H1672.1zM1663.7 698.6H1671.5V707.5H1663.7zM1674.5 698.6H1682.3V707.5H1674.5zM1928.9 567.5a6.5 6.5 0 1 0 13 0a6.5 6.5 0 1 0 -13 0zM2160.4 592.1a9.6 9.6 0 0 1 19.2 0V613.4a9.6 9.6 0 0 1 -19.2 0zM2186 625.2H2201.8V640.1H2186zM2212.9 625.2H2229.1V640H2212.9zM1089.6 823.8H1137.5V858.9H1089.6zM1056.7 869.6H1089.6V910.1H1056.7zM1137 869.6H1169.6V910.1H1137zM1363.6 1104.1H1371V1112.3H1363.6zM1363.6 1117.7H1371V1125.9H1363.6zM1363.6 1131.3H1371V1139.5H1363.6zM1373.9 1104.1H1381.4V1112.3H1373.9zM1373.9 1117.7H1381.4V1125.9H1373.9zM1373.9 1131.3H1381.4V1139.5H1373.9zM1443.6 1038.4H1455.6V1052.7H1443.6zM1443.6 1058.3H1455.6V1072.6H1443.6zM1460.8 1038.4H1472.9V1052.7H1460.8zM1460.8 1058.3H1472.9V1072.6H1460.8zM1478.1 1038.4H1490.1V1052.7H1478.1zM1478.1 1058.3H1490.1V1072.6H1478.1zM1495.3 1038.4H1507.4V1052.7H1495.3zM1495.3 1058.3H1507.4V1072.6H1495.3zM1520.3 1028.8H1561.4V1060.8H1520.3zM1573.7 1046.3H1608.2V1093.7H1573.7zM1640.3 1046.3H1675.9V1093.7H1640.3zM1520.3 1108.8H1561.4V1140.8H1520.3zM1680.1 1032.1H1688.6V1041.6H1680.1zM1697.1 1032.1H1705.6V1041.6H1697.1zM1714.1 1032.1H1722.6V1041.6H1714.1zM1731.1 1032.1H1739.6V1041.6H1731.1zM1683.4 1046H1736.3V1081.4H1683.4zM1683.4 1088.2L1736.3 1088.2L1736.3 1105.5L1697.1 1105.5L1697.1 1095.9L1683.4 1095.9zM1696.3 1106H1703.5V1115.1H1696.3zM1714.3 1106H1721.6V1115.1H1714.3zM1732.4 1106H1739.6V1115.1H1732.4zM1680.1 1106.8H1688.9V1115.1H1680.1zM1747 1032.1H1755.2V1039.6H1747zM1747 1042.6H1755.2V1050.1H1747zM1746.4 1058.1H1757.9V1071.8H1746.4zM1746.4 1078.1H1757.9V1091.8H1746.4zM1680.1 1160.8H1688.6V1170.4H1680.1zM1697.1 1160.8H1705.6V1170.4H1697.1zM1714.1 1160.8H1722.6V1170.4H1714.1zM1731.1 1160.8H1739.6V1170.4H1731.1zM1683.4 1174.8H1736.3V1210.1H1683.4zM1683.4 1217L1736.3 1217L1736.3 1234.2L1697.1 1234.2L1697.1 1224.7L1683.4 1224.7zM1696.3 1234.8H1703.5V1243.8H1696.3zM1714.3 1234.8H1721.6V1243.8H1714.3zM1732.4 1234.8H1739.6V1243.8H1732.4zM1680.1 1235.6H1688.9V1243.8H1680.1zM1747 1160.8H1755.2V1168.4H1747zM1747 1171.3H1755.2V1178.9H1747zM1746.4 1186.8H1757.9V1200.5H1746.4zM1746.4 1206.8H1757.9V1220.5H1746.4zM1680.1 1302.7H1688.6V1312.3H1680.1zM1697.1 1302.7H1705.6V1312.3H1697.1zM1714.1 1302.7H1722.6V1312.3H1714.1zM1731.1 1302.7H1739.6V1312.3H1731.1zM1683.4 1316.7H1736.3V1352.1H1683.4zM1683.4 1358.9L1736.3 1358.9L1736.3 1376.2L1697.1 1376.2L1697.1 1366.6L1683.4 1366.6zM1696.3 1376.7H1703.5V1385.8H1696.3zM1714.3 1376.7H1721.6V1385.8H1714.3zM1732.4 1376.7H1739.6V1385.8H1732.4zM1680.1 1377.5H1688.9V1385.8H1680.1zM1747 1302.7H1755.2V1310.3H1747zM1747 1313.3H1755.2V1320.8H1747zM1746.4 1328.8H1757.9V1342.5H1746.4zM1746.4 1348.8H1757.9V1362.5H1746.4zM1520.4 1154.8H1561.5V1186.8H1520.4zM1573.8 1164.4H1608.6V1211.8H1573.8zM1640.4 1164.4H1675.8V1211.8H1640.4zM1520.4 1234.8H1561.5V1267.1H1520.4zM1521.8 1274H1562.9V1306H1521.8zM1573.8 1323.3H1608.6V1370.4H1573.8zM1640.4 1323.3H1675.8V1370.4H1640.4zM1521.8 1354.8H1562.9V1386.8H1521.8zM1784.8 1023.8H1814.9V1044.4H1784.8zM1784.8 1075.9H1814.9V1096.4H1784.8zM1668.4 1120.5H1676.4V1128.8H1668.4zM1679.5 1120.5H1687.5V1128.8H1679.5zM1723.2 1122.5H1739.6V1138.4H1723.2zM1750 1122.5H1766.4V1138.4H1750zM1768.9 1100H1782.1V1111H1768.9zM1788.9 1100H1802.1V1111H1788.9zM1820.4 1095.1H1828.6V1102.5H1820.4zM1820.4 1105.4H1828.6V1112.9H1820.4zM1776.6 1117H1790.9V1128.6H1776.6zM1776.6 1133.1H1790.9V1144.7H1776.6zM1796.5 1117H1810.8V1128.6H1796.5zM1796.5 1133.1H1810.8V1144.7H1796.5zM1849.2 1026.6H1856.9V1034.8H1849.2zM1859.9 1026.6H1867.5V1034.8H1859.9zM1849.2 1045.2H1856.9V1052.5H1849.2zM1849.2 1057.3H1856.9V1064.6H1849.2zM1849.2 1069.5H1856.9V1076.7H1849.2zM1849.2 1081.6H1856.9V1088.9H1849.2zM1849.2 1093.7H1856.9V1101H1849.2zM1849.2 1105.9H1856.9V1113.1H1849.2zM1849.2 1118H1856.9V1125.3H1849.2zM1849.2 1130.1H1856.9V1137.4H1849.2zM1849.2 1142.2H1856.9V1149.5H1849.2zM1849.2 1154.4H1856.9V1161.6H1849.2zM1859.9 1045.2H1867.5V1052.5H1859.9zM1859.9 1057.3H1867.5V1064.6H1859.9zM1859.9 1069.5H1867.5V1076.7H1859.9zM1859.9 1081.6H1867.5V1088.9H1859.9zM1859.9 1093.7H1867.5V1101H1859.9zM1859.9 1105.9H1867.5V1113.1H1859.9zM1859.9 1118H1867.5V1125.3H1859.9zM1859.9 1130.1H1867.5V1137.4H1859.9zM1859.9 1142.2H1867.5V1149.5H1859.9zM1859.9 1154.4H1867.5V1161.6H1859.9zM1888.4 1071.8a2.7 2.7 0 1 0 5.4 0a2.7 2.7 0 1 0 -5.4 0zM1888.4 1082.1a2.7 2.7 0 1 0 5.4 0a2.7 2.7 0 1 0 -5.4 0zM1888.4 1092.4a2.7 2.7 0 1 0 5.4 0a2.7 2.7 0 1 0 -5.4 0zM1888.4 1102.7a2.7 2.7 0 1 0 5.4 0a2.7 2.7 0 1 0 -5.4 0zM1888.4 1113a2.7 2.7 0 1 0 5.4 0a2.7 2.7 0 1 0 -5.4 0zM1888.4 1123.3a2.7 2.7 0 1 0 5.4 0a2.7 2.7 0 1 0 -5.4 0zM1888.4 1133.6a2.7 2.7 0 1 0 5.4 0a2.7 2.7 0 1 0 -5.4 0zM1888.4 1143.9a2.7 2.7 0 1 0 5.4 0a2.7 2.7 0 1 0 -5.4 0zM1898.7 1071.8a2.7 2.7 0 1 0 5.4 0a2.7 2.7 0 1 0 -5.4 0zM1898.7 1082.1a2.7 2.7 0 1 0 5.4 0a2.7 2.7 0 1 0 -5.4 0zM1898.7 1092.4a2.7 2.7 0 1 0 5.4 0a2.7 2.7 0 1 0 -5.4 0zM1898.7 1102.7a2.7 2.7 0 1 0 5.4 0a2.7 2.7 0 1 0 -5.4 0zM1898.7 1113a2.7 2.7 0 1 0 5.4 0a2.7 2.7 0 1 0 -5.4 0zM1898.7 1123.3a2.7 2.7 0 1 0 5.4 0a2.7 2.7 0 1 0 -5.4 0zM1898.7 1133.6a2.7 2.7 0 1 0 5.4 0a2.7 2.7 0 1 0 -5.4 0zM1898.7 1143.9a2.7 2.7 0 1 0 5.4 0a2.7 2.7 0 1 0 -5.4 0zM1909.1 1071.8a2.7 2.7 0 1 0 5.4 0a2.7 2.7 0 1 0 -5.4 0zM1909.1 1082.1a2.7 2.7 0 1 0 5.4 0a2.7 2.7 0 1 0 -5.4 0zM1909.1 1092.4a2.7 2.7 0 1 0 5.4 0a2.7 2.7 0 1 0 -5.4 0zM1909.1 1102.7a2.7 2.7 0 1 0 5.4 0a2.7 2.7 0 1 0 -5.4 0zM1909.1 1113a2.7 2.7 0 1 0 5.4 0a2.7 2.7 0 1 0 -5.4 0zM1909.1 1123.3a2.7 2.7 0 1 0 5.4 0a2.7 2.7 0 1 0 -5.4 0zM1909.1 1133.6a2.7 2.7 0 1 0 5.4 0a2.7 2.7 0 1 0 -5.4 0zM1909.1 1143.9a2.7 2.7 0 1 0 5.4 0a2.7 2.7 0 1 0 -5.4 0zM1919.4 1071.8a2.7 2.7 0 1 0 5.4 0a2.7 2.7 0 1 0 -5.4 0zM1919.4 1082.1a2.7 2.7 0 1 0 5.4 0a2.7 2.7 0 1 0 -5.4 0zM1919.4 1092.4a2.7 2.7 0 1 0 5.4 0a2.7 2.7 0 1 0 -5.4 0zM1919.4 1102.7a2.7 2.7 0 1 0 5.4 0a2.7 2.7 0 1 0 -5.4 0zM1919.4 1113a2.7 2.7 0 1 0 5.4 0a2.7 2.7 0 1 0 -5.4 0zM1919.4 1123.3a2.7 2.7 0 1 0 5.4 0a2.7 2.7 0 1 0 -5.4 0zM1919.4 1133.6a2.7 2.7 0 1 0 5.4 0a2.7 2.7 0 1 0 -5.4 0zM1919.4 1143.9a2.7 2.7 0 1 0 5.4 0a2.7 2.7 0 1 0 -5.4 0zM1929.7 1071.8a2.7 2.7 0 1 0 5.4 0a2.7 2.7 0 1 0 -5.4 0zM1929.7 1082.1a2.7 2.7 0 1 0 5.4 0a2.7 2.7 0 1 0 -5.4 0zM1929.7 1092.4a2.7 2.7 0 1 0 5.4 0a2.7 2.7 0 1 0 -5.4 0zM1929.7 1102.7a2.7 2.7 0 1 0 5.4 0a2.7 2.7 0 1 0 -5.4 0zM1929.7 1113a2.7 2.7 0 1 0 5.4 0a2.7 2.7 0 1 0 -5.4 0zM1929.7 1123.3a2.7 2.7 0 1 0 5.4 0a2.7 2.7 0 1 0 -5.4 0zM1929.7 1133.6a2.7 2.7 0 1 0 5.4 0a2.7 2.7 0 1 0 -5.4 0zM1929.7 1143.9a2.7 2.7 0 1 0 5.4 0a2.7 2.7 0 1 0 -5.4 0zM1940 1071.8a2.7 2.7 0 1 0 5.4 0a2.7 2.7 0 1 0 -5.4 0zM1940 1082.1a2.7 2.7 0 1 0 5.4 0a2.7 2.7 0 1 0 -5.4 0zM1940 1092.4a2.7 2.7 0 1 0 5.4 0a2.7 2.7 0 1 0 -5.4 0zM1940 1102.7a2.7 2.7 0 1 0 5.4 0a2.7 2.7 0 1 0 -5.4 0zM1940 1113a2.7 2.7 0 1 0 5.4 0a2.7 2.7 0 1 0 -5.4 0zM1940 1123.3a2.7 2.7 0 1 0 5.4 0a2.7 2.7 0 1 0 -5.4 0zM1940 1133.6a2.7 2.7 0 1 0 5.4 0a2.7 2.7 0 1 0 -5.4 0zM1940 1143.9a2.7 2.7 0 1 0 5.4 0a2.7 2.7 0 1 0 -5.4 0zM1950.4 1071.8a2.7 2.7 0 1 0 5.4 0a2.7 2.7 0 1 0 -5.4 0zM1950.4 1082.1a2.7 2.7 0 1 0 5.4 0a2.7 2.7 0 1 0 -5.4 0zM1950.4 1092.4a2.7 2.7 0 1 0 5.4 0a2.7 2.7 0 1 0 -5.4 0zM1950.4 1102.7a2.7 2.7 0 1 0 5.4 0a2.7 2.7 0 1 0 -5.4 0zM1950.4 1113a2.7 2.7 0 1 0 5.4 0a2.7 2.7 0 1 0 -5.4 0zM1950.4 1123.3a2.7 2.7 0 1 0 5.4 0a2.7 2.7 0 1 0 -5.4 0zM1950.4 1133.6a2.7 2.7 0 1 0 5.4 0a2.7 2.7 0 1 0 -5.4 0zM1950.4 1143.9a2.7 2.7 0 1 0 5.4 0a2.7 2.7 0 1 0 -5.4 0zM1960.7 1071.8a2.7 2.7 0 1 0 5.4 0a2.7 2.7 0 1 0 -5.4 0zM1960.7 1082.1a2.7 2.7 0 1 0 5.4 0a2.7 2.7 0 1 0 -5.4 0zM1960.7 1092.4a2.7 2.7 0 1 0 5.4 0a2.7 2.7 0 1 0 -5.4 0zM1960.7 1102.7a2.7 2.7 0 1 0 5.4 0a2.7 2.7 0 1 0 -5.4 0zM1960.7 1113a2.7 2.7 0 1 0 5.4 0a2.7 2.7 0 1 0 -5.4 0zM1960.7 1123.3a2.7 2.7 0 1 0 5.4 0a2.7 2.7 0 1 0 -5.4 0zM1960.7 1133.6a2.7 2.7 0 1 0 5.4 0a2.7 2.7 0 1 0 -5.4 0zM1960.7 1143.9a2.7 2.7 0 1 0 5.4 0a2.7 2.7 0 1 0 -5.4 0zM1988.1 1065.8H1995.7V1074H1988.1zM1998.6 1065.8H2006.2V1074H1998.6zM1978.8 1085.5H1987V1092.9H1978.8zM1978.8 1095.8H1987V1103.3H1978.8zM1993 1084.9H2008.1V1102.7H1993zM2014.4 1084.9H2030V1102.7H2014.4zM1978.8 1110.4H1987V1117.9H1978.8zM1978.8 1120.8H1987V1128.2H1978.8zM1993 1112.3H2008.1V1130.1H1993zM2014.4 1112.3H2030V1130.1H2014.4zM1984.8 1141.1H1992.2V1150.3H1984.8zM1984.8 1153.8H1992.2V1163H1984.8zM1995.1 1141.1H2002.6V1150.3H1995.1zM1995.1 1153.8H2002.6V1163H1995.1zM1883.4 1167.1H1891.7V1174.9H1883.4zM1883.4 1178H1891.7V1185.8H1883.4zM1897.7 1167.1H1905.9V1174.9H1897.7zM1897.7 1178H1905.9V1185.8H1897.7zM1911.9 1167.1H1920.2V1174.9H1911.9zM1911.9 1178H1920.2V1185.8H1911.9zM1926.1 1167.1H1934.4V1174.9H1926.1zM1926.1 1178H1934.4V1185.8H1926.1zM1940.4 1167.1H1948.6V1174.9H1940.4zM1940.4 1178H1948.6V1185.8H1940.4zM1954.6 1167.1H1962.9V1174.9H1954.6zM1954.6 1178H1962.9V1185.8H1954.6zM1968.9 1167.1H1977.1V1174.9H1968.9zM1968.9 1178H1977.1V1185.8H1968.9zM1985.4 1176.2a6.8 6.8 0 1 0 13.6 0a6.8 6.8 0 1 0 -13.6 0zM2009.5 1176.2a6.8 6.8 0 1 0 13.6 0a6.8 6.8 0 1 0 -13.6 0zM1997.2 1206.3a6.8 6.8 0 1 0 13.6 0a6.8 6.8 0 1 0 -13.6 0zM1914.9 1193.7H1924.7V1201.2H1914.9zM1914.9 1204.1H1924.7V1211.5H1914.9zM1928.5 1193.7H1938.2V1201.2H1928.5zM1928.5 1204.1H1938.2V1211.5H1928.5zM1944.5 1192.6H1956V1204.9H1944.5zM1960.7 1200.8H1969.2V1208.2H1960.7zM1960.7 1211H1969.2V1218.4H1960.7zM1944.5 1213.7H1956V1226H1944.5zM1946.4 1206H1954.7V1211.5H1946.4zM1767.8 1159.7H1779.3V1173.4H1767.8zM1767.8 1179.5H1779.3V1193.2H1767.8zM1786.2 1161.6H1794.4V1169.1H1786.2zM1786.2 1172H1794.4V1179.5H1786.2zM1801.8 1171.8H1820.4V1181.4H1801.8zM1815.5 1202.7H1826.7V1216.4H1815.5zM1802.6 1211.8H1810.8V1219.2H1802.6zM1802.6 1222.1H1810.8V1229.6H1802.6zM1815.5 1223.3H1826.7V1236.2H1815.5zM1776 1230.1H1787.5V1243.8H1776zM1776 1250.1H1787.5V1263.6H1776zM1792.5 1239.7H1800.7V1247.2H1792.5zM1792.5 1250.1H1800.7V1257.5H1792.5zM1722.3 1252.1H1738.8V1267.7H1722.3zM1749.2 1252.1H1765.6V1267.7H1749.2zM1808.1 1263.6H1826.7V1273.2H1808.1zM1821.8 1293.7H1833.3V1307.4H1821.8zM1806.7 1297.3H1814.9V1304.5H1806.7zM1806.7 1307.3H1814.9V1314.5H1806.7zM1821.8 1314.2H1833.3V1327.4H1821.8zM1845.6 1293.2H1853.4V1300.6H1845.6zM1845.6 1303.5H1853.4V1311H1845.6zM1859 1293.2H1866.8V1300.6H1859zM1859 1303.5H1866.8V1311H1859zM1872.4 1293.2H1880.2V1300.6H1872.4zM1872.4 1303.5H1880.2V1311H1872.4zM1885.8 1293.2H1893.6V1300.6H1885.8zM1885.8 1303.5H1893.6V1311H1885.8zM1845.6 1317.3H1853.4V1324.9H1845.6zM1845.6 1327.9H1853.4V1335.6H1845.6zM1859 1317.3H1866.8V1324.9H1859zM1859 1327.9H1866.8V1335.6H1859zM1872.4 1317.3H1880.2V1324.9H1872.4zM1872.4 1327.9H1880.2V1335.6H1872.4zM1885.8 1317.3H1893.6V1324.9H1885.8zM1885.8 1327.9H1893.6V1335.6H1885.8zM1899.9 1314.5H1907.3V1323.4H1899.9zM1899.9 1326.8H1907.3V1335.6H1899.9zM1910.2 1314.5H1917.7V1323.4H1910.2zM1910.2 1326.8H1917.7V1335.6H1910.2zM1925.9 1314.5H1933.3V1323.4H1925.9zM1925.9 1326.8H1933.3V1335.6H1925.9zM1936.2 1314.5H1943.7V1323.4H1936.2zM1936.2 1326.8H1943.7V1335.6H1936.2zM1962.9 1317.3H1977.9V1328.5H1962.9zM1982.1 1317.3H1995.8V1328.5H1982.1zM2008.1 1328.8H2015.5V1337.9H2008.1zM2008.1 1341.5H2015.5V1350.7H2008.1zM2018.4 1328.8H2025.9V1337.9H2018.4zM2018.4 1341.5H2025.9V1350.7H2018.4zM1956 1339.7H1967.5V1354H1956zM1979.9 1345.2H1987.3V1352.9H1979.9zM1990.2 1345.2H1997.7V1352.9H1990.2zM1956 1359.7H1967.5V1373.4H1956zM1841 1363H1854.7V1374H1841zM1861 1363H1874.7V1374H1861zM1879.3 1364.9H1888.1V1372.2H1879.3zM1879.3 1375H1888.1V1382.2H1879.3zM1928.6 1364.9H1937.6V1372.2H1928.6zM1928.6 1375H1937.6V1382.2H1928.6zM1941.1 1364.9H1950V1372.2H1941.1zM1941.1 1375H1950V1382.2H1941.1zM1435.5 1161.6H1447V1175.3H1435.5zM1462.9 1160.3H1471.6V1167.5H1462.9zM1462.9 1170.3H1471.6V1177.5H1462.9zM1417.1 1184.9H1428.6V1198.1H1417.1zM1435.5 1181.4H1447V1195.1H1435.5zM1417.1 1204.1H1428.6V1217.8H1417.1zM1455.5 1197.8H1474.1V1207.4H1455.5zM1484.8 1190.4H1493.6V1197.9H1484.8zM1484.8 1200.8H1493.6V1208.2H1484.8zM1483.4 1216.4H1495.2V1230.1H1483.4zM1483.4 1236.4H1495.2V1249.9H1483.4zM1428.6 1226H1442.9V1237H1428.6zM1448.4 1226H1462.6V1237H1448.4zM1469.7 1226.6H1477.9V1233.8H1469.7zM1469.7 1236.6H1477.9V1243.8H1469.7zM1376.6 1221.4H1384.8V1228.8H1376.6zM1376.6 1231.7H1384.8V1239.2H1376.6zM1372.5 1267.1H1386.7V1278.6H1372.5zM1392.5 1267.1H1406.7V1278.6H1392.5zM1376.6 1284.9H1384.3V1292.6H1376.6zM1387.2 1284.9H1394.9V1292.6H1387.2zM1440.4 1271.2a5.5 5.5 0 0 1 0 11H1436.9a5.5 5.5 0 0 1 0 -11zM1440.7 1283.6a5.2 5.2 0 0 1 0 10.4H1436.6a5.2 5.2 0 0 1 0 -10.4zM1440.6 1295.3a5.4 5.4 0 0 1 0 10.7H1436.8a5.4 5.4 0 0 1 0 -10.7zM1473 1271.2a5.5 5.5 0 0 1 0 11H1469.2a5.5 5.5 0 0 1 0 -11zM1473.2 1295.3a5.4 5.4 0 0 1 0 10.7H1469a5.4 5.4 0 0 1 0 -10.7zM1483.4 1269.9H1491.1V1278.1H1483.4zM1494.1 1269.9H1501.8V1278.1H1494.1zM1483.4 1295.9H1491.1V1304.1H1483.4zM1494.1 1295.9H1501.8V1304.1H1494.1zM1432.7 1330.1H1440.2V1338.4H1432.7zM1443.1 1330.1H1450.5V1338.4H1443.1zM1388.4 1374.5H1395.8V1382.7H1388.4zM1398.7 1374.5H1406.2V1382.7H1398.7zM1436.3 1374.5H1443.8V1382.7H1436.3zM1446.7 1374.5H1454.1V1382.7H1446.7zM2054.2 1032.9H2061.7V1040.5H2054.2zM2064.6 1032.9H2072.1V1040.5H2064.6zM2026.8 1047.9H2034.3V1056.9H2026.8zM2026.8 1060.4H2034.3V1069.3H2026.8zM2037.2 1047.9H2044.7V1056.9H2037.2zM2037.2 1060.4H2044.7V1069.3H2037.2zM2080 1071.8a2.7 2.7 0 1 0 5.4 0a2.7 2.7 0 1 0 -5.4 0zM2080 1082.1a2.7 2.7 0 1 0 5.4 0a2.7 2.7 0 1 0 -5.4 0zM2080 1092.4a2.7 2.7 0 1 0 5.4 0a2.7 2.7 0 1 0 -5.4 0zM2080 1102.7a2.7 2.7 0 1 0 5.4 0a2.7 2.7 0 1 0 -5.4 0zM2080 1113a2.7 2.7 0 1 0 5.4 0a2.7 2.7 0 1 0 -5.4 0zM2080 1123.3a2.7 2.7 0 1 0 5.4 0a2.7 2.7 0 1 0 -5.4 0zM2080 1133.6a2.7 2.7 0 1 0 5.4 0a2.7 2.7 0 1 0 -5.4 0zM2080 1143.9a2.7 2.7 0 1 0 5.4 0a2.7 2.7 0 1 0 -5.4 0zM2090.3 1071.8a2.7 2.7 0 1 0 5.4 0a2.7 2.7 0 1 0 -5.4 0zM2090.3 1082.1a2.7 2.7 0 1 0 5.4 0a2.7 2.7 0 1 0 -5.4 0zM2090.3 1092.4a2.7 2.7 0 1 0 5.4 0a2.7 2.7 0 1 0 -5.4 0zM2090.3 1102.7a2.7 2.7 0 1 0 5.4 0a2.7 2.7 0 1 0 -5.4 0zM2090.3 1113a2.7 2.7 0 1 0 5.4 0a2.7 2.7 0 1 0 -5.4 0zM2090.3 1123.3a2.7 2.7 0 1 0 5.4 0a2.7 2.7 0 1 0 -5.4 0zM2090.3 1133.6a2.7 2.7 0 1 0 5.4 0a2.7 2.7 0 1 0 -5.4 0zM2090.3 1143.9a2.7 2.7 0 1 0 5.4 0a2.7 2.7 0 1 0 -5.4 0zM2100.6 1071.8a2.7 2.7 0 1 0 5.4 0a2.7 2.7 0 1 0 -5.4 0zM2100.6 1082.1a2.7 2.7 0 1 0 5.4 0a2.7 2.7 0 1 0 -5.4 0zM2100.6 1092.4a2.7 2.7 0 1 0 5.4 0a2.7 2.7 0 1 0 -5.4 0zM2100.6 1102.7a2.7 2.7 0 1 0 5.4 0a2.7 2.7 0 1 0 -5.4 0zM2100.6 1113a2.7 2.7 0 1 0 5.4 0a2.7 2.7 0 1 0 -5.4 0zM2100.6 1123.3a2.7 2.7 0 1 0 5.4 0a2.7 2.7 0 1 0 -5.4 0zM2100.6 1133.6a2.7 2.7 0 1 0 5.4 0a2.7 2.7 0 1 0 -5.4 0zM2100.6 1143.9a2.7 2.7 0 1 0 5.4 0a2.7 2.7 0 1 0 -5.4 0zM2110.9 1071.8a2.7 2.7 0 1 0 5.4 0a2.7 2.7 0 1 0 -5.4 0zM2110.9 1082.1a2.7 2.7 0 1 0 5.4 0a2.7 2.7 0 1 0 -5.4 0zM2110.9 1092.4a2.7 2.7 0 1 0 5.4 0a2.7 2.7 0 1 0 -5.4 0zM2110.9 1102.7a2.7 2.7 0 1 0 5.4 0a2.7 2.7 0 1 0 -5.4 0zM2110.9 1113a2.7 2.7 0 1 0 5.4 0a2.7 2.7 0 1 0 -5.4 0zM2110.9 1123.3a2.7 2.7 0 1 0 5.4 0a2.7 2.7 0 1 0 -5.4 0zM2110.9 1133.6a2.7 2.7 0 1 0 5.4 0a2.7 2.7 0 1 0 -5.4 0zM2110.9 1143.9a2.7 2.7 0 1 0 5.4 0a2.7 2.7 0 1 0 -5.4 0zM2121.2 1071.8a2.7 2.7 0 1 0 5.4 0a2.7 2.7 0 1 0 -5.4 0zM2121.2 1082.1a2.7 2.7 0 1 0 5.4 0a2.7 2.7 0 1 0 -5.4 0zM2121.2 1092.4a2.7 2.7 0 1 0 5.4 0a2.7 2.7 0 1 0 -5.4 0zM2121.2 1102.7a2.7 2.7 0 1 0 5.4 0a2.7 2.7 0 1 0 -5.4 0zM2121.2 1113a2.7 2.7 0 1 0 5.4 0a2.7 2.7 0 1 0 -5.4 0zM2121.2 1123.3a2.7 2.7 0 1 0 5.4 0a2.7 2.7 0 1 0 -5.4 0zM2121.2 1133.6a2.7 2.7 0 1 0 5.4 0a2.7 2.7 0 1 0 -5.4 0zM2121.2 1143.9a2.7 2.7 0 1 0 5.4 0a2.7 2.7 0 1 0 -5.4 0zM2131.5 1071.8a2.7 2.7 0 1 0 5.4 0a2.7 2.7 0 1 0 -5.4 0zM2131.5 1082.1a2.7 2.7 0 1 0 5.4 0a2.7 2.7 0 1 0 -5.4 0zM2131.5 1092.4a2.7 2.7 0 1 0 5.4 0a2.7 2.7 0 1 0 -5.4 0zM2131.5 1102.7a2.7 2.7 0 1 0 5.4 0a2.7 2.7 0 1 0 -5.4 0zM2131.5 1113a2.7 2.7 0 1 0 5.4 0a2.7 2.7 0 1 0 -5.4 0zM2131.5 1123.3a2.7 2.7 0 1 0 5.4 0a2.7 2.7 0 1 0 -5.4 0zM2131.5 1133.6a2.7 2.7 0 1 0 5.4 0a2.7 2.7 0 1 0 -5.4 0zM2131.5 1143.9a2.7 2.7 0 1 0 5.4 0a2.7 2.7 0 1 0 -5.4 0zM2141.8 1071.8a2.7 2.7 0 1 0 5.4 0a2.7 2.7 0 1 0 -5.4 0zM2141.8 1082.1a2.7 2.7 0 1 0 5.4 0a2.7 2.7 0 1 0 -5.4 0zM2141.8 1092.4a2.7 2.7 0 1 0 5.4 0a2.7 2.7 0 1 0 -5.4 0zM2141.8 1102.7a2.7 2.7 0 1 0 5.4 0a2.7 2.7 0 1 0 -5.4 0zM2141.8 1113a2.7 2.7 0 1 0 5.4 0a2.7 2.7 0 1 0 -5.4 0zM2141.8 1123.3a2.7 2.7 0 1 0 5.4 0a2.7 2.7 0 1 0 -5.4 0zM2141.8 1133.6a2.7 2.7 0 1 0 5.4 0a2.7 2.7 0 1 0 -5.4 0zM2141.8 1143.9a2.7 2.7 0 1 0 5.4 0a2.7 2.7 0 1 0 -5.4 0zM2152.1 1071.8a2.7 2.7 0 1 0 5.4 0a2.7 2.7 0 1 0 -5.4 0zM2152.1 1082.1a2.7 2.7 0 1 0 5.4 0a2.7 2.7 0 1 0 -5.4 0zM2152.1 1092.4a2.7 2.7 0 1 0 5.4 0a2.7 2.7 0 1 0 -5.4 0zM2152.1 1102.7a2.7 2.7 0 1 0 5.4 0a2.7 2.7 0 1 0 -5.4 0zM2152.1 1113a2.7 2.7 0 1 0 5.4 0a2.7 2.7 0 1 0 -5.4 0zM2152.1 1123.3a2.7 2.7 0 1 0 5.4 0a2.7 2.7 0 1 0 -5.4 0zM2152.1 1133.6a2.7 2.7 0 1 0 5.4 0a2.7 2.7 0 1 0 -5.4 0zM2152.1 1143.9a2.7 2.7 0 1 0 5.4 0a2.7 2.7 0 1 0 -5.4 0zM2050.1 1072.6H2057.8V1080.4H2050.1zM2050.1 1085.6H2057.8V1093.3H2050.1zM2050.1 1098.5H2057.8V1106.3H2050.1zM2050.1 1111.5H2057.8V1119.3H2050.1zM2050.1 1124.5H2057.8V1132.2H2050.1zM2050.1 1137.4H2057.8V1145.2H2050.1zM2060.8 1072.6H2068.5V1080.4H2060.8zM2060.8 1085.6H2068.5V1093.3H2060.8zM2060.8 1098.5H2068.5V1106.3H2060.8zM2060.8 1111.5H2068.5V1119.3H2060.8zM2060.8 1124.5H2068.5V1132.2H2060.8zM2060.8 1137.4H2068.5V1145.2H2060.8zM2179.5 1080.3H2187.1V1088.5H2179.5zM2190.1 1080.3H2197.8V1088.5H2190.1zM2172.6 1103.6H2180.3V1112.2H2172.6zM2172.6 1118H2180.3V1126.7H2172.6zM2172.6 1132.4H2180.3V1141.1H2172.6zM2183.3 1103.6H2191V1112.2H2183.3zM2183.3 1118H2191V1126.7H2183.3zM2183.3 1132.4H2191V1141.1H2183.3zM2225.5 1031.5H2235V1039H2225.5zM2225.5 1041.9H2235V1049.3H2225.5zM2241.9 1031.5H2251.5V1039H2241.9zM2241.9 1041.9H2251.5V1049.3H2241.9zM2258.4 1031.5H2267.9V1039H2258.4zM2258.4 1041.9H2267.9V1049.3H2258.4zM2208.2 1059.3a5.1 5.1 0 0 1 10.2 0V1073a5.1 5.1 0 0 1 -10.2 0zM2225.1 1059.3a5.1 5.1 0 0 1 10.2 0V1073a5.1 5.1 0 0 1 -10.2 0zM2242 1059.2a5.1 5.1 0 0 1 10.1 0V1073a5.1 5.1 0 0 1 -10.1 0zM2258.9 1059.2a5.1 5.1 0 0 1 10.1 0V1073a5.1 5.1 0 0 1 -10.1 0zM2208.2 1130.6a5.1 5.1 0 0 1 10.2 0V1179.8a5.1 5.1 0 0 1 -10.2 0zM2225.1 1130.6a5.1 5.1 0 0 1 10.2 0V1179.8a5.1 5.1 0 0 1 -10.2 0zM2242 1130.5a5.1 5.1 0 0 1 10.1 0V1179.9a5.1 5.1 0 0 1 -10.1 0zM2258.9 1130.5a5.1 5.1 0 0 1 10.1 0V1179.9a5.1 5.1 0 0 1 -10.1 0zM2209.6 1194H2219.4V1201.3H2209.6zM2209.6 1204.2H2219.4V1211.5H2209.6zM2226.4 1194H2236.2V1201.3H2226.4zM2226.4 1204.2H2236.2V1211.5H2226.4zM2243.3 1194H2253V1201.3H2243.3zM2243.3 1204.2H2253V1211.5H2243.3zM2260.1 1194H2269.9V1201.3H2260.1zM2260.1 1204.2H2269.9V1211.5H2260.1zM2058.9 1169.9H2067.5V1177.3H2058.9zM2058.9 1180.2H2067.5V1187.7H2058.9zM2070.9 1169.9H2079.5V1177.3H2070.9zM2070.9 1180.2H2079.5V1187.7H2070.9zM2084.9 1170.7H2093.6V1178.1H2084.9zM2084.9 1181H2093.6V1188.5H2084.9zM2099.8 1170.7H2108.4V1178.1H2099.8zM2099.8 1181H2108.4V1188.5H2099.8zM2114.7 1170.7H2123.3V1178.1H2114.7zM2114.7 1181H2123.3V1188.5H2114.7zM2131 1170.7H2138.4V1178.4H2131zM2131 1181.4H2138.4V1189H2131zM2141.3 1170.7H2148.8V1178.4H2141.3zM2141.3 1181.4H2148.8V1189H2141.3zM2158.9 1169.9H2167.7V1177.3H2158.9zM2158.9 1180.2H2167.7V1187.7H2158.9zM2077.5 1199.5H2085.5V1207.1H2077.5zM2077.5 1210.1H2085.5V1217.8H2077.5zM2091.3 1199.5H2099.3V1207.1H2091.3zM2091.3 1210.1H2099.3V1217.8H2091.3zM2105.1 1199.5H2113.2V1207.1H2105.1zM2105.1 1210.1H2113.2V1217.8H2105.1zM2124.7 1208.2H2133.4V1215.7H2124.7zM2124.7 1218.6H2133.4V1226H2124.7zM2137.5 1199.2H2149.3V1212.3H2137.5zM2137.5 1219.2H2149.3V1232.3H2137.5zM2139.7 1212.9H2147.1V1218.4H2139.7zM2158.7 1202.7a6.8 6.8 0 1 0 13.6 0a6.8 6.8 0 1 0 -13.6 0zM2183.1 1202.7a6.8 6.8 0 1 0 13.6 0a6.8 6.8 0 1 0 -13.6 0zM2170.7 1232.3a6.8 6.8 0 1 0 13.6 0a6.8 6.8 0 1 0 -13.6 0zM2044.7 1253.4H2052.1V1261.5H2044.7zM2044.7 1264.6H2052.1V1272.6H2044.7zM2055 1253.4H2062.5V1261.5H2055zM2055 1264.6H2062.5V1272.6H2055zM2135.1 1258.9H2143.7V1266.4H2135.1zM2135.1 1269.3H2143.7V1276.7H2135.1zM2147 1258.9H2155.6V1266.4H2147zM2147 1269.3H2155.6V1276.7H2147zM2160.3 1250.7H2171.8V1264.4H2160.3zM2160.3 1271.2H2171.8V1284.9H2160.3zM2034.2 1278.6H2048.5V1289.6H2034.2zM2054.2 1278.6H2068.5V1289.6H2054.2zM2052.6 1300H2060.1V1308.2H2052.6zM2063 1300H2070.4V1308.2H2063zM2077.5 1300H2085V1308.2H2077.5zM2087.9 1300H2095.3V1308.2H2087.9zM2102.2 1295.3H2121.9V1317H2102.2zM2232.9 1263.8H2246.6V1274.8H2232.9zM2252.6 1263.8H2266.6V1274.8H2252.6zM2218.4 1286.3H2248.5V1302.7H2218.4zM2008.2 1328.2H2015.7V1337.9H2008.2zM2008.2 1341.6H2015.7V1351.2H2008.2zM2018.6 1328.2H2026V1337.9H2018.6zM2018.6 1341.6H2026V1351.2H2018.6zM2057.5 1323.3H2071.9V1335.7H2057.5zM2057.5 1340.5H2071.9V1352.9H2057.5zM2077.4 1323.3H2091.8V1335.7H2077.4zM2077.4 1340.5H2091.8V1352.9H2077.4zM2069 1361.1H2076.5V1369.3H2069zM2079.4 1361.1H2086.8V1369.3H2079.4zM2069 1375.9H2076.5V1384.1H2069zM2079.4 1375.9H2086.8V1384.1H2079.4zM2108.6 1360.3a5.1 5.1 0 0 1 0 10.1H2097.4a5.1 5.1 0 0 1 0 -10.1zM2108.8 1374.5a5 5 0 0 1 0 9.9H2097.2a5 5 0 0 1 0 -9.9zM2231.6 1355.3a6.8 6.8 0 1 0 13.6 0a6.8 6.8 0 1 0 -13.6 0zM1723.4 1393.3H1739.9V1408.9H1723.4zM1750.8 1393.3H1767.3V1408.9H1750.8zM1668.6 1416H1676.8V1423.4H1668.6zM1668.6 1426.2H1676.8V1433.6H1668.6zM1650.8 1424.2H1664.2V1435.2H1650.8zM1711.6 1424.2H1720.4V1431.4H1711.6zM1711.6 1434.1H1720.4V1441.2H1711.6zM1725.3 1422.1H1739V1433H1725.3zM1745.3 1422.1H1759V1433H1745.3zM1690.5 1461.8H1709.7V1479.6H1690.5zM1739 1448.6H1746.7V1456.5H1739zM1739 1461.7H1746.7V1469.6H1739zM1739 1474.9H1746.7V1482.7H1739zM1739 1488H1746.7V1495.8H1739zM1739 1501.1H1746.7V1508.9H1739zM1739 1514.2H1746.7V1522.1H1739zM1749.7 1448.6H1757.4V1456.5H1749.7zM1749.7 1461.7H1757.4V1469.6H1749.7zM1749.7 1474.9H1757.4V1482.7H1749.7zM1749.7 1488H1757.4V1495.8H1749.7zM1749.7 1501.1H1757.4V1508.9H1749.7zM1749.7 1514.2H1757.4V1522.1H1749.7zM1765.1 1468.6H1773.1V1476.2H1765.1zM1765.1 1481.2H1773.1V1488.7H1765.1zM1765.1 1493.7H1773.1V1501.3H1765.1zM1765.1 1506.3H1773.1V1513.8H1765.1zM1776.2 1468.6H1784.2V1476.2H1776.2zM1776.2 1481.2H1784.2V1488.7H1776.2zM1776.2 1493.7H1784.2V1501.3H1776.2zM1776.2 1506.3H1784.2V1513.8H1776.2zM1656.8 1512.5H1665.1V1519.9H1656.8zM1656.8 1522.8H1665.1V1530.3H1656.8zM1671.9 1511.9H1679.4V1520.7H1671.9zM1671.9 1524.2H1679.4V1533H1671.9zM1682.3 1511.9H1689.7V1520.7H1682.3zM1682.3 1524.2H1689.7V1533H1682.3zM1697.9 1511.9H1705.4V1520.7H1697.9zM1697.9 1524.2H1705.4V1533H1697.9zM1708.3 1511.9H1715.8V1520.7H1708.3zM1708.3 1524.2H1715.8V1533H1708.3zM1724 1512.5H1732.7V1519.9H1724zM1724 1522.8H1732.7V1530.3H1724zM1879.6 1374.9H1887.8V1382.3H1879.6zM1928.9 1374.1H1937.7V1382.3H1928.9zM1941.2 1374.1H1950V1382.3H1941.2zM1922.6 1388.6H1930.3V1396H1922.6zM1922.6 1401H1930.3V1408.4H1922.6zM1922.6 1413.3H1930.3V1420.7H1922.6zM1933.3 1388.6H1941V1396H1933.3zM1933.3 1401H1941V1408.4H1933.3zM1933.3 1413.3H1941V1420.7H1933.3zM1947.8 1392.7H1956V1400.1H1947.8zM1947.8 1402.9H1956V1410.3H1947.8zM1970.5 1355.5H1986.4V1361.3H1970.5zM1970.5 1363.8H1986.4V1369.6H1970.5zM1970.5 1372.1H1986.4V1377.9H1970.5zM1970.5 1380.4H1986.4V1386.2H1970.5zM1970.5 1388.6H1986.4V1394.4H1970.5zM1970.5 1396.9H1986.4V1402.7H1970.5zM1970.5 1405.2H1986.4V1411H1970.5zM1970.5 1413.5H1986.4V1419.3H1970.5zM2034.9 1355.5H2050.8V1361.3H2034.9zM2034.9 1363.8H2050.8V1369.6H2034.9zM2034.9 1372.1H2050.8V1377.9H2034.9zM2034.9 1380.4H2050.8V1386.2H2034.9zM2034.9 1388.6H2050.8V1394.4H2034.9zM2034.9 1396.9H2050.8V1402.7H2034.9zM2034.9 1405.2H2050.8V1411H2034.9zM2034.9 1413.5H2050.8V1419.3H2034.9zM1983.7 1427.5H1992.8V1435H1983.7zM1983.7 1437.9H1992.8V1445.3H1983.7zM1996.3 1427.5H2005.3V1435H1996.3zM1996.3 1437.9H2005.3V1445.3H1996.3zM2069.2 1375.5H2076.9V1383.9H2069.2zM2069.2 1389.9H2076.9V1398.3H2069.2zM2069.2 1404.4H2076.9V1412.8H2069.2zM2069.2 1418.9H2076.9V1427.2H2069.2zM2069.2 1433.3H2076.9V1441.7H2069.2zM2069.2 1447.8H2076.9V1456.2H2069.2zM2069.2 1462.2H2076.9V1470.6H2069.2zM2069.2 1476.7H2076.9V1485.1H2069.2zM2079.9 1375.5H2087.5V1383.9H2079.9zM2079.9 1389.9H2087.5V1398.3H2079.9zM2079.9 1404.4H2087.5V1412.8H2079.9zM2079.9 1418.9H2087.5V1427.2H2079.9zM2079.9 1433.3H2087.5V1441.7H2079.9zM2079.9 1447.8H2087.5V1456.2H2079.9zM2079.9 1462.2H2087.5V1470.6H2079.9zM2079.9 1476.7H2087.5V1485.1H2079.9zM2108.5 1374.1a5.4 5.4 0 0 1 0 10.7H2097.8a5.4 5.4 0 0 1 0 -10.7zM2108.5 1388.4a5.3 5.3 0 0 1 0 10.6H2097.8a5.3 5.3 0 0 1 0 -10.6zM2108.5 1402.6a5.4 5.4 0 0 1 0 10.7H2097.8a5.4 5.4 0 0 1 0 -10.7zM2108.5 1416.8a5.4 5.4 0 0 1 0 10.7H2097.8a5.4 5.4 0 0 1 0 -10.7zM2108.5 1431.1a5.4 5.4 0 0 1 0 10.7H2097.8a5.4 5.4 0 0 1 0 -10.7zM2108.5 1445.3a5.4 5.4 0 0 1 0 10.7H2097.8a5.4 5.4 0 0 1 0 -10.7zM2108.5 1459.6a5.4 5.4 0 0 1 0 10.7H2097.8a5.4 5.4 0 0 1 0 -10.7zM2108.5 1473.8a5.4 5.4 0 0 1 0 10.7H2097.8a5.4 5.4 0 0 1 0 -10.7zM2099.9 1486.4H2119.3V1502.9H2099.9zM2231.4 1458.2a6.8 6.8 0 1 0 13.6 0a6.8 6.8 0 1 0 -13.6 0zM2218.5 1486.4H2248.1V1502.9H2218.5zM2163.7 1519.3H2171.2V1528.1H2163.7zM2174.1 1519.3H2181.5V1528.1H2174.1zM2208.9 1518.8H2216.4V1527H2208.9zM2219.3 1518.8H2226.7V1527H2219.3zM2189.2 1531.6H2205.3V1545.3H2189.2zM2238.2 1531.6H2254.7V1545.3H2238.2zM2160.4 1544.5H2176.8V1558.2H2160.4zM2209.7 1544.5H2226.2V1558.2H2209.7zM2189.2 1557.7H2205.3V1571.4H2189.2zM2238.2 1557.7H2254.7V1571.4H2238.2zM2206.2 1586.4H2214.4V1593.9H2206.2zM2206.2 1596.8H2214.4V1604.2H2206.2zM2220.7 1584.2H2226.2V1597.9H2220.7zM2229.9 1584.2H2235.4V1597.9H2229.9zM2239 1584.2H2244.5V1597.9H2239zM2220.7 1607H2226.2V1621.2H2220.7zM2229.9 1607H2235.4V1621.2H2229.9zM2239 1607H2244.5V1621.2H2239zM2191.1 1630.3H2198.8V1637.7H2191.1zM2191.1 1640.6H2198.8V1648.1H2191.1zM2204.2 1630.3H2213V1637.7H2204.2zM2204.2 1640.6H2213V1648.1H2204.2zM2217.1 1630.3H2225.3V1637.7H2217.1zM2217.1 1640.6H2225.3V1648.1H2217.1zM2231.6 1630.3H2240.4V1637.7H2231.6zM2231.6 1640.6H2240.4V1648.1H2231.6zM2084.2 1537.1L2110.3 1537.1L2110.3 1531.1L2117.7 1531.1L2117.7 1575.5L2110.3 1575.5L2110.3 1569.5L2084.2 1569.5zM2125.3 1537.7H2139V1542.7H2125.3zM2125.3 1544.4H2139V1549.4H2125.3zM2125.3 1551.1H2139V1556.1H2125.3zM2125.3 1557.7H2139V1562.8H2125.3zM2125.3 1564.4H2139V1569.5H2125.3zM2084.2 1606.2H2097.9V1611.3H2084.2zM2084.2 1613H2097.9V1618.1H2084.2zM2084.2 1619.8H2097.9V1624.9H2084.2zM2084.2 1626.6H2097.9V1631.7H2084.2zM2084.2 1633.4H2097.9V1638.5H2084.2zM2104.8 1600.1L2112.2 1600.1L2112.2 1606.2L2139 1606.2L2139 1638.5L2112.2 1638.5L2112.2 1644.8L2104.8 1644.8zM2084.2 1660.4L2110.3 1660.4L2110.3 1654.4L2117.7 1654.4L2117.7 1698.8L2110.3 1698.8L2110.3 1692.7L2084.2 1692.7zM2125.3 1661H2139V1666H2125.3zM2125.3 1667.6H2139V1672.7H2125.3zM2125.3 1674.3H2139V1679.4H2125.3zM2125.3 1681H2139V1686H2125.3zM2125.3 1687.7H2139V1692.7H2125.3zM2084.2 1729.5H2097.9V1734.6H2084.2zM2084.2 1736.3H2097.9V1741.4H2084.2zM2084.2 1743.1H2097.9V1748.2H2084.2zM2084.2 1749.9H2097.9V1755H2084.2zM2084.2 1756.7H2097.9V1761.8H2084.2zM2104.8 1723.4L2112.2 1723.4L2112.2 1729.5L2139 1729.5L2139 1761.8L2112.2 1761.8L2112.2 1768.1L2104.8 1768.1zM1842.6 1561.5L1868.6 1561.5L1868.6 1555.5L1876 1555.5L1876 1599.9L1868.6 1599.9L1868.6 1593.8L1842.6 1593.8zM1883.7 1562.1H1897.4V1567.1H1883.7zM1883.7 1568.7H1897.4V1573.8H1883.7zM1883.7 1575.4H1897.4V1580.5H1883.7zM1883.7 1582.1H1897.4V1587.1H1883.7zM1883.7 1588.8H1897.4V1593.8H1883.7zM1841.8 1668.6L1867.8 1668.6L1867.8 1662.6L1875.2 1662.6L1875.2 1707L1867.8 1707L1867.8 1701L1841.8 1701zM1882.9 1669.2H1896.6V1674.2H1882.9zM1882.9 1675.9H1896.6V1680.9H1882.9zM1882.9 1682.6H1896.6V1687.6H1882.9zM1882.9 1689.3H1896.6V1694.3H1882.9zM1882.9 1695.9H1896.6V1701H1882.9zM1863.2 1604.2H1876.8V1615.8H1863.2zM1882.9 1604.2H1897.1V1615.8H1882.9zM1862.3 1713.8H1876V1725.3H1862.3zM1882.3 1713.8H1896V1725.3H1882.3zM1885.1 1514.7H1892.8V1522.9H1885.1zM1895.7 1514.7H1903.4V1522.9H1895.7zM1884.2 1530.3H1893.4V1537.7H1884.2zM1884.2 1540.6H1893.4V1548.1H1884.2zM1897 1530.3H1906.2V1537.7H1897zM1897 1540.6H1906.2V1548.1H1897zM1869.2 1533.8H1877.4V1539.3H1869.2zM1925.3 1547.5H1965.6V1579.6H1925.3zM1977.4 1564.5H2012.2V1612.5H1977.4zM2044.5 1564.5H2078.8V1612.5H2044.5zM1925.3 1627.5H1965.6V1659.9H1925.3zM1924 1668.6H1964.2V1700.7H1924zM1976.6 1682.9H2011.1V1730.3H1976.6zM2043.7 1682.9H2077.9V1730.3H2043.7zM1924 1748.9H1964.2V1781H1924zM1851.4 1626.2H1858.8V1633.8H1851.4zM1861.7 1626.2H1869.2V1633.8H1861.7zM1875.5 1626.2H1882.9V1633.8H1875.5zM1885.8 1626.2H1893.3V1633.8H1885.8zM1850.8 1645.3H1859V1650.8H1850.8zM1876.8 1645.3H1885.1V1650.8H1876.8zM1891.1 1639.3H1898.8V1648.1H1891.1zM1891.1 1651.6H1898.8V1660.4H1891.1zM1901.8 1639.3H1909.5V1648.1H1901.8zM1901.8 1651.6H1909.5V1660.4H1901.8zM1902.6 1668.1H1910.8V1675.4H1902.6zM1902.6 1678.3H1910.8V1685.6H1902.6zM2082.9 1582.3H2097.1V1593.3H2082.9zM2102.9 1582.3H2117.1V1593.3H2102.9zM2124 1584.5H2131.4V1592.7H2124zM2134.3 1584.5H2141.8V1592.7H2134.3zM2149.2 1580.4H2165.9V1596.8H2149.2zM2149.2 1607.8H2165.9V1624.2H2149.2zM2082.9 1705.1H2097.1V1716H2082.9zM2102.9 1705.1H2117.1V1716H2102.9zM2124 1707H2131.4V1715.2H2124zM2134.3 1707H2141.8V1715.2H2134.3zM2149.2 1699.6H2165.9V1716H2149.2zM2149.2 1727H2165.9V1743.4H2149.2zM2178.8 1694.7H2186.2V1702.9H2178.8zM2178.8 1708.4H2186.2V1716.6H2178.8zM2178.8 1722.1H2186.2V1730.3H2178.8zM2189.1 1694.7H2196.6V1702.9H2189.1zM2189.1 1708.4H2196.6V1716.6H2189.1zM2189.1 1722.1H2196.6V1730.3H2189.1zM2224 1696H2261V1718.8H2224zM2198.8 1735.8H2215.8V1744H2198.8zM1677.4 1687.8H1691.6V1698.8H1677.4zM1697.4 1687.8H1711.6V1698.8H1697.4zM1706.7 1713.8a7.7 7.7 0 1 0 15.4 0a7.7 7.7 0 1 0 -15.4 0zM1758.7 1713a7.7 7.7 0 1 0 15.4 0a7.7 7.7 0 1 0 -15.4 0zM1676 1726.2a7.7 7.7 0 1 0 15.4 0a7.7 7.7 0 1 0 -15.4 0zM1728.6 1725.3a7.7 7.7 0 1 0 15.4 0a7.7 7.7 0 1 0 -15.4 0zM1706.7 1737.9a7.7 7.7 0 1 0 15.4 0a7.7 7.7 0 1 0 -15.4 0zM1758.7 1737.7a7.7 7.7 0 1 0 15.4 0a7.7 7.7 0 1 0 -15.4 0zM1687.2 1752.6H1700.8V1762.7H1687.2zM1707.6 1752.6H1721.2V1762.7H1707.6zM1688 1802.1H1702.2V1812.9H1688zM1708.4 1802.1H1722.6V1812.9H1708.4zM1717.9 1821.6H1745.1V1840.9H1717.9zM1758.7 1786.6a10.3 10.3 0 1 0 20.6 0a10.3 10.3 0 1 0 -20.6 0zM1822 1779.8a4.6 4.6 0 1 0 9.2 0a4.6 4.6 0 1 0 -9.2 0zM1847.3 1786.6a7.3 7.3 0 1 0 14.6 0a7.3 7.3 0 1 0 -14.6 0zM1819.3 1882.8a7.3 7.3 0 1 0 14.6 0a7.3 7.3 0 1 0 -14.6 0zM1688 1840.7H1696V1850.7H1688zM1688 1854.6H1696V1864.6H1688zM1699.1 1840.7H1707.1V1850.7H1699.1zM1699.1 1854.6H1707.1V1864.6H1699.1zM1688 1870.5H1696V1880H1688zM1688 1883.7H1696V1893.1H1688zM1699.1 1870.5H1707.1V1880H1699.1zM1699.1 1883.7H1707.1V1893.1H1699.1zM1712 1871.4H1720.7V1878.8H1712zM1712 1881.6H1720.7V1889H1712zM1908.7 1821.6H1935.9V1840.9H1908.7zM1942.1 1825.2H1950.8V1832.6H1942.1zM1942.1 1835.4H1950.8V1842.8H1942.1zM1957.6 1824.3H1966V1831.7H1957.6zM1957.6 1834.6H1966V1842H1957.6zM1930.7 1858.6a6.8 6.8 0 1 0 13.6 0a6.8 6.8 0 1 0 -13.6 0zM1955.7 1858.6a6.8 6.8 0 1 0 13.6 0a6.8 6.8 0 1 0 -13.6 0zM1923.9 1749.1H1964.4V1780.9H1923.9zM1993.8 1757.8H2007.3V1768.9H1993.8zM2013.6 1757.8H2027.2V1768.9H2013.6zM2034.5 1758H2043.2V1765.7H2034.5zM2034.5 1768.6H2043.2V1776.2H2034.5zM2048.1 1764.8H2061.7V1776.2H2048.1zM2067.9 1764.8H2081.5V1776.2H2067.9zM1987 1783.6H1994.4V1791.7H1987zM1997.2 1783.6H2004.6V1791.7H1997.2zM1998.6 1798H2006.8V1805.6H1998.6zM1998.6 1808.6H2006.8V1816.2H1998.6zM1986.1 1823.8H1993.6V1832H1986.1zM1996.6 1823.8H2004.1V1832H1996.6zM2027.7 1799.3H2046.2V1817.8H2027.7zM2073.9 1786.3H2082.1V1793.7H2073.9zM2073.9 1796.6H2082.1V1804H2073.9zM2102.7 1786.6a10.3 10.3 0 1 0 20.6 0a10.3 10.3 0 1 0 -20.6 0zM2082.6 1811.6H2090V1820.2H2082.6zM2082.6 1825.9H2090V1834.5H2082.6zM2082.6 1840.2H2090V1848.8H2082.6zM2092.9 1811.6H2100.3V1820.2H2092.9zM2092.9 1825.9H2100.3V1834.5H2092.9zM2092.9 1840.2H2100.3V1848.8H2092.9zM1995.7 1840.7H2003.8V1848H1995.7zM1995.7 1850.9H2003.8V1858.3H1995.7zM2010.9 1839.3H2018.3V1847.3H2010.9zM2010.9 1852.7H2018.3V1860.7H2010.9zM2010.9 1866H2018.3V1874.1H2010.9zM2021.1 1839.3H2028.5V1847.3H2021.1zM2021.1 1852.7H2028.5V1860.7H2021.1zM2021.1 1866H2028.5V1874.1H2021.1zM2035.9 1838.8H2047.6V1852.3H2035.9zM2035.9 1859.1H2047.6V1872.2H2035.9zM2054.9 1839.3H2062.3V1847.3H2054.9zM2054.9 1852.7H2062.3V1860.7H2054.9zM2054.9 1866H2062.3V1874.1H2054.9zM2065.2 1839.3H2072.6V1847.3H2065.2zM2065.2 1852.7H2072.6V1860.7H2065.2zM2065.2 1866H2072.6V1874.1H2065.2zM2000.5 1886.3a8.2 8.2 0 1 0 16.4 0a8.2 8.2 0 1 0 -16.4 0zM2039.1 1886.3a8.2 8.2 0 1 0 16.4 0a8.2 8.2 0 1 0 -16.4 0zM2020.1 1909.4a8.2 8.2 0 1 0 16.4 0a8.2 8.2 0 1 0 -16.4 0zM1943.5 1889a6.8 6.8 0 1 0 13.6 0a6.8 6.8 0 1 0 -13.6 0zM1914.9 1882.2H1923.6V1889.4H1914.9zM1914.9 1892.2H1923.6V1899.3H1914.9zM1975.5 1882.8H1984.2V1890.2H1975.5zM1975.5 1893H1984.2V1900.4H1975.5zM1904.1 1904.8H1917.7V1917H1904.1zM1920.9 1904.8H1928.3V1911.3H1920.9zM1931.2 1904.8H1938.6V1911.3H1931.2zM1942.1 1904.8H1955.7V1917H1942.1zM2169.6 1751.8H2177V1759.9H2169.6zM2179.8 1751.8H2187.2V1759.9H2179.8zM2198.4 1751.8H2216V1759.9H2198.4zM2198.4 1768.1H2216V1776.2H2198.4zM2198.4 1783.9H2216V1792.6H2198.4zM2157.6 1768.9H2171.7V1779.8H2157.6zM2177.7 1768.9H2191.6V1779.8H2177.7zM2143.8 1808.9H2152.2V1816H2143.8zM2143.8 1818.8H2152.2V1826H2143.8zM2158.5 1817.8a7.3 7.3 0 1 0 14.6 0a7.3 7.3 0 1 0 -14.6 0zM2188.9 1829.8a7.3 7.3 0 1 0 14.6 0a7.3 7.3 0 1 0 -14.6 0zM2143.8 1835.2H2152.2V1842.4H2143.8zM2143.8 1845.2H2152.2V1852.3H2143.8zM2158.5 1842.3a7.3 7.3 0 1 0 14.6 0a7.3 7.3 0 1 0 -14.6 0zM2223.9 1808H2261.4V1831.4H2223.9zM2163.6 1866.5a9 9 0 1 0 18 0a9 9 0 1 0 -18 0zM2163.6 1891.7a9 9 0 1 0 18 0a9 9 0 1 0 -18 0zM2163 1908H2182.1V1927.1H2163zM2125.5 1891.7a9 9 0 1 0 18 0a9 9 0 1 0 -18 0zM2125 1908H2144V1926.5H2125zM1006.9 1487a6.8 6.8 0 1 0 13.6 0a6.8 6.8 0 1 0 -13.6 0zM1387.7 1468.6H1395.1V1477.4H1387.7zM1398 1468.6H1405.5V1477.4H1398zM1371.2 1481.5H1378.9V1490.5H1371.2zM1371.2 1493.9H1378.9V1502.9H1371.2zM1381.9 1481.5H1389.6V1490.5H1381.9zM1381.9 1493.9H1389.6V1502.9H1381.9zM1469.9 1470H1477.6V1477.5H1469.9zM1469.9 1480.4H1477.6V1487.8H1469.9zM1483.1 1470H1490.8V1477.5H1483.1zM1483.1 1480.4H1490.8V1487.8H1483.1zM1496.4 1470H1504.1V1477.5H1496.4zM1496.4 1480.4H1504.1V1487.8H1496.4zM1530 1470a3.4 3.4 0 0 1 0 6.8H1513a3.4 3.4 0 0 1 0 -6.8zM1529.3 1485.1a4.1 4.1 0 0 1 0 8.2H1513.7a4.1 4.1 0 0 1 0 -8.2zM1538.9 1444.5H1572.6V1484.8H1538.9zM1598.5 1470a3.4 3.4 0 0 1 0 6.8H1581.5a3.4 3.4 0 0 1 0 -6.8zM1597.8 1485.1a4.1 4.1 0 0 1 0 8.2H1582.2a4.1 4.1 0 0 1 0 -8.2zM1609.6 1470H1617V1478.2H1609.6zM1619.9 1470H1627.4V1478.2H1619.9zM1609.6 1485.1H1617V1493.3H1609.6zM1619.9 1485.1H1627.4V1493.3H1619.9zM1638.9 1511.1H1650.7V1524.8H1638.9zM1638.9 1530.8H1650.7V1544H1638.9zM1119.2 1519.3H1127.1V1527.3H1119.2zM1119.2 1530.5H1127.1V1538.5H1119.2zM1132.9 1519.3H1140.8V1527.3H1132.9zM1132.9 1530.5H1140.8V1538.5H1132.9zM1146.5 1519.3H1154.5V1527.3H1146.5zM1146.5 1530.5H1154.5V1538.5H1146.5zM1160.2 1519.3H1168.1V1527.3H1160.2zM1160.2 1530.5H1168.1V1538.5H1160.2zM1173.9 1519.3H1181.8V1527.3H1173.9zM1173.9 1530.5H1181.8V1538.5H1173.9zM1187.6 1519.3H1195.5V1527.3H1187.6zM1187.6 1530.5H1195.5V1538.5H1187.6zM1201.2 1519.3H1209.2V1527.3H1201.2zM1201.2 1530.5H1209.2V1538.5H1201.2zM1214.9 1519.3H1222.8V1527.3H1214.9zM1214.9 1530.5H1222.8V1538.5H1214.9zM1228.6 1519.3H1236.5V1527.3H1228.6zM1228.6 1530.5H1236.5V1538.5H1228.6zM1242.3 1519.3H1250.2V1527.3H1242.3zM1242.3 1530.5H1250.2V1538.5H1242.3zM1255.9 1519.3H1263.9V1527.3H1255.9zM1255.9 1530.5H1263.9V1538.5H1255.9zM1269.6 1519.3H1277.5V1527.3H1269.6zM1269.6 1530.5H1277.5V1538.5H1269.6zM1337.5 1520.1H1345.3V1527.8H1337.5zM1337.5 1530.8H1345.3V1538.5H1337.5zM1350.9 1520.1H1358.7V1527.8H1350.9zM1350.9 1530.8H1358.7V1538.5H1350.9zM1364.3 1520.1H1372.1V1527.8H1364.3zM1364.3 1530.8H1372.1V1538.5H1364.3zM1298.1 1533H1305.8V1541.2H1298.1zM1308.8 1533H1316.4V1541.2H1308.8zM1286.8 1546.7H1294.4V1554.4H1286.8zM1297.4 1546.7H1304.9V1554.4H1297.4zM1312.3 1546.7H1320V1554.4H1312.3zM1323 1546.7H1330.7V1554.4H1323zM1284.9 1559H1300.5V1584.5H1284.9zM1317.3 1559H1332.9V1584.5H1317.3zM1009.6 1521.5H1017V1529.7H1009.6zM1019.9 1521.5H1027.4V1529.7H1019.9zM1064.4 1519.3H1073.4V1527H1064.4zM1064.4 1530H1073.4V1537.7H1064.4zM1001.4 1534.4H1006.5V1542.6H1001.4zM1008.5 1534.4H1013.7V1542.6H1008.5zM1021.4 1534.4H1028.8V1542.6H1021.4zM1031.7 1534.4H1039.2V1542.6H1031.7zM997.3 1547.3H1012.3V1560.4H997.3zM1024.1 1545.9H1041.1V1559.9H1024.1zM997.3 1570H1012.3V1583.7H997.3zM1024.1 1570H1041.1V1583.7H1024.1zM1049.3 1551.4H1061.7V1565.5H1049.3zM1049.3 1571H1061.7V1585.1H1049.3zM1066.5 1551.4H1078.9V1565.5H1066.5zM1066.5 1571H1078.9V1585.1H1066.5zM1121.9 1555.8H1130.1V1563.2H1121.9zM1121.9 1566.1H1130.1V1573.6H1121.9zM1168.5 1553H1177.4V1560.7H1168.5zM1168.5 1563.7H1177.4V1571.4H1168.5zM1180.9 1553H1189.9V1560.7H1180.9zM1180.9 1563.7H1189.9V1571.4H1180.9zM1200.5 1553H1209.5V1560.7H1200.5zM1200.5 1563.7H1209.5V1571.4H1200.5zM1213 1553H1221.9V1560.7H1213zM1213 1563.7H1221.9V1571.4H1213zM1228.8 1550.8H1240.3V1564.5H1228.8zM1245.2 1550.8H1253.4V1558H1245.2zM1245.2 1560.9H1253.4V1568.1H1245.2zM1228.8 1570.8H1240.3V1584.2H1228.8zM1130.1 1632.2H1138.9V1639.6H1130.1zM1130.1 1642.5H1138.9V1650H1130.1zM1150.1 1632.2H1158.9V1639.6H1150.1zM1150.1 1642.5H1158.9V1650H1150.1zM1181.6 1632.2H1190.4V1639.6H1181.6zM1181.6 1642.5H1190.4V1650H1181.6zM1204.9 1632.2H1213.7V1639.6H1204.9zM1204.9 1642.5H1213.7V1650H1204.9zM1227.4 1633.8H1236.2V1641.3H1227.4zM1227.4 1644.2H1236.2V1651.6H1227.4zM1253.4 1633.8H1262.2V1641.3H1253.4zM1253.4 1644.2H1262.2V1651.6H1253.4zM1129.6 1663.4a5.5 5.5 0 0 1 10.9 0V1667a5.5 5.5 0 0 1 -10.9 0zM1154.8 1663.4a5.5 5.5 0 0 1 11 0V1667a5.5 5.5 0 0 1 -11 0zM1180 1663.4a5.5 5.5 0 0 1 11 0V1667a5.5 5.5 0 0 1 -11 0zM1204.7 1663.4a5.5 5.5 0 0 1 10.9 0V1667a5.5 5.5 0 0 1 -10.9 0zM1227.4 1663.4a5.5 5.5 0 0 1 11 0V1667a5.5 5.5 0 0 1 -11 0zM1251.5 1663.4a5.5 5.5 0 0 1 11 0V1667a5.5 5.5 0 0 1 -11 0zM1130.1 1695.6a5.4 5.4 0 0 1 10.7 0V1699.5a5.4 5.4 0 0 1 -10.7 0zM1142.5 1695.6a5.4 5.4 0 0 1 10.7 0V1699.5a5.4 5.4 0 0 1 -10.7 0zM1154.8 1695.6a5.4 5.4 0 0 1 10.7 0V1699.5a5.4 5.4 0 0 1 -10.7 0zM1180 1695.6a5.4 5.4 0 0 1 10.7 0V1699.5a5.4 5.4 0 0 1 -10.7 0zM1192.3 1695.6a5.4 5.4 0 0 1 10.7 0V1699.5a5.4 5.4 0 0 1 -10.7 0zM1204.7 1695.6a5.3 5.3 0 0 1 10.6 0V1699.5a5.3 5.3 0 0 1 -10.6 0zM1227.4 1695.6a5.4 5.4 0 0 1 10.7 0V1699.5a5.4 5.4 0 0 1 -10.7 0zM1239.7 1695.6a5.4 5.4 0 0 1 10.7 0V1699.5a5.4 5.4 0 0 1 -10.7 0zM1252.1 1695.6a5.3 5.3 0 0 1 10.6 0V1699.5a5.3 5.3 0 0 1 -10.6 0zM1045.2 1646.2H1052.9V1654.4H1045.2zM1055.9 1646.2H1063.6V1654.4H1055.9zM1070.7 1647.5H1080.3V1653.6H1070.7zM1097.3 1648.6H1106.3V1654.1H1097.3zM1072.6 1664H1080.3V1672.2H1072.6zM1083.3 1664H1091V1672.2H1083.3zM1112.3 1663.2H1121.1V1670.8H1112.3zM1112.3 1673.8H1121.1V1681.5H1112.3zM1115.9 1697.4H1124.7V1705.1H1115.9zM1115.9 1708.1H1124.7V1715.8H1115.9zM1129.6 1709.7H1137.3V1717.4H1129.6zM1140.3 1709.7H1147.9V1717.4H1140.3zM1181.6 1711.1H1190.8V1718.6H1181.6zM1181.6 1721.4H1190.8V1728.9H1181.6zM1194.4 1711.1H1203.6V1718.6H1194.4zM1194.4 1721.4H1203.6V1728.9H1194.4zM1240.3 1709.7H1249.3V1717.2H1240.3zM1240.3 1720.1H1249.3V1727.5H1240.3zM1095.9 1733.6a6.8 6.8 0 1 0 13.6 0a6.8 6.8 0 1 0 -13.6 0zM1140.3 1733.6a6.8 6.8 0 1 0 13.6 0a6.8 6.8 0 1 0 -13.6 0zM1083.6 1764a6.8 6.8 0 1 0 13.6 0a6.8 6.8 0 1 0 -13.6 0zM1107.7 1764a6.8 6.8 0 1 0 13.6 0a6.8 6.8 0 1 0 -13.6 0zM1127.4 1764a6.8 6.8 0 1 0 13.6 0a6.8 6.8 0 1 0 -13.6 0zM1152.7 1764a6.8 6.8 0 1 0 13.6 0a6.8 6.8 0 1 0 -13.6 0zM1209 1760.4H1217.8V1767.9H1209zM1209 1770.8H1217.8V1778.2H1209zM1222.5 1771.4H1230V1779.6H1222.5zM1233 1771.4H1240.5V1779.6H1233zM1000 1789.2H1009.6V1811.1H1000zM1011.5 1789.2H1021.4V1811.1H1011.5zM1034.8 1800.9a12.4 12.4 0 0 1 24.7 0V1825.6a12.4 12.4 0 0 1 -24.7 0zM1071.8 1790.5H1088.2V1807H1071.8zM1071.8 1817.9H1088.2V1834.4H1071.8zM1114.2 1790a3.1 3.1 0 0 1 6.1 0V1803.2a3.1 3.1 0 0 1 -6.1 0zM1122.7 1790a3 3 0 0 1 6 0V1803.2a3 3 0 0 1 -6 0zM1131.1 1790a3 3 0 0 1 6 0V1803.2a3 3 0 0 1 -6 0zM1139.5 1790a3 3 0 0 1 6 0V1803.2a3 3 0 0 1 -6 0zM1147.9 1790a3 3 0 0 1 6 0V1803.2a3 3 0 0 1 -6 0zM1156.3 1790a3 3 0 0 1 6 0V1803.2a3 3 0 0 1 -6 0zM1164.7 1790a3 3 0 0 1 6 0V1803.2a3 3 0 0 1 -6 0zM1173.1 1790a3 3 0 0 1 6 0V1803.2a3 3 0 0 1 -6 0zM1181.5 1790a3.1 3.1 0 0 1 6.1 0V1803.2a3.1 3.1 0 0 1 -6.1 0zM1189.9 1790a3.1 3.1 0 0 1 6.1 0V1803.2a3.1 3.1 0 0 1 -6.1 0zM1198.3 1790a3.1 3.1 0 0 1 6.1 0V1803.2a3.1 3.1 0 0 1 -6.1 0zM1206.7 1790a3.1 3.1 0 0 1 6.1 0V1803.2a3.1 3.1 0 0 1 -6.1 0zM1215.1 1790a3.1 3.1 0 0 1 6.1 0V1803.2a3.1 3.1 0 0 1 -6.1 0zM1223.5 1790a3.1 3.1 0 0 1 6.1 0V1803.2a3.1 3.1 0 0 1 -6.1 0zM1351.5 1746.2H1361.5V1753.6H1351.5zM1351.5 1756.5H1361.5V1764H1351.5zM1365.4 1746.2H1375.3V1753.6H1365.4zM1365.4 1756.5H1375.3V1764H1365.4zM1381.4 1730.8H1393.2V1744.8H1381.4zM1381.4 1750.8H1393.2V1764.5H1381.4zM1503.6 1786.4a7.4 7.4 0 1 0 14.8 0a7.4 7.4 0 1 0 -14.8 0zM1434.8 1795.2H1444V1802.8H1434.8zM1434.8 1805.7H1444V1813.3H1434.8zM1447.5 1795.2H1456.7V1802.8H1447.5zM1447.5 1805.7H1456.7V1813.3H1447.5zM1519.7 1812.5H1527.5V1821.6H1519.7zM1519.7 1827.7H1527.5V1836.9H1519.7zM1519.7 1843H1527.5V1852.2H1519.7zM1530.6 1812.5H1538.4V1821.6H1530.6zM1530.6 1827.7H1538.4V1836.9H1530.6zM1530.6 1843H1538.4V1852.2H1530.6zM1504.1 1832.2H1512.3V1840H1504.1zM1504.1 1843H1512.3V1850.8H1504.1zM1672 1826a5.9 5.9 0 0 1 0 11.8H1630.4a5.9 5.9 0 0 1 0 -11.8zM1571 1826a5.8 5.8 0 0 1 0 11.5H1559a5.8 5.8 0 0 1 0 -11.5zM1672 1843a5.9 5.9 0 0 1 0 11.8H1630.4a5.9 5.9 0 0 1 0 -11.8zM1571 1843a5.8 5.8 0 0 1 0 11.5H1559a5.8 5.8 0 0 1 0 -11.5zM1672 1858.8a5.9 5.9 0 0 1 0 11.8H1630.4a5.9 5.9 0 0 1 0 -11.8zM1571 1858.8a5.8 5.8 0 0 1 0 11.5H1559a5.8 5.8 0 0 1 0 -11.5zM1672 1875a5.9 5.9 0 0 1 0 11.8H1630.4a5.9 5.9 0 0 1 0 -11.8zM1571 1875a5.8 5.8 0 0 1 0 11.5H1559a5.8 5.8 0 0 1 0 -11.5zM1422.5 1845H1466.5V1889H1422.5zM1381 1885.5H1388.6V1894.5H1381zM1391.6 1885.5H1399.2V1894.5H1391.6zM1492.1 1855.9H1499.5V1864H1492.1zM1492.1 1869.4H1499.5V1877.5H1492.1zM1492.1 1882.9H1499.5V1891H1492.1zM1492.1 1896.5H1499.5V1904.6H1492.1zM1492.1 1910H1499.5V1918.1H1492.1zM1502.4 1855.9H1509.8V1864H1502.4zM1502.4 1869.4H1509.8V1877.5H1502.4zM1502.4 1882.9H1509.8V1891H1502.4zM1502.4 1896.5H1509.8V1904.6H1502.4zM1502.4 1910H1509.8V1918.1H1502.4zM1520.1 1855.9H1527.7V1865.2H1520.1zM1520.1 1868.8H1527.7V1878.2H1520.1zM1530.7 1855.9H1538.3V1865.2H1530.7zM1530.7 1868.8H1538.3V1878.2H1530.7zM1518.8 1908.9H1526.1V1917.6H1518.8zM1529 1908.9H1536.4V1917.6H1529zM1415 1386.9H1422.9V1395.2H1415zM1425.9 1386.9H1433.8V1395.2H1425.9zM1386.9 1404.6H1394.7V1413H1386.9zM1386.9 1417.5H1394.7V1425.9H1386.9zM1386.9 1430.4H1394.7V1438.8H1386.9zM1386.9 1443.3H1394.7V1451.6H1386.9zM1386.9 1456.2H1394.7V1464.5H1386.9zM1397.8 1404.6H1405.6V1413H1397.8zM1397.8 1417.5H1405.6V1425.9H1397.8zM1397.8 1430.4H1405.6V1438.8H1397.8zM1397.8 1443.3H1405.6V1451.6H1397.8zM1397.8 1456.2H1405.6V1464.5H1397.8zM1454.1 1424.2H1465.7V1438.9H1454.1zM1454.1 1444.6H1465.7V1459.4H1454.1zM1472.8 1424.2H1484.4V1438.9H1472.8zM1472.8 1444.6H1484.4V1459.4H1472.8zM1491.5 1424.2H1503.1V1438.9H1491.5zM1491.5 1444.6H1503.1V1459.4H1491.5zM1529.5 1435.9a4.1 4.1 0 0 1 0 8.1H1513a4.1 4.1 0 0 1 0 -8.1zM1529.5 1452.3a4.1 4.1 0 0 1 0 8.2H1513a4.1 4.1 0 0 1 0 -8.2zM1598.2 1435.9a4.1 4.1 0 0 1 0 8.1H1581.5a4.1 4.1 0 0 1 0 -8.1zM1598.2 1452.3a4.1 4.1 0 0 1 0 8.2H1581.6a4.1 4.1 0 0 1 0 -8.2zM1576.2 1419.2H1584.1V1428.1H1576.2zM1587.1 1419.2H1595V1428.1H1587.1zM1608.6 1428.1H1620.3V1442.5H1608.6zM1608.6 1447.6H1620.3V1462H1608.6zM1629.9 1423.4H1644.3V1435.4H1629.9zM1649.5 1423.4H1664.2V1435.4H1649.5zM1641.8 1441.5H1649.8V1450.6H1641.8zM1641.8 1454.5H1649.8V1463.6H1641.8zM1641.8 1467.5H1649.8V1476.6H1641.8zM1641.8 1480.5H1649.8V1489.6H1641.8zM1653 1441.5H1661V1450.6H1653zM1653 1454.5H1661V1463.6H1653zM1653 1467.5H1661V1476.6H1653zM1653 1480.5H1661V1489.6H1653zM1643 1497.5H1650.8V1506.5H1643zM1653.9 1497.5H1661.8V1506.5H1653.9zM737.8 1564.7H808.7V1635.3H737.8zM740.2 1567.1H806.4V1633H740.2zM721.4 1518.2H730.5V1525.8H721.4zM721.4 1528.7H730.5V1536.2H721.4zM680.4 1551.9H688V1560.5H680.4zM691 1551.9H698.7V1560.5H691zM680.4 1568.3H688V1576.5H680.4zM680.4 1579.7H688V1587.9H680.4zM691 1568.3H698.7V1576.5H691zM691 1579.7H698.7V1587.9H691zM680.4 1592.6H688V1601.1H680.4zM680.4 1604.4H688V1612.9H680.4zM691 1592.6H698.7V1601.1H691zM691 1604.4H698.7V1612.9H691zM832.8 1517.5H847.2V1530.1H832.8zM832.8 1535H847.2V1547.6H832.8zM832.8 1552.6H847.2V1565.2H832.8zM852.8 1517.5H867.2V1530.1H852.8zM852.8 1535H867.2V1547.6H852.8zM852.8 1552.6H867.2V1565.2H852.8zM838.7 1630.6H846.5V1639.1H838.7zM849.5 1630.6H857.2V1639.1H849.5zM982.7 1460.3H991.3V1467.9H982.7zM982.7 1470.8H991.3V1478.3H982.7zM450.4 1667.2a7.3 7.3 0 1 0 14.6 0a7.3 7.3 0 1 0 -14.6 0zM718 1670.8H726.6V1678.2H718zM718 1681H726.6V1688.4H718zM732.8 1670.8H741.3V1678.2H732.8zM732.8 1681H741.3V1688.4H732.8zM747.5 1670.8H756.1V1678.2H747.5zM747.5 1681H756.1V1688.4H747.5zM762.3 1670.8H770.8V1678.2H762.3zM762.3 1681H770.8V1688.4H762.3zM777 1670.8H785.6V1678.2H777zM777 1681H785.6V1688.4H777zM791.8 1670.8H800.3V1678.2H791.8zM791.8 1681H800.3V1688.4H791.8zM806.5 1670.8H815.1V1678.2H806.5zM806.5 1681H815.1V1688.4H806.5zM746.3 1699.3H754.5V1706.5H746.3zM746.3 1709.2H754.5V1716.4H746.3zM764 1700.7H772.8V1707.7H764zM764 1710.4H772.8V1717.5H764zM776.3 1700.7H785.2V1707.7H776.3zM776.3 1710.4H785.2V1717.5H776.3zM552.8 1717H569.7V1733.3H552.8zM552.8 1744.1H569.7V1760.4H552.8zM935.2 1716.4H942.1V1730H935.2zM947.7 1716.4H954.7V1730H947.7zM960.3 1716.4H967.2V1730H960.3zM935.2 1752.3H942.1V1766.4H935.2zM947.7 1752.3H954.7V1766.4H947.7zM960.3 1752.3H967.2V1766.4H960.3zM859.9 1729.2H867.3V1736.8H859.9zM870.2 1729.2H877.6V1736.8H870.2zM781.9 1740.6H788.7V1748H781.9zM781.9 1750.9H788.7V1758.3H781.9zM793.7 1740.6H800.5V1748H793.7zM793.7 1750.9H800.5V1758.3H793.7zM805.4 1740.6H812.3V1748H805.4zM805.4 1750.9H812.3V1758.3H805.4zM817.2 1740.6H824V1748H817.2zM817.2 1750.9H824V1758.3H817.2zM830.5 1742H844.1V1757.7H830.5zM855.8 1742H869.4V1757.7H855.8zM715.9 1765.1H732.7V1781.4H715.9zM743 1765.1H759.9V1781.4H743zM842.8 1770.5H857.2V1786.8H842.8zM834.9 1790.9H842.5V1799.2H834.9zM834.9 1802.4H842.5V1810.7H834.9zM845.5 1790.9H853.1V1799.2H845.5zM845.5 1802.4H853.1V1810.7H845.5zM855 1816.1H863.2V1823.5H855zM855 1826.4H863.2V1833.8H855zM547.4 1801.7a12.2 12.2 0 0 1 24.4 0V1825.7a12.2 12.2 0 0 1 -24.4 0zM712.6 1801.8a12.3 12.3 0 0 1 24.5 0V1825.7a12.3 12.3 0 0 1 -24.5 0zM869.4 1802a12.5 12.5 0 0 1 25 0V1825.4a12.5 12.5 0 0 1 -25 0zM585.4 1790.3H595.2V1810.7H585.4zM598.4 1790.3H608.2V1810.7H598.4zM611.4 1790.3H621.1V1810.7H611.4zM624.4 1790.3H634.1V1810.7H624.4zM637.4 1790.3H647.1V1810.7H637.4zM650.3 1790.3H660.1V1810.7H650.3zM663.3 1790.3H673.1V1810.7H663.3zM676.3 1790.3H686V1810.7H676.3zM689.3 1790.3H699V1810.7H689.3zM908 1790.3H917.7V1810.7H908zM920.9 1790.3H930.6V1810.7H920.9zM933.8 1790.3H943.5V1810.7H933.8zM946.8 1790.3H956.4V1810.7H946.8zM959.7 1790.3H969.4V1810.7H959.7zM972.6 1790.3H982.3V1810.7H972.6zM985.5 1790.3H995.2V1810.7H985.5zM386.2 1823.5a6.8 6.8 0 1 0 13.6 0a6.8 6.8 0 1 0 -13.6 0zM424.6 1812.6H433.3V1820.1H424.6zM424.6 1823H433.3V1830.5H424.6zM439.5 1809.3H447.1V1819H439.5zM439.5 1822.8H447.1V1832.4H439.5zM450.1 1809.3H457.7V1819H450.1zM450.1 1822.8H457.7V1832.4H450.1zM475.4 1825.1H483.1V1833.3H475.4zM486.1 1825.1H493.9V1833.3H486.1zM450.9 1838.7H455.6V1852.3H450.9zM457.6 1838.7H462.2V1852.3H457.6zM464.2 1838.7H468.9V1852.3H464.2zM470.9 1838.7H475.5V1852.3H470.9zM477.5 1838.7H482.2V1852.3H477.5zM450.9 1892.8H455.6V1905.8H450.9zM457.6 1892.8H462.2V1905.8H457.6zM464.2 1892.8H468.9V1905.8H464.2zM470.9 1892.8H475.5V1905.8H470.9zM477.5 1892.8H482.2V1905.8H477.5zM497.7 1842.5H531.1V1865.9H497.7zM537.9 1846.8H546.6V1854.2H537.9zM537.9 1857.1H546.6V1864.5H537.9zM497.7 1877.3H531.1V1900.9H497.7zM765.3 1861a6.8 6.8 0 1 0 13.6 0a6.8 6.8 0 1 0 -13.6 0zM816.4 1861a6.8 6.8 0 1 0 13.6 0a6.8 6.8 0 1 0 -13.6 0zM992.5 1251.9H1001.2V1259.6H992.5zM992.5 1262.6H1001.2V1270.3H992.5zM980.7 1344.5H988.5V1353.7H980.7zM980.7 1357.3H988.5V1366.4H980.7zM991.5 1344.5H999.3V1353.7H991.5zM991.5 1357.3H999.3V1366.4H991.5zM1114.6 1886.6a3 3 0 0 1 6 0V1897.7a3 3 0 0 1 -6 0zM1122.9 1886.6a3 3 0 0 1 6 0V1897.7a3 3 0 0 1 -6 0zM1131.3 1886.6a3 3 0 0 1 6 0V1897.7a3 3 0 0 1 -6 0zM1139.6 1886.6a3 3 0 0 1 6 0V1897.7a3 3 0 0 1 -6 0zM1148 1886.6a3 3 0 0 1 6 0V1897.7a3 3 0 0 1 -6 0zM1156.3 1886.6a3 3 0 0 1 6 0V1897.7a3 3 0 0 1 -6 0zM1164.6 1886.6a3 3 0 0 1 6 0V1897.7a3 3 0 0 1 -6 0zM1173 1886.6a3 3 0 0 1 6 0V1897.7a3 3 0 0 1 -6 0zM1181.3 1886.6a3 3 0 0 1 6 0V1897.7a3 3 0 0 1 -6 0zM1189.6 1886.6a3 3 0 0 1 6 0V1897.7a3 3 0 0 1 -6 0zM1198 1886.6a3 3 0 0 1 6 0V1897.7a3 3 0 0 1 -6 0zM1206.3 1886.6a3 3 0 0 1 6 0V1897.7a3 3 0 0 1 -6 0zM1214.7 1886.6a3 3 0 0 1 6 0V1897.7a3 3 0 0 1 -6 0zM1223 1886.6a3 3 0 0 1 6 0V1897.7a3 3 0 0 1 -6 0zM1203 1910.5H1209.9V1918.6H1203zM1212.6 1910.5H1219.5V1918.6H1212.6zM1229.5 1910.5H1236.8V1918.6H1229.5zM1239.7 1910.5H1247V1918.6H1239.7zM2830.1 529.9a11.3 11.3 0 0 1 22.5 0V547.1a11.3 11.3 0 0 1 -22.5 0zM2873.4 552.9a14.5 14.5 0 1 0 29 0a14.5 14.5 0 1 0 -29 0zM2921.1 554.2a6.8 6.8 0 1 0 13.6 0a6.8 6.8 0 1 0 -13.6 0zM2956.7 530a11.4 11.4 0 0 1 22.8 0V547a11.4 11.4 0 0 1 -22.8 0zM3042.5 526.7a8.9 8.9 0 0 1 17.8 0V543.2a8.9 8.9 0 0 1 -17.8 0zM3154 526.7a8.9 8.9 0 0 1 17.8 0V543.2a8.9 8.9 0 0 1 -17.8 0zM3241.6 555.7a10.5 10.5 0 0 1 20.9 0V560.2a10.5 10.5 0 0 1 -20.9 0zM3058.9 575.9a4.7 4.7 0 1 0 9.4 0a4.7 4.7 0 1 0 -9.4 0zM3043.8 587.5a8 8 0 0 1 15.9 0V601.6a8 8 0 0 1 -15.9 0zM3059.4 581.6a5.8 5.8 0 0 1 0 11.6H3053.2a5.8 5.8 0 0 1 0 -11.6zM3146 575.9a4.7 4.7 0 1 0 9.4 0a4.7 4.7 0 1 0 -9.4 0zM3154.8 587.7a8.2 8.2 0 0 1 16.4 0V601.4a8.2 8.2 0 0 1 -16.4 0zM3161.3 581.6a5.8 5.8 0 0 1 0 11.6H3155.1a5.8 5.8 0 0 1 0 -11.6zM2832.3 626.2a14.4 14.4 0 0 1 28.8 0V638.5a14.4 14.4 0 0 1 -28.8 0zM2873.4 626.2a14.4 14.4 0 0 1 28.8 0V638.5a14.4 14.4 0 0 1 -28.8 0zM2941.6 626.3a14.6 14.6 0 0 1 29.1 0V638.4a14.6 14.6 0 0 1 -29.1 0zM2876.1 669.9a11.8 11.8 0 1 0 23.6 0a11.8 11.8 0 1 0 -23.6 0zM2745.2 648.5a7.4 7.4 0 1 0 14.8 0a7.4 7.4 0 1 0 -14.8 0zM2775.3 660.8a7.4 7.4 0 1 0 14.8 0a7.4 7.4 0 1 0 -14.8 0zM2745.2 673.2a7.4 7.4 0 1 0 14.8 0a7.4 7.4 0 1 0 -14.8 0zM2796.4 671.2H2804.7V678.7H2796.4zM2796.4 681.6H2804.7V689H2796.4zM2811 671.2H2819.7V678.7H2811zM2811 681.6H2819.7V689H2811zM2826 678.1H2840.3V689H2826zM2846 678.1H2860.3V689H2846zM2740.5 688.2H2752.1V701.9H2740.5zM2740.5 708.2H2752.1V721.4H2740.5zM2757 691H2765.8V698.2H2757zM2757 701H2765.8V708.2H2757zM2775.9 695.9H2779.8V710.4H2775.9zM2782.4 695.9H2786.2V710.4H2782.4zM2788.8 695.9H2792.7V710.4H2788.8zM2795.3 695.9H2799.2V710.4H2795.3zM2775.9 718.6H2779.8V732.9H2775.9zM2782.4 718.6H2786.2V732.9H2782.4zM2788.8 718.6H2792.7V732.9H2788.8zM2795.3 718.6H2799.2V732.9H2795.3zM2809.1 704.7a6.8 6.8 0 1 0 13.6 0a6.8 6.8 0 1 0 -13.6 0zM2833.7 704.7a6.8 6.8 0 1 0 13.6 0a6.8 6.8 0 1 0 -13.6 0zM2821.4 734.8a6.8 6.8 0 1 0 13.6 0a6.8 6.8 0 1 0 -13.6 0zM2821.9 780a10.4 10.4 0 1 0 20.8 0a10.4 10.4 0 1 0 -20.8 0zM3004.9 650.7H3013.7V658.1H3004.9zM3004.9 661H3013.7V668.5H3004.9zM3017.3 647.9H3033.7V661.6H3017.3zM3045.8 634.8H3062.2V648.5H3045.8zM3045.8 660.8H3062.2V674.5H3045.8zM3071.2 625.5H3081V632.9H3071.2zM3071.2 635.8H3081V643.3H3071.2zM3084.8 625.5H3094.5V632.9H3084.8zM3084.8 635.8H3094.5V643.3H3084.8zM3132.9 624.7H3142.3V632.1H3132.9zM3132.9 635H3142.3V642.5H3132.9zM3145.9 624.7H3155.3V632.1H3145.9zM3145.9 635H3155.3V642.5H3145.9zM3071.2 653.4H3081V662.3H3071.2zM3071.2 665.7H3081V674.5H3071.2zM3084.8 653.4H3094.5V662.3H3084.8zM3084.8 665.7H3094.5V674.5H3084.8zM3132.3 653.4H3142V662.3H3132.3zM3132.3 665.7H3142V674.5H3132.3zM3145.7 653.4H3155.3V662.3H3145.7zM3145.7 665.7H3155.3V674.5H3145.7zM3104.1 625.5H3112.9V640.5H3104.1zM3116.4 625.5H3126V640.5H3116.4zM3104.1 646H3112.9V660.3H3104.1zM3116.4 646H3126V660.3H3116.4zM3019.2 680.8H3033.5V693.4H3019.2zM3019.2 698.3H3033.5V711H3019.2zM3039.1 680.8H3053.4V693.4H3039.1zM3039.1 698.3H3053.4V711H3039.1zM3075.3 709.6H3084.1V717H3075.3zM3075.3 719.9H3084.1V727.4H3075.3zM3089.6 716.4H3106V730.1H3089.6zM3117.8 703.6H3134.2V717.3H3117.8zM3117.8 729.6H3134.2V743.3H3117.8zM3260.3 634.5a11.2 11.2 0 0 1 22.4 0V648.5a11.2 11.2 0 0 1 -22.4 0zM3308.5 626.6a4.7 4.7 0 1 0 9.4 0a4.7 4.7 0 1 0 -9.4 0zM3321.4 626.6a4.7 4.7 0 1 0 9.4 0a4.7 4.7 0 1 0 -9.4 0zM3334.4 626.6a4.7 4.7 0 1 0 9.4 0a4.7 4.7 0 1 0 -9.4 0zM3347.3 626.6a4.7 4.7 0 1 0 9.4 0a4.7 4.7 0 1 0 -9.4 0zM3360.3 626.6a4.7 4.7 0 1 0 9.4 0a4.7 4.7 0 1 0 -9.4 0zM3373.2 626.6a4.7 4.7 0 1 0 9.4 0a4.7 4.7 0 1 0 -9.4 0zM3386.2 626.6a4.7 4.7 0 1 0 9.4 0a4.7 4.7 0 1 0 -9.4 0zM3399.2 626.6a4.7 4.7 0 1 0 9.4 0a4.7 4.7 0 1 0 -9.4 0zM3412.1 626.6a4.7 4.7 0 1 0 9.4 0a4.7 4.7 0 1 0 -9.4 0zM3302.1 645.8a4.7 4.7 0 1 0 9.4 0a4.7 4.7 0 1 0 -9.4 0zM3315.1 645.8a4.7 4.7 0 1 0 9.4 0a4.7 4.7 0 1 0 -9.4 0zM3328.1 645.8a4.7 4.7 0 1 0 9.4 0a4.7 4.7 0 1 0 -9.4 0zM3341 645.8a4.7 4.7 0 1 0 9.4 0a4.7 4.7 0 1 0 -9.4 0zM3354 645.8a4.7 4.7 0 1 0 9.4 0a4.7 4.7 0 1 0 -9.4 0zM3366.9 645.8a4.7 4.7 0 1 0 9.4 0a4.7 4.7 0 1 0 -9.4 0zM3379.9 645.8a4.7 4.7 0 1 0 9.4 0a4.7 4.7 0 1 0 -9.4 0zM3392.9 645.8a4.7 4.7 0 1 0 9.4 0a4.7 4.7 0 1 0 -9.4 0zM3405.8 645.8a4.7 4.7 0 1 0 9.4 0a4.7 4.7 0 1 0 -9.4 0zM3418.8 645.8a4.7 4.7 0 1 0 9.4 0a4.7 4.7 0 1 0 -9.4 0zM3386.3 670.7H3393.2V679.5H3386.3zM3386.8 702.7H3395.9V710.2H3386.8zM3386.8 713.1H3395.9V720.5H3386.8zM3386.3 731.5H3397.3V745.2H3386.3zM3386.3 762.5H3397.3V776.2H3386.3zM2939.7 767.1H3006V808.8H2939.7zM2739.2 792.3H2746.6V800H2739.2zM2749.5 792.3H2757V800H2749.5zM2739.2 812.3H2746.6V820.5H2739.2zM2749.5 812.3H2757V820.5H2749.5zM2895.9 825.5H2907.7V839.5H2895.9zM2895.9 844.9H2907.7V858.9H2895.9zM2914.1 825.5H2925.9V839.5H2914.1zM2914.1 844.9H2925.9V858.9H2914.1zM2932.2 825.5H2944V839.5H2932.2zM2932.2 844.9H2944V858.9H2932.2zM2950.4 825.5H2962.2V839.5H2950.4zM2950.4 844.9H2962.2V858.9H2950.4zM3136.4 762.2H3144.3V770H3136.4zM3136.4 773H3144.3V780.8H3136.4zM3150 762.2H3157.8V770H3150zM3150 773H3157.8V780.8H3150zM3163.5 762.2H3171.4V770H3163.5zM3163.5 773H3171.4V780.8H3163.5zM3177.1 762.2H3184.9V770H3177.1zM3177.1 773H3184.9V780.8H3177.1zM3123.3 792.3H3131V800.5H3123.3zM3134 792.3H3141.6V800.5H3134zM3191.2 802.2H3200.1V809.9H3191.2zM3191.2 812.9H3200.1V820.5H3191.2zM3203.5 802.2H3212.3V809.9H3203.5zM3203.5 812.9H3212.3V820.5H3203.5zM3136.4 810.4H3148.9V824.7H3136.4zM3154.2 810.4H3166.6V824.7H3154.2zM3172 810.4H3184.4V824.7H3172zM3121.9 823.3H3130.7V831H3121.9zM3121.9 834H3130.7V841.6H3121.9zM3136.4 830.7H3148.9V844.4H3136.4zM3154.2 830.7H3166.6V844.4H3154.2zM3172 830.7H3184.4V844.4H3172zM3195.9 833.4H3203.3V841.6H3195.9zM3206.2 833.4H3213.7V841.6H3206.2zM3252.9 762.5H3260.6V770.5H3252.9zM3252.9 775.8H3260.6V783.9H3252.9zM3252.9 789.2H3260.6V797.3H3252.9zM3263.5 762.5H3271.2V770.5H3263.5zM3263.5 775.8H3271.2V783.9H3263.5zM3263.5 789.2H3271.2V797.3H3263.5zM3312.3 784.4H3326.6V795.3H3312.3zM3332.3 784.4H3346.6V795.3H3332.3zM3283.6 795.3H3291.2V803.6H3283.6zM3294.2 795.3H3301.9V803.6H3294.2zM3326.8 802.2H3334.3V810.4H3326.8zM3337.2 802.2H3344.7V810.4H3337.2zM3274.8 811H3290.4V827.4H3274.8zM3301.9 811H3317.8V827.4H3301.9zM3239.7 845.2H3247.4V853.4H3239.7zM3250.4 845.2H3258.1V853.4H3250.4zM3264.9 846.6H3276.2V860.3H3264.9zM3283.6 846.6H3294.5V860.3H3283.6zM3300 846.6H3308.2V854H3300zM3300 856.9H3308.2V864.4H3300zM3264.9 867.1H3276.2V880.8H3264.9zM3283.6 867.1H3294.5V880.8H3283.6zM3119.2 862.5H3126.9V870.7H3119.2zM3129.9 862.5H3137.5V870.7H3129.9zM3109.6 876.7H3123.3V886.8H3109.6zM3130.1 876.7H3143.8V886.8H3130.1zM2766.1 793.8H2787.6V1199.2H2766.1zM2861.4 790.7H2882.9V1196.1H2861.4zM2766.1 1218.4H2787.6V1656.5H2766.1zM2861.4 1215.4H2882.9V1653.4H2861.4zM2824.1 1666.9a7.7 7.7 0 1 0 15.4 0a7.7 7.7 0 1 0 -15.4 0zM2939 1638.8H3006.2V1680.3H2939zM3549.3 671.5a8.8 8.8 0 1 0 17.6 0a8.8 8.8 0 1 0 -17.6 0zM3578.4 671.5a8.8 8.8 0 1 0 17.6 0a8.8 8.8 0 1 0 -17.6 0zM3701.4 671.5a8.8 8.8 0 1 0 17.6 0a8.8 8.8 0 1 0 -17.6 0zM3730.9 671.5a8.8 8.8 0 1 0 17.6 0a8.8 8.8 0 1 0 -17.6 0zM3595.6 685.2a7.7 7.7 0 1 0 15.4 0a7.7 7.7 0 1 0 -15.4 0zM3621.9 685.2a7.7 7.7 0 1 0 15.4 0a7.7 7.7 0 1 0 -15.4 0zM3648 685.2a7.7 7.7 0 1 0 15.4 0a7.7 7.7 0 1 0 -15.4 0zM3674 685.2a7.7 7.7 0 1 0 15.4 0a7.7 7.7 0 1 0 -15.4 0zM3608.2 699.7a7.7 7.7 0 1 0 15.4 0a7.7 7.7 0 1 0 -15.4 0zM3634.3 699.7a7.7 7.7 0 1 0 15.4 0a7.7 7.7 0 1 0 -15.4 0zM3660.8 699.7a7.7 7.7 0 1 0 15.4 0a7.7 7.7 0 1 0 -15.4 0zM3686.9 699.7a7.7 7.7 0 1 0 15.4 0a7.7 7.7 0 1 0 -15.4 0zM3813.8 671.5a8.8 8.8 0 1 0 17.6 0a8.8 8.8 0 1 0 -17.6 0zM3842.9 671.5a8.8 8.8 0 1 0 17.6 0a8.8 8.8 0 1 0 -17.6 0zM3965.9 671.5a8.8 8.8 0 1 0 17.6 0a8.8 8.8 0 1 0 -17.6 0zM3995.4 671.5a8.8 8.8 0 1 0 17.6 0a8.8 8.8 0 1 0 -17.6 0zM3860.1 685.2a7.7 7.7 0 1 0 15.4 0a7.7 7.7 0 1 0 -15.4 0zM3886.4 685.2a7.7 7.7 0 1 0 15.4 0a7.7 7.7 0 1 0 -15.4 0zM3912.5 685.2a7.7 7.7 0 1 0 15.4 0a7.7 7.7 0 1 0 -15.4 0zM3938.5 685.2a7.7 7.7 0 1 0 15.4 0a7.7 7.7 0 1 0 -15.4 0zM3872.7 699.7a7.7 7.7 0 1 0 15.4 0a7.7 7.7 0 1 0 -15.4 0zM3898.8 699.7a7.7 7.7 0 1 0 15.4 0a7.7 7.7 0 1 0 -15.4 0zM3925.3 699.7a7.7 7.7 0 1 0 15.4 0a7.7 7.7 0 1 0 -15.4 0zM3951.4 699.7a7.7 7.7 0 1 0 15.4 0a7.7 7.7 0 1 0 -15.4 0zM4078.3 671.5a8.8 8.8 0 1 0 17.6 0a8.8 8.8 0 1 0 -17.6 0zM4107.4 671.5a8.8 8.8 0 1 0 17.6 0a8.8 8.8 0 1 0 -17.6 0zM4230.4 671.5a8.8 8.8 0 1 0 17.6 0a8.8 8.8 0 1 0 -17.6 0zM4259.9 671.5a8.8 8.8 0 1 0 17.6 0a8.8 8.8 0 1 0 -17.6 0zM4124.6 685.2a7.7 7.7 0 1 0 15.4 0a7.7 7.7 0 1 0 -15.4 0zM4150.9 685.2a7.7 7.7 0 1 0 15.4 0a7.7 7.7 0 1 0 -15.4 0zM4177 685.2a7.7 7.7 0 1 0 15.4 0a7.7 7.7 0 1 0 -15.4 0zM4203 685.2a7.7 7.7 0 1 0 15.4 0a7.7 7.7 0 1 0 -15.4 0zM4137.2 699.7a7.7 7.7 0 1 0 15.4 0a7.7 7.7 0 1 0 -15.4 0zM4163.3 699.7a7.7 7.7 0 1 0 15.4 0a7.7 7.7 0 1 0 -15.4 0zM4189.8 699.7a7.7 7.7 0 1 0 15.4 0a7.7 7.7 0 1 0 -15.4 0zM4215.9 699.7a7.7 7.7 0 1 0 15.4 0a7.7 7.7 0 1 0 -15.4 0zM4342.8 671.5a8.8 8.8 0 1 0 17.6 0a8.8 8.8 0 1 0 -17.6 0zM4371.9 671.5a8.8 8.8 0 1 0 17.6 0a8.8 8.8 0 1 0 -17.6 0zM4494.9 671.5a8.8 8.8 0 1 0 17.6 0a8.8 8.8 0 1 0 -17.6 0zM4524.4 671.5a8.8 8.8 0 1 0 17.6 0a8.8 8.8 0 1 0 -17.6 0zM4389.1 685.2a7.7 7.7 0 1 0 15.4 0a7.7 7.7 0 1 0 -15.4 0zM4415.4 685.2a7.7 7.7 0 1 0 15.4 0a7.7 7.7 0 1 0 -15.4 0zM4441.5 685.2a7.7 7.7 0 1 0 15.4 0a7.7 7.7 0 1 0 -15.4 0zM4467.5 685.2a7.7 7.7 0 1 0 15.4 0a7.7 7.7 0 1 0 -15.4 0zM4401.7 699.7a7.7 7.7 0 1 0 15.4 0a7.7 7.7 0 1 0 -15.4 0zM4427.8 699.7a7.7 7.7 0 1 0 15.4 0a7.7 7.7 0 1 0 -15.4 0zM4454.3 699.7a7.7 7.7 0 1 0 15.4 0a7.7 7.7 0 1 0 -15.4 0zM4480.4 699.7a7.7 7.7 0 1 0 15.4 0a7.7 7.7 0 1 0 -15.4 0zM3742.6 591.1a9.4 9.4 0 0 1 18.7 0V614.1a9.4 9.4 0 0 1 -18.7 0zM3800.5 591.1a9.4 9.4 0 0 1 18.7 0V614.1a9.4 9.4 0 0 1 -18.7 0zM4007.1 591.1a9.4 9.4 0 0 1 18.7 0V614.1a9.4 9.4 0 0 1 -18.7 0zM4065 591.1a9.4 9.4 0 0 1 18.7 0V614.1a9.4 9.4 0 0 1 -18.7 0zM4271.6 591.1a9.4 9.4 0 0 1 18.7 0V614.1a9.4 9.4 0 0 1 -18.7 0zM4329.5 591.1a9.4 9.4 0 0 1 18.7 0V614.1a9.4 9.4 0 0 1 -18.7 0zM4535.1 592.1a9.6 9.6 0 0 1 19.2 0V613.4a9.6 9.6 0 0 1 -19.2 0zM3536.2 591.5a9.3 9.3 0 0 1 18.6 0V614a9.3 9.3 0 0 1 -18.6 0zM3467.1 555.9a10.7 10.7 0 0 1 21.4 0V560a10.7 10.7 0 0 1 -21.4 0zM3447.1 634.4a11.1 11.1 0 0 1 22.2 0V649.2a11.1 11.1 0 0 1 -22.2 0zM3406.8 679.5H3415.1V686.9H3406.8zM3406.8 689.8H3415.1V697.3H3406.8zM3426.6 674H3432.3V683H3426.6zM3419.7 702.7H3427.3V710.4H3419.7zM3430.2 702.7H3437.8V710.4H3430.2zM3418.4 717H3424.1V726H3418.4zM3413.2 745.8H3420.6V753.4H3413.2zM3423.5 745.8H3431V753.4H3423.5zM3537 725.5H3544.4V733.2H3537zM3547.3 725.5H3554.8V733.2H3547.3zM3523.3 738.9L3571.2 738.9L3571.2 754.2L3559.2 754.2L3559.2 765.2L3534.8 765.2L3534.8 754.2L3523.3 754.2zM3534.8 784.9L3559.2 784.9L3559.2 796.4L3571.2 796.4L3571.2 811.8L3523.3 811.8L3523.3 796.4L3534.8 796.4zM3736.4 748.8L3783.6 748.8L3783.6 764.1L3771.5 764.1L3771.5 775.1L3747.9 775.1L3747.9 764.1L3736.4 764.1zM3747.9 795.1L3771.5 795.1L3771.5 806.6L3783.6 806.6L3783.6 821.9L3736.4 821.9L3736.4 806.6L3747.9 806.6zM3585.5 725.5H3602.7V742.5H3585.5zM3585.5 753.4H3602.7V769.9H3585.5zM3624.7 725.5H3641.9V742.5H3624.7zM3624.7 753.4H3641.9V769.9H3624.7zM3659.5 725.5H3676.7V742.5H3659.5zM3659.5 753.4H3676.7V769.9H3659.5zM3700 725.5H3717.3V742.5H3700zM3700 753.4H3717.3V769.9H3700zM3791.8 718.4H3808.8V735.1H3791.8zM3791.8 745.8H3808.8V762.5H3791.8zM3831 718.4H3847.9V735.1H3831zM3831 745.8H3847.9V762.5H3831zM3869 718.4H3886V735.1H3869zM3869 745.8H3886V762.5H3869zM3906.8 718.4H3923.8V735.1H3906.8zM3906.8 745.8H3923.8V762.5H3906.8zM3764.4 735.1H3771.8V743.3H3764.4zM3774.7 735.1H3782.2V743.3H3774.7zM4070.7 748.8L4086.3 748.8L4086.3 760.8L4097.3 760.8L4097.3 783.6L4086.3 783.6L4086.3 795.3L4070.7 795.3zM3487.1 820.5H3495.1V828H3487.1zM3487.1 830.9H3495.1V838.4H3487.1zM3500.8 820.5H3508.8V828H3500.8zM3500.8 830.9H3508.8V838.4H3500.8zM3514.5 820.5H3522.5V828H3514.5zM3514.5 830.9H3522.5V838.4H3514.5zM3528.2 820.5H3536.2V828H3528.2zM3528.2 830.9H3536.2V838.4H3528.2zM3485.8 850.1a4.9 4.9 0 0 1 9.7 0V863.6a4.9 4.9 0 0 1 -9.7 0zM3502.6 850.1a4.9 4.9 0 0 1 9.8 0V863.6a4.9 4.9 0 0 1 -9.8 0zM3519.4 850.1a4.9 4.9 0 0 1 9.8 0V863.6a4.9 4.9 0 0 1 -9.8 0zM3536.3 850.1a4.9 4.9 0 0 1 9.7 0V863.6a4.9 4.9 0 0 1 -9.7 0zM3741.9 827.9H3755.9V840.3H3741.9zM3741.9 845.1H3755.9V857.5H3741.9zM3761.4 827.9H3775.3V840.3H3761.4zM3761.4 845.1H3775.3V857.5H3761.4zM3783.6 847.9H3797.8V859.5H3783.6zM3803.6 847.9H3817.8V859.5H3803.6zM3734.2 862.2H3741.9V870.4H3734.2zM3744.9 862.2H3752.6V870.4H3744.9zM3734.2 877.3H3741.9V884.9H3734.2zM3744.9 877.3H3752.6V884.9H3744.9zM3773.2 865.8H3802.7V886.8H3773.2zM4051.5 810.4H4065.5V822.6H4051.5zM4051.5 827.9H4065.5V840.1H4051.5zM4051.5 845.3H4065.5V857.5H4051.5zM4070.9 810.4H4084.9V822.6H4070.9zM4070.9 827.9H4084.9V840.1H4070.9zM4070.9 845.3H4084.9V857.5H4070.9zM3994.5 854.2H4002.2V863.7H3994.5zM3994.5 867.3H4002.2V876.7H3994.5zM4005.2 854.2H4012.9V863.7H4005.2zM4005.2 867.3H4012.9V876.7H4005.2zM4033.7 863.6H4063V883.6H4033.7zM4303.3 567.7a6.8 6.8 0 1 0 13.6 0a6.8 6.8 0 1 0 -13.6 0zM4149.3 732.9H4165.8V749.3H4149.3zM4149.3 760.3H4165.8V776.7H4149.3zM4188.2 732.9H4204.7V749.3H4188.2zM4188.2 760.3H4204.7V776.7H4188.2zM4226 732.9H4242.5V749.3H4226zM4226 760.3H4242.5V776.7H4226zM4265.2 732.9H4281.6V749.3H4265.2zM4265.2 760.3H4281.6V776.7H4265.2zM4413.2 732.9H4429.9V749.9H4413.2zM4413.2 760.8H4429.9V777.3H4413.2zM4452.1 732.9H4468.8V749.9H4452.1zM4452.1 760.8H4468.8V777.3H4452.1zM4491.2 732.9H4507.9V749.9H4491.2zM4491.2 760.8H4507.9V777.3H4491.2zM4527.4 732.9H4544.1V749.9H4527.4zM4527.4 760.8H4544.1V777.3H4527.4zM4124.7 737H4132.1V745.2H4124.7zM4135 737H4142.5V745.2H4135zM4129.6 749.3L4143.8 749.3L4143.8 795.9L4129.6 795.9L4129.6 783.6L4117.3 783.6L4117.3 760.8L4129.6 760.8zM4582.7 709.6H4594.5V723.3H4582.7zM4582.7 729.6H4594.5V743.3H4582.7zM4608.8 722.5H4617.7V730H4608.8zM4608.8 733H4617.7V740.5H4608.8zM4621.2 722.5H4630.1V730H4621.2zM4621.2 733H4630.1V740.5H4621.2zM4584.9 749.9H4595.1V763.6H4584.9zM4609.6 749.9H4619.7V763.6H4609.6zM4628.2 755.3H4637V762.8H4628.2zM4628.2 765.7H4637V773.2H4628.2zM4584.9 783H4595.6V797.3H4584.9zM4597 783H4607.6V797.3H4597zM4609.1 783H4619.7V797.3H4609.1zM4574.5 804.7H4596.4V812.9H4574.5zM4574.5 823.3H4596.4V831.5H4574.5zM4600.8 811.5H4608.5V819H4600.8zM4600.8 821.9H4608.5V829.3H4600.8zM4614.1 811.5H4621.8V819H4614.1zM4614.1 821.9H4621.8V829.3H4614.1zM4627.4 811.5H4635.1V819H4627.4zM4627.4 821.9H4635.1V829.3H4627.4zM4109.6 815.1H4117.8V822.8H4109.6zM4109.6 825.7H4117.8V833.4H4109.6zM4123.3 811H4131.5V818.4H4123.3zM4123.3 821.3H4131.5V828.8H4123.3zM4136.4 804.1H4147.9V817.8H4136.4zM4136.4 824.7H4147.9V838.4H4136.4zM4118.4 839.7H4128.8V853.4H4118.4zM4093.2 839.7H4104.1V853.4H4093.2zM4094.5 815.1H4102.7V822.8H4094.5zM4094.5 825.7H4102.7V833.4H4094.5zM4094.5 872.6H4105V886.3H4094.5zM4106.4 872.6H4116.9V886.3H4106.4zM4118.3 872.6H4128.8V886.3H4118.3zM4340.3 860.3H4352.1V874H4340.3zM4340.3 880H4352.1V893.7H4340.3zM4117.8 894.2H4126V901.7H4117.8zM4117.8 904.6H4126V912.1H4117.8zM4131 894.2H4142.5V907.9H4131zM4131 914.2H4142.5V927.9H4131zM4104.1 919.5H4112.3V926.7H4104.1zM4104.1 929.5H4112.3V936.7H4104.1zM4093.2 894.2H4101.4V901.7H4093.2zM4093.2 904.6H4101.4V912.1H4093.2zM4225.5 914H4233.5V921.4H4225.5zM4225.5 924.3H4233.5V931.8H4225.5zM4239.3 914H4247.3V921.4H4239.3zM4239.3 924.3H4247.3V931.8H4239.3zM4253.1 914H4261.1V921.4H4253.1zM4253.1 924.3H4261.1V931.8H4253.1zM4265.2 924.4H4278.9V934H4265.2zM4265.2 949H4278.9V958.6H4265.2zM4237.8 964.9H4251.5V975.9H4237.8zM4257.5 964.9H4271.2V975.9H4257.5zM4297.8 900.3H4306.8V907.7H4297.8zM4297.8 910.6H4306.8V918.1H4297.8zM4310.2 900.3H4319.2V907.7H4310.2zM4310.2 910.6H4319.2V918.1H4310.2zM4298.6 924.4H4311.8V934H4298.6zM4298.6 938.1H4311.8V946.3H4298.6zM4298.6 949H4311.8V958.6H4298.6zM4300 964.9H4320.5V973.2H4300zM4300 983.3H4320.5V991.5H4300zM4286.3 973.7H4294.5V981.2H4286.3zM4286.3 984.1H4294.5V991.5H4286.3zM4342.5 900.5H4352.6V914.2H4342.5zM4367.1 900.5H4377.3V914.2H4367.1zM4384.9 891H4392.7V899H4384.9zM4384.9 904.3H4392.7V912.4H4384.9zM4384.9 917.7H4392.7V925.8H4384.9zM4395.8 891H4403.6V899H4395.8zM4395.8 904.3H4403.6V912.4H4395.8zM4395.8 917.7H4403.6V925.8H4395.8zM4342.5 933.4H4353.1V947.7H4342.5zM4354.5 933.4H4365.2V947.7H4354.5zM4366.6 933.4H4377.3V947.7H4366.6zM4333.7 955.1H4354.8V963.3H4333.7zM4333.7 973.7H4354.8V981.9H4333.7zM4361.1 962.7H4369.9V970.2H4361.1zM4361.1 973.1H4369.9V980.5H4361.1zM4384.9 947.7H4392.7V956.6H4384.9zM4384.9 960.1H4392.7V969H4384.9zM4395.8 947.7H4403.6V956.6H4395.8zM4395.8 960.1H4403.6V969H4395.8zM4374.5 979.7H4382.7V987.2H4374.5zM4374.5 990.1H4382.7V997.5H4374.5zM4392.3 977H4398.1V986H4392.3zM4384.9 1005.8H4392.4V1013.4H4384.9zM4395.3 1005.8H4402.7V1013.4H4395.3zM4411 971.8H4426.8V985.2H4411zM4439.2 958.6H4455.3V972.3H4439.2zM4439.2 984.7H4455.3V998.4H4439.2zM4458.9 966H4466.6V973.8H4458.9zM4458.9 976.9H4466.6V984.7H4458.9zM4472.2 966H4479.9V973.8H4472.2zM4472.2 976.9H4479.9V984.7H4472.2zM4485.5 966H4493.2V973.8H4485.5zM4485.5 976.9H4493.2V984.7H4485.5zM4633.4 886.6H4641.6V894H4633.4zM4633.4 896.9H4641.6V904.4H4633.4zM4620.5 914H4629.5V921.4H4620.5zM4620.5 924.3H4629.5V931.8H4620.5zM4633 914H4641.9V921.4H4633zM4633 924.3H4641.9V931.8H4633zM4576.7 997H4584.9V1004.4H4576.7zM4576.7 1007.3H4584.9V1014.8H4576.7zM4589.6 986H4601.9V1000.1H4589.6zM4589.6 1005.6H4601.9V1019.7H4589.6zM4607.1 986H4619.4V1000.1H4607.1zM4607.1 1005.6H4619.4V1019.7H4607.1zM4624.7 986H4637V1000.1H4624.7zM4624.7 1005.6H4637V1019.7H4624.7zM4562.2 1036.7H4584.1V1050.4H4562.2zM4622.5 1036.7H4644.4V1050.4H4622.5zM4562.2 1062.2H4584.1V1075.9H4562.2zM4622.5 1062.2H4644.4V1075.9H4622.5zM4618.6 1094.8H4628.3V1102.6H4618.6zM4618.6 1105.6H4628.3V1113.4H4618.6zM4632 1094.8H4641.6V1102.6H4632zM4632 1105.6H4641.6V1113.4H4632zM4563 1097.8H4578.9V1115.6H4563zM4584.9 1097.8H4600.5V1115.6H4584.9zM4563 1125.8H4578.9V1143.6H4563zM4584.9 1125.8H4600.5V1143.6H4584.9zM4549.3 1099.2H4558.1V1106.6H4549.3zM4549.3 1109.5H4558.1V1117H4549.3zM4549.3 1123.8H4558.1V1131.3H4549.3zM4549.3 1134.2H4558.1V1141.6H4549.3zM4532.3 1121.6H4543.3V1135.3H4532.3zM4519.2 1128.5H4527.4V1135.9H4519.2zM4519.2 1138.8H4527.4V1146.3H4519.2zM4520 1028.5H4532.9V1039.5H4520zM4540.8 1028.5H4553.7V1039.5H4540.8zM4532.9 1031.8H4540.8V1036.2H4532.9zM4520 1044.9H4533.7V1056.4H4520zM4539.2 1044.9H4553.4V1056.4H4539.2zM4520 1060.8H4532.9V1072.9H4520zM4540.8 1060.8H4553.7V1072.9H4540.8zM4532.9 1064.4H4540.8V1069.3H4532.9zM4520 1077.8H4527.5V1085.8H4520zM4520 1089H4527.5V1097H4520zM4530.4 1077.8H4537.8V1085.8H4530.4zM4530.4 1089H4537.8V1097H4530.4zM4480.3 1042.2H4487.6V1050H4480.3zM4480.3 1053H4487.6V1060.8H4480.3zM4490.5 1042.2H4497.8V1050H4490.5zM4490.5 1053H4497.8V1060.8H4490.5zM4479.5 1077.8H4487.7V1085.3H4479.5zM4479.5 1088.2H4487.7V1095.6H4479.5zM4491.8 1100.5H4499.5V1108.8H4491.8zM4502.5 1100.5H4510.1V1108.8H4502.5zM4502.7 1114.8H4510.4V1123H4502.7zM4513.4 1114.8H4521.1V1123H4513.4zM4466.3 1127.1H4473.9V1135.3H4466.3zM4476.8 1127.1H4484.4V1135.3H4476.8zM4451.5 1047.7H4458.8V1055.3H4451.5zM4451.5 1060.3H4458.8V1067.9H4451.5zM4451.5 1073H4458.8V1080.5H4451.5zM4461.7 1047.7H4469V1055.3H4461.7zM4461.7 1060.3H4469V1067.9H4461.7zM4461.7 1073H4469V1080.5H4461.7zM4437.5 1084.1H4451.5V1095.1H4437.5zM4457.5 1084.1H4471.2V1095.1H4457.5zM4445.8 1102.5H4457V1116.2H4445.8zM4445.8 1122.5H4457V1136.2H4445.8zM4448.5 1116.7H4454.8V1122.2H4448.5zM4430.7 1007.4H4441.9V1021.1H4430.7zM4448.5 1007.4H4459.7V1021.1H4448.5zM4430.7 1027.9H4441.9V1041.4H4430.7zM4448.5 1027.9H4459.7V1041.4H4448.5zM4433.4 1021.6H4439.7V1027.7H4433.4zM4467.1 1009.3H4480V1020.3H4467.1zM4487.7 1009.3H4500.5V1020.3H4487.7zM4480 1012.6H4487.7V1017H4480zM4467.1 1025.2H4480.8V1036.2H4467.1zM4486.8 1025.2H4500.5V1036.2H4486.8zM4371.2 1024.4H4380.6V1031.8H4371.2zM4371.2 1034.7H4380.6V1042.2H4371.2zM4384.3 1024.4H4393.7V1031.8H4384.3zM4384.3 1034.7H4393.7V1042.2H4384.3zM4402.2 1025.8H4411V1033.2H4402.2zM4402.2 1036.1H4411V1043.6H4402.2zM4368.5 1053.4a4.9 4.9 0 0 1 9.8 0V1067.4a4.9 4.9 0 0 1 -9.8 0zM4385.3 1053.4a4.9 4.9 0 0 1 9.8 0V1067.4a4.9 4.9 0 0 1 -9.8 0zM4402.2 1053.3a4.9 4.9 0 0 1 9.7 0V1067.5a4.9 4.9 0 0 1 -9.7 0zM4419 1053.4a4.9 4.9 0 0 1 9.8 0V1067.4a4.9 4.9 0 0 1 -9.8 0zM4368.5 1125.2a4.9 4.9 0 0 1 9.8 0V1174.3a4.9 4.9 0 0 1 -9.8 0zM4385.3 1125.2a4.9 4.9 0 0 1 9.8 0V1174.3a4.9 4.9 0 0 1 -9.8 0zM4402.2 1125.1a4.9 4.9 0 0 1 9.7 0V1174.4a4.9 4.9 0 0 1 -9.7 0zM4419 1125.2a4.9 4.9 0 0 1 9.8 0V1174.3a4.9 4.9 0 0 1 -9.8 0zM4106 977.8H4117.8V991.5H4106zM4106 998.4H4117.8V1011.5H4106zM4124.7 989.6H4135.6V1003.3H4124.7zM4124.7 1009.3H4135.6V1023H4124.7zM4152.1 988.8H4159.5V997H4152.1zM4162.4 988.8H4169.9V997H4162.4zM4145.2 1017H4152.7V1024.9H4145.2zM4155.6 1017H4163V1024.9H4155.6zM4171.8 1017H4179.2V1025.8H4171.8zM4171.8 1029.3H4179.2V1038.1H4171.8zM4182.1 1017H4189.6V1025.8H4182.1zM4182.1 1029.3H4189.6V1038.1H4182.1zM4129.6 1031.2H4140.3V1044.9H4129.6zM4154.2 1031.2H4164.9V1044.9H4154.2zM4129.6 1064.7H4140.2V1078.4H4129.6zM4141.7 1064.7H4152.3V1078.4H4141.7zM4153.8 1064.7H4164.4V1078.4H4153.8zM4122.7 1082.7H4143.8V1091H4122.7zM4122.7 1101.1H4143.8V1109.3H4122.7zM4161.6 1082.7H4169.3V1091H4161.6zM4172.3 1082.7H4180V1091H4172.3zM4161.6 1095.6H4169.3V1103.8H4161.6zM4172.3 1095.6H4180V1103.8H4172.3zM4161.6 1108.5H4167.1V1117H4161.6zM4177.5 1110.7H4186.3V1118.1H4177.5zM4177.5 1121H4186.3V1128.5H4177.5zM4112.3 1113.4H4120V1121.6H4112.3zM4123 1113.4H4130.7V1121.6H4123zM4168.5 1136.7H4176.2V1144.9H4168.5zM4179.2 1136.7H4186.8V1144.9H4179.2zM4232.9 1020.3H4245.8V1031.2H4232.9zM4253.7 1020.3H4266.6V1031.2H4253.7zM4245.8 1023.6H4253.7V1027.9H4245.8zM4233.4 1039.5H4247.1V1050.4H4233.4zM4253.4 1039.5H4267.1V1050.4H4253.4zM4275.9 1018.9H4288.8V1029.9H4275.9zM4296.7 1018.9H4309.6V1029.9H4296.7zM4288.8 1022.2H4296.7V1026.6H4288.8zM4275.9 1036.2H4289.6V1047.1H4275.9zM4295.9 1036.2H4309.6V1047.1H4295.9zM4321.4 1012.1H4335.1V1023H4321.4zM4341.1 1012.1H4354.8V1023H4341.1zM4321.4 1029.9H4334.2V1040.8H4321.4zM4342.2 1029.9H4355.1V1040.8H4342.2zM4334.2 1033.2H4342.2V1037.5H4334.2zM4321.4 1048.5H4335.1V1059.5H4321.4zM4341.1 1048.5H4354.8V1059.5H4341.1zM4245.2 1057.8H4252.9V1065.6H4245.2zM4245.2 1070.8H4252.9V1078.5H4245.2zM4245.2 1083.7H4252.9V1091.5H4245.2zM4255.9 1057.8H4263.6V1065.6H4255.9zM4255.9 1070.8H4263.6V1078.5H4255.9zM4255.9 1083.7H4263.6V1091.5H4255.9zM4289.9 1052.6H4297.5V1060.6H4289.9zM4289.9 1063.8H4297.5V1071.8H4289.9zM4300.5 1052.6H4308.2V1060.6H4300.5zM4300.5 1063.8H4308.2V1071.8H4300.5zM4286.8 1077.8H4295.1V1085.3H4286.8zM4286.8 1088.2H4295.1V1095.6H4286.8zM4324.7 1064.9H4332.1V1073H4324.7zM4324.7 1076.1H4332.1V1084.1H4324.7zM4335 1064.9H4342.5V1073H4335zM4335 1076.1H4342.5V1084.1H4335zM4231 1097.8H4244.7V1108.8H4231zM4250.7 1097.8H4264.9V1108.8H4250.7zM4231 1114.8H4243.8V1126.3H4231zM4252.1 1114.8H4264.9V1126.3H4252.1zM4243.8 1118.2H4252.1V1122.8H4243.8zM4297.8 1100.5H4305.3V1108.8H4297.8zM4308.2 1100.5H4315.6V1108.8H4308.2zM4307.4 1114H4314.9V1122.2H4307.4zM4317.8 1114H4325.2V1122.2H4317.8zM4278.1 1127.9H4285.8V1136.2H4278.1zM4288.8 1127.9H4296.4V1136.2H4288.8zM4333.4 1134H4345.2V1146.8H4333.4zM3558.1 881.5H3573.6V901.3H3558.1zM3558.1 909.1H3573.6V928.9H3558.1zM3579.6 881.5H3595.1V901.3H3579.6zM3579.6 909.1H3595.1V928.9H3579.6zM3600.8 883.2H3609V890.6H3600.8zM3600.8 893.5H3609V901H3600.8zM3600.8 909.7H3609V917.2H3600.8zM3600.8 920.1H3609V927.5H3600.8zM3486.3 920.9a4.9 4.9 0 0 1 9.7 0V970.6a4.9 4.9 0 0 1 -9.7 0zM3503 920.9a4.9 4.9 0 0 1 9.7 0V970.6a4.9 4.9 0 0 1 -9.7 0zM3519.7 920.8a4.8 4.8 0 0 1 9.6 0V970.7a4.8 4.8 0 0 1 -9.6 0zM3536.4 920.8a4.8 4.8 0 0 1 9.6 0V970.7a4.8 4.8 0 0 1 -9.6 0zM3469.3 954.4H3478.1V961.8H3469.3zM3469.3 964.7H3478.1V972.2H3469.3zM3552.7 957.1a6.8 6.8 0 1 0 13.6 0a6.8 6.8 0 1 0 -13.6 0zM3576.8 957.1a6.8 6.8 0 1 0 13.6 0a6.8 6.8 0 1 0 -13.6 0zM3565 987.3a6.8 6.8 0 1 0 13.6 0a6.8 6.8 0 1 0 -13.6 0zM3596.7 949.5H3604.2V958.4H3596.7zM3596.7 961.9H3604.2V970.8H3596.7zM3607.1 949.5H3614.5V958.4H3607.1zM3607.1 961.9H3614.5V970.8H3607.1zM3488.2 978.8H3495.8V987H3488.2zM3498.7 978.8H3506.3V987H3498.7zM3519.7 980.1H3527.9V987.6H3519.7zM3519.7 990.5H3527.9V997.9H3519.7zM3537 980.1H3545.2V987.6H3537zM3537 990.5H3545.2V997.9H3537zM3637 899.6H3706.3V968.1H3637zM3901.9 899.6H3971.2V968.1H3901.9zM3773.2 907H3802.7V927H3773.2zM3823.8 884.2H3839.3V904.1H3823.8zM3823.8 911.8H3839.3V931.6H3823.8zM3845.3 884.2H3860.8V904.1H3845.3zM3845.3 911.8H3860.8V931.6H3845.3zM3867.1 886.4H3875.3V893.9H3867.1zM3867.1 896.8H3875.3V904.2H3867.1zM3867.1 911.6H3875.3V919.1H3867.1zM3867.1 922H3875.3V929.5H3867.1zM3743.3 936.6H3750.7V944.6H3743.3zM3743.3 950H3750.7V958H3743.3zM3743.3 963.3H3750.7V971.4H3743.3zM3753.6 936.6H3761.1V944.6H3753.6zM3753.6 950H3761.1V958H3753.6zM3753.6 963.3H3761.1V971.4H3753.6zM3774 938.5H3782.2V945.9H3774zM3774 948.8H3782.2V956.3H3774zM3858.1 951.6H3865.7V961.4H3858.1zM3858.1 965.2H3865.7V974.9H3858.1zM3868.6 951.6H3876.2V961.4H3868.6zM3868.6 965.2H3876.2V974.9H3868.6zM4006.3 931.6H4014V939.9H4006.3zM4006.3 945.3H4014V953.6H4006.3zM4006.3 959H4014V967.3H4006.3zM4017 931.6H4024.7V939.9H4017zM4017 945.3H4024.7V953.6H4017zM4017 959H4024.7V967.3H4017zM4033.7 948.1H4041.4V956.3H4033.7zM4044.4 948.1H4052.1V956.3H4044.4zM4033.7 905.6H4063V925.3H4033.7zM3616.4 996.6H3624.6V1004.4H3616.4zM3616.4 1007.4H3624.6V1015.2H3616.4zM3630.4 996.6H3638.6V1004.4H3630.4zM3630.4 1007.4H3638.6V1015.2H3630.4zM3644.4 996.6H3652.6V1004.4H3644.4zM3644.4 1007.4H3652.6V1015.2H3644.4zM3658.5 996.6H3666.6V1004.4H3658.5zM3658.5 1007.4H3666.6V1015.2H3658.5zM3674 999.3H3682.2V1007.1H3674zM3674 1010.1H3682.2V1017.9H3674zM3719.2 995.5H3727.9V1002.9H3719.2zM3719.2 1005.8H3727.9V1013.3H3719.2zM3884.9 996.6H3892.7V1004.4H3884.9zM3884.9 1007.4H3892.7V1015.2H3884.9zM3898.3 996.6H3906.1V1004.4H3898.3zM3898.3 1007.4H3906.1V1015.2H3898.3zM3911.7 996.6H3919.5V1004.4H3911.7zM3911.7 1007.4H3919.5V1015.2H3911.7zM3925.1 996.6H3932.9V1004.4H3925.1zM3925.1 1007.4H3932.9V1015.2H3925.1zM3943 998.2H3951.2V1005.7H3943zM3943 1008.6H3951.2V1016H3943zM3406.8 1026.2H3418.6V1039.9H3406.8zM3406.8 1046.7H3418.6V1059.9H3406.8zM3424.7 1031.1H3432.1V1038.8H3424.7zM3435 1031.1H3442.5V1038.8H3435zM3481.4 1028.4H3489.6V1035.8H3481.4zM3481.4 1038.7H3489.6V1046.2H3481.4zM3602.2 1030.8H3613.7V1044.5H3602.2zM3602.2 1050.8H3613.7V1064H3602.2zM3644.7 1050.8H3656.2V1064.5H3644.7zM3644.7 1070.8H3656.2V1084.5H3644.7zM3529.3 1059H3540.5V1072.7H3529.3zM3529.3 1079H3540.5V1092.7H3529.3zM3591.8 1077.4H3603.3V1091.1H3591.8zM3591.8 1097.4H3603.3V1111.1H3591.8zM3551.5 1089.2H3565.7V1102.7H3551.5zM3551.5 1109.1H3565.7V1122.7H3551.5zM3551.5 1129H3565.7V1142.6H3551.5zM3571.3 1089.2H3585.5V1102.7H3571.3zM3571.3 1109.1H3585.5V1122.7H3571.3zM3571.3 1129H3585.5V1142.6H3571.3zM3506.3 1141.8H3520V1152.7H3506.3zM3526 1141.8H3540.3V1152.7H3526zM3595.3 1135.2H3609.6V1147.8H3595.3zM3595.3 1152.7H3609.6V1165.3H3595.3zM3615.1 1135.2H3629.3V1147.8H3615.1zM3615.1 1152.7H3629.3V1165.3H3615.1zM3615.9 1172.7H3627.4V1186.4H3615.9zM3615.9 1192.7H3627.4V1206.2H3615.9zM3542.5 1161.8H3553.5V1176.1H3542.5zM3542.5 1181.7H3553.5V1196H3542.5zM3560.2 1161.8H3571.3V1176.1H3560.2zM3560.2 1181.7H3571.3V1196H3560.2zM3578 1161.8H3589V1176.1H3578zM3578 1181.7H3589V1196H3578zM3500.5 1189.2H3514.7V1201.4H3500.5zM3500.5 1206.2H3514.7V1218.5H3500.5zM3520.1 1189.2H3534.2V1201.4H3520.1zM3520.1 1206.2H3534.2V1218.5H3520.1zM3502.7 1229.5H3516.4V1240.4H3502.7zM3522.5 1229.5H3536.2V1240.4H3522.5zM3561.6 1228.4H3573.2V1242.1H3561.6zM3578.9 1228.4H3590.4V1242.1H3578.9zM3595.9 1220.7H3606.8V1234.4H3595.9zM3612.9 1220.7H3623.8V1234.4H3612.9zM3634.2 1219.9H3645.8V1233.6H3634.2zM3663 1226.2H3674.5V1239.9H3663zM3595.9 1240.4H3606.8V1253.6H3595.9zM3612.9 1240.4H3623.8V1253.6H3612.9zM3634.2 1239.9H3645.8V1253.6H3634.2zM3663 1245.9H3674.5V1259H3663zM3833.7 1038.5H3845.7V1052.8H3833.7zM3833.7 1058.4H3845.7V1072.7H3833.7zM3851.3 1038.5H3863.2V1052.8H3851.3zM3851.3 1058.4H3863.2V1072.7H3851.3zM3868.9 1038.5H3880.8V1052.8H3868.9zM3868.9 1058.4H3880.8V1072.7H3868.9zM3822.7 1136.6H3834.7V1151.1H3822.7zM3822.7 1156.8H3834.7V1171.4H3822.7zM3840.4 1136.6H3852.4V1151.1H3840.4zM3840.4 1156.8H3852.4V1171.4H3840.4zM3858 1136.6H3870V1151.1H3858zM3858 1156.8H3870V1171.4H3858zM3875.7 1136.6H3887.7V1151.1H3875.7zM3875.7 1156.8H3887.7V1171.4H3875.7zM4055.6 1221.2H4063.8V1228.7H4055.6zM4055.6 1231.6H4063.8V1239H4055.6zM3561.6 1248.2H3573.2V1261.9H3561.6zM3578.9 1248.2H3590.4V1261.9H3578.9zM3401.4 1255.1H3410.5V1262.3H3401.4zM3401.4 1265.1H3410.5V1272.3H3401.4zM3414.1 1255.1H3423.3V1262.3H3414.1zM3414.1 1265.1H3423.3V1272.3H3414.1zM3441.6 1255.1H3449.3V1262.3H3441.6zM3441.6 1265.1H3449.3V1272.3H3441.6zM3454.9 1255.1H3462.6V1262.3H3454.9zM3454.9 1265.1H3462.6V1272.3H3454.9zM3468.1 1255.1H3475.8V1262.3H3468.1zM3468.1 1265.1H3475.8V1272.3H3468.1zM3481.4 1255.1H3489V1262.3H3481.4zM3481.4 1265.1H3489V1272.3H3481.4zM3428.8 1269.6H3437V1277H3428.8zM3428.8 1279.9H3437V1287.4H3428.8zM3627.9 1260.5H3635.4V1268.2H3627.9zM3638.3 1260.5H3645.8V1268.2H3638.3zM3682.2 1258.6H3689.9V1267.8H3682.2zM3682.2 1271.4H3689.9V1280.5H3682.2zM3692.9 1258.6H3700.5V1267.8H3692.9zM3692.9 1271.4H3700.5V1280.5H3692.9zM3401.4 1294H3410.1V1301.4H3401.4zM3401.4 1304.3H3410.1V1311.8H3401.4zM3417.8 1294H3425.3V1302.9H3417.8zM3417.8 1306.4H3425.3V1315.3H3417.8zM3428.2 1294H3435.6V1302.9H3428.2zM3428.2 1306.4H3435.6V1315.3H3428.2zM3417.8 1325.5H3425.3V1333.2H3417.8zM3428.2 1325.5H3435.6V1333.2H3428.2zM3467.1 1290.7H3481.4V1301.6H3467.1zM3486.8 1290.7H3501.1V1301.6H3486.8zM3459.7 1313.4H3474V1324.4H3459.7zM3479.5 1313.4H3493.7V1324.4H3479.5zM3509.6 1284.4H3521.9V1298.5H3509.6zM3509.6 1304H3521.9V1318.1H3509.6zM3526.6 1284.4H3538.9V1298.5H3526.6zM3526.6 1304H3538.9V1318.1H3526.6zM3543.3 1300.3H3552.1V1307.7H3543.3zM3543.3 1310.6H3552.1V1318.1H3543.3zM3611.8 1306.6H3626V1317.5H3611.8zM3632.1 1306.6H3645.8V1317.5H3632.1zM3644.7 1287.9H3652.3V1296.2H3644.7zM3655.3 1287.9H3663V1296.2H3655.3zM3671.2 1294H3679.1V1301.4H3671.2zM3671.2 1304.3H3679.1V1311.8H3671.2zM3684.7 1294H3692.5V1301.4H3684.7zM3684.7 1304.3H3692.5V1311.8H3684.7zM3698.2 1294H3706V1301.4H3698.2zM3698.2 1304.3H3706V1311.8H3698.2zM3713.7 1309H3721.4V1317.1H3713.7zM3713.7 1322.5H3721.4V1330.6H3713.7zM3713.7 1335.9H3721.4V1344H3713.7zM3713.7 1349.4H3721.4V1357.5H3713.7zM3713.7 1362.9H3721.4V1370.9H3713.7zM3713.7 1376.3H3721.4V1384.4H3713.7zM3724.4 1309H3732.1V1317.1H3724.4zM3724.4 1322.5H3732.1V1330.6H3724.4zM3724.4 1335.9H3732.1V1344H3724.4zM3724.4 1349.4H3732.1V1357.5H3724.4zM3724.4 1362.9H3732.1V1370.9H3724.4zM3724.4 1376.3H3732.1V1384.4H3724.4zM3744.4 1313.4a4.1 4.1 0 1 0 8.2 0a4.1 4.1 0 1 0 -8.2 0zM3758.1 1322.7H3766.3V1330.2H3758.1zM3758.1 1333.1H3766.3V1340.5H3758.1zM3780.8 1295.6H3790V1303.1H3780.8zM3780.8 1306H3790V1313.4H3780.8zM3793.6 1295.6H3802.7V1303.1H3793.6zM3793.6 1306H3802.7V1313.4H3793.6zM3776.2 1334.5H3781.4V1342.7H3776.2zM3794 1334.5H3799.2V1342.7H3794zM3808.2 1272.3H3821.9V1282.5H3808.2zM3839.2 1272.3H3853.4V1282.5H3839.2zM3808.2 1292.1H3821.9V1302.2H3808.2zM3839.2 1292.1H3853.4V1302.2H3839.2zM3808.2 1313.4H3821.9V1323.6H3808.2zM3839.2 1313.4H3853.4V1323.6H3839.2zM3808.2 1340.8H3821.9V1351H3808.2zM3839.2 1340.8H3853.4V1351H3839.2zM3469 1342.7H3476.6V1350.4H3469zM3479.6 1342.7H3487.1V1350.4H3479.6zM3504.1 1357H3511.8V1364.7H3504.1zM3514.8 1357H3522.5V1364.7H3514.8zM3533.4 1342.7H3541.6V1350.2H3533.4zM3533.4 1353.1H3541.6V1360.5H3533.4zM3549.3 1347.7H3563.6V1358.6H3549.3zM3569 1347.7H3583.3V1358.6H3569zM3591 1347.7H3598.4V1355.9H3591zM3601.3 1347.7H3608.8V1355.9H3601.3zM3615.1 1342.7H3623.3V1350.2H3615.1zM3615.1 1353.1H3623.3V1360.5H3615.1zM3587.7 1366a4.1 4.1 0 1 0 8.2 0a4.1 4.1 0 1 0 -8.2 0zM3664.9 1357H3672.4V1364.7H3664.9zM3675.3 1357H3682.7V1364.7H3675.3zM3665.8 1394H3673.4V1401.6H3665.8zM3676.4 1394H3684.1V1401.6H3676.4zM3651.2 1409.3H3659.5V1416.8H3651.2zM3651.2 1419.7H3659.5V1427.1H3651.2zM3479.5 1371H3493.7V1381.9H3479.5zM3499.2 1371H3513.4V1381.9H3499.2zM3538.1 1381.9a4.1 4.1 0 1 0 8.2 0a4.1 4.1 0 1 0 -8.2 0zM3552.1 1379.7H3559.7V1387.9H3552.1zM3562.7 1379.7H3570.4V1387.9H3562.7zM3578.6 1378.4H3586.8V1385.8H3578.6zM3578.6 1388.7H3586.8V1396.2H3578.6zM3597.8 1375.6H3606V1383.1H3597.8zM3597.8 1386H3606V1393.4H3597.8zM3460.8 1388.8H3469V1396.2H3460.8zM3460.8 1399.1H3469V1406.6H3460.8zM3478.6 1387.9H3486.1V1395.6H3478.6zM3489 1387.9H3496.4V1395.6H3489zM3507.4 1394.8H3519.2V1407.9H3507.4zM3507.4 1414H3519.2V1427.7H3507.4zM3478.9 1413.2H3486.4V1420.8H3478.9zM3489.3 1413.2H3496.7V1420.8H3489.3zM3565.2 1415.3H3572.9V1423.5H3565.2zM3565.2 1429.4H3572.9V1437.5H3565.2zM3565.2 1443.4H3572.9V1451.5H3565.2zM3575.9 1415.3H3583.6V1423.5H3575.9zM3575.9 1429.4H3583.6V1437.5H3575.9zM3575.9 1443.4H3583.6V1451.5H3575.9zM3485.5 1447.4H3493.7V1454.9H3485.5zM3485.5 1457.8H3493.7V1465.2H3485.5zM3502.2 1446.8H3511.3V1454.5H3502.2zM3502.2 1457.5H3511.3V1465.2H3502.2zM3514.8 1446.8H3523.8V1454.5H3514.8zM3514.8 1457.5H3523.8V1465.2H3514.8zM3528.8 1457.3H3536.3V1464.7H3528.8zM3528.8 1467.6H3536.3V1475.1H3528.8zM3541.8 1457.3H3549.3V1464.7H3541.8zM3541.8 1467.6H3549.3V1475.1H3541.8zM3554.8 1457.3H3562.3V1464.7H3554.8zM3554.8 1467.6H3562.3V1475.1H3554.8zM3567.8 1457.3H3575.3V1464.7H3567.8zM3567.8 1467.6H3575.3V1475.1H3567.8zM3622.7 1462.5a4.1 4.1 0 1 0 8.2 0a4.1 4.1 0 1 0 -8.2 0zM3636.4 1462.5a4.1 4.1 0 1 0 8.2 0a4.1 4.1 0 1 0 -8.2 0zM4168.5 1149.2H4182.7V1165.1H4168.5zM4201.9 1156H4209.4V1164.2H4201.9zM4201.9 1170.2H4209.4V1178.3H4201.9zM4201.9 1184.3H4209.4V1192.5H4201.9zM4212.3 1156H4219.7V1164.2H4212.3zM4212.3 1170.2H4219.7V1178.3H4212.3zM4212.3 1184.3H4219.7V1192.5H4212.3zM4156.2 1177.9H4169.9V1193.6H4156.2zM4182.2 1177.9H4195.9V1193.6H4182.2zM4249.3 1160.1H4257V1167.9H4249.3zM4249.3 1171H4257V1178.8H4249.3zM4262.6 1160.1H4270.2V1167.9H4262.6zM4262.6 1171H4270.2V1178.8H4262.6zM4275.8 1160.1H4283.5V1167.9H4275.8zM4275.8 1171H4283.5V1178.8H4275.8zM4289 1160.1H4296.7V1167.9H4289zM4289 1171H4296.7V1178.8H4289zM4334.2 1153.3H4345.2V1167H4334.2zM4311 1175.2H4324.7V1186.2H4311zM4331 1175.2H4344.7V1186.2H4331zM4354.2 1173.3H4362.5V1180.7H4354.2zM4354.2 1183.6H4362.5V1191.1H4354.2zM4283 1141H4296.7V1151.9H4283zM4302.7 1141H4316.4V1151.9H4302.7zM4321.4 1137.4H4329.6V1144.9H4321.4zM4321.4 1147.8H4329.6V1155.2H4321.4zM4369.9 1187.5H4379.2V1195H4369.9zM4369.9 1197.9H4379.2V1205.3H4369.9zM4385.9 1187.5H4395.3V1195H4385.9zM4385.9 1197.9H4395.3V1205.3H4385.9zM4402 1187.5H4411.3V1195H4402zM4402 1197.9H4411.3V1205.3H4402zM4418.1 1187.5H4427.4V1195H4418.1zM4418.1 1197.9H4427.4V1205.3H4418.1zM4445.2 1170.5H4453.1V1178H4445.2zM4445.2 1180.9H4453.1V1188.4H4445.2zM4458.8 1170.5H4466.6V1178H4458.8zM4458.8 1180.9H4466.6V1188.4H4458.8zM4472.3 1170.5H4480.2V1178H4472.3zM4472.3 1180.9H4480.2V1188.4H4472.3zM4485.8 1170.5H4493.7V1178H4485.8zM4485.8 1180.9H4493.7V1188.4H4485.8zM4502.7 1175.2H4517V1186.2H4502.7zM4522.7 1175.2H4536.4V1186.2H4522.7zM4478.1 1140.1H4491V1150.5H4478.1zM4497.3 1140.1H4511V1150.5H4497.3zM4532.9 1142.3H4543V1155.2H4532.9zM4519.2 1138.2H4527.4V1146.4H4519.2zM4558.1 1162.9H4592.6V1197.1H4558.1zM4094.5 1251.9H4112.3V1267.8H4094.5zM4124.1 1251.9H4140.5V1267.8H4124.1zM4534.8 1206.7H4564.4V1212.5H4534.8zM4534.8 1219.6H4564.4V1225.4H4534.8zM4534.8 1232.5H4564.4V1238.3H4534.8zM4534.8 1245.4H4564.4V1251.2H4534.8zM4534.8 1258.3H4564.4V1264.1H4534.8zM4534.8 1271.2H4564.4V1277H4534.8zM4534.8 1284.1H4564.4V1289.9H4534.8zM4534.8 1297H4564.4V1302.8H4534.8zM4534.8 1309.9H4564.4V1315.7H4534.8zM4534.8 1322.8H4564.4V1328.6H4534.8zM4478.1 1218.2H4485.8V1226.4H4478.1zM4488.8 1218.2H4496.4V1226.4H4488.8zM4476.2 1236.3H4483.8V1244.8H4476.2zM4476.2 1251H4483.8V1259.5H4476.2zM4476.2 1265.6H4483.8V1274.1H4476.2zM4476.2 1280.3H4483.8V1288.8H4476.2zM4476.2 1294.9H4483.8V1303.4H4476.2zM4476.2 1309.6H4483.8V1318.1H4476.2zM4476.2 1324.2H4483.8V1332.7H4476.2zM4486.8 1236.3H4494.5V1244.8H4486.8zM4486.8 1251H4494.5V1259.5H4486.8zM4486.8 1265.6H4494.5V1274.1H4486.8zM4486.8 1280.3H4494.5V1288.8H4486.8zM4486.8 1294.9H4494.5V1303.4H4486.8zM4486.8 1309.6H4494.5V1318.1H4486.8zM4486.8 1324.2H4494.5V1332.7H4486.8zM4558.1 1338.2H4592.6V1372.5H4558.1zM4438.9 1342.3H4447.8V1349.8H4438.9zM4438.9 1352.7H4447.8V1360.1H4438.9zM4451.3 1342.3H4460.3V1349.8H4451.3zM4451.3 1352.7H4460.3V1360.1H4451.3zM4422.5 1366.2H4430V1374.4H4422.5zM4433 1366.2H4440.5V1374.4H4433zM4539.2 1394.9H4546.6V1403.2H4539.2zM4549.5 1394.9H4557V1403.2H4549.5zM4483 1410.3H4506.8V1443.2H4483zM4517.8 1410.3H4541.9V1443.2H4517.8zM4560.3 1412.2H4582.7V1425.9H4560.3zM4620.5 1412.2H4643V1425.9H4620.5zM4560.3 1438.2H4582.7V1451.9H4560.3zM4620.5 1438.2H4643V1451.9H4620.5zM4560.3 1463.7H4582.7V1477.4H4560.3zM4620.5 1463.7H4643V1477.4H4620.5zM4560.3 1489.7H4582.7V1503.4H4560.3zM4620.5 1489.7H4643V1503.4H4620.5zM4489.9 1467.8H4504.1V1475.2H4489.9zM4489.9 1480.1H4504.1V1487.5H4489.9zM4489.9 1492.5H4504.1V1499.9H4489.9zM4526 1467.8H4540.3V1475.2H4526zM4526 1480.1H4540.3V1487.5H4526zM4526 1492.5H4540.3V1499.9H4526zM4374.8 1367H4386.8V1380.7H4374.8zM4374.8 1387.5H4386.8V1401.2H4374.8zM4208.2 1374.7H4267.9V1433.6H4208.2zM4168.5 1295.8H4177.3V1303.2H4168.5zM4168.5 1306.1H4177.3V1313.6H4168.5zM4182.7 1293H4190.2V1301.6H4182.7zM4182.7 1305H4190.2V1313.6H4182.7zM4193.1 1293H4200.5V1301.6H4193.1zM4193.1 1305H4200.5V1313.6H4193.1zM4206.8 1293H4214.6V1300.5H4206.8zM4206.8 1303.4H4214.6V1310.8H4206.8zM4220.1 1293H4227.8V1300.5H4220.1zM4220.1 1303.4H4227.8V1310.8H4220.1zM4233.4 1293H4241.1V1300.5H4233.4zM4233.4 1303.4H4241.1V1310.8H4233.4zM4246.7 1293H4254.4V1300.5H4246.7zM4246.7 1303.4H4254.4V1310.8H4246.7zM4260 1293H4267.7V1300.5H4260zM4260 1303.4H4267.7V1310.8H4260zM4182.7 1320.4H4190.2V1328.6H4182.7zM4193.1 1320.4H4200.5V1328.6H4193.1zM4206.8 1317.1H4214.6V1324.6H4206.8zM4206.8 1327.5H4214.6V1334.9H4206.8zM4220.1 1317.1H4227.8V1324.6H4220.1zM4220.1 1327.5H4227.8V1334.9H4220.1zM4233.4 1317.1H4241.1V1324.6H4233.4zM4233.4 1327.5H4241.1V1334.9H4233.4zM4246.7 1317.1H4254.4V1324.6H4246.7zM4246.7 1327.5H4254.4V1334.9H4246.7zM4260 1317.1H4267.7V1324.6H4260zM4260 1327.5H4267.7V1334.9H4260zM4274.5 1300.4H4282V1308.2H4274.5zM4274.5 1313.8H4282V1321.6H4274.5zM4274.5 1327.2H4282V1335H4274.5zM4274.5 1340.6H4282V1348.4H4274.5zM4284.9 1300.4H4292.3V1308.2H4284.9zM4284.9 1313.8H4292.3V1321.6H4284.9zM4284.9 1327.2H4292.3V1335H4284.9zM4284.9 1340.6H4292.3V1348.4H4284.9zM4300.8 1300.4H4308.3V1308.2H4300.8zM4300.8 1313.8H4308.3V1321.6H4300.8zM4300.8 1327.2H4308.3V1335H4300.8zM4300.8 1340.6H4308.3V1348.4H4300.8zM4311.2 1300.4H4318.6V1308.2H4311.2zM4311.2 1313.8H4318.6V1321.6H4311.2zM4311.2 1327.2H4318.6V1335H4311.2zM4311.2 1340.6H4318.6V1348.4H4311.2zM4299.2 1356.6H4306.6V1364.6H4299.2zM4299.2 1367.7H4306.6V1375.8H4299.2zM4309.5 1356.6H4317V1364.6H4309.5zM4309.5 1367.7H4317V1375.8H4309.5zM4158.4 1327.8H4165.8V1335.5H4158.4zM4158.4 1341H4165.8V1348.7H4158.4zM4158.4 1354.3H4165.8V1362H4158.4zM4158.4 1367.5H4165.8V1375.2H4158.4zM4168.7 1327.8H4176.2V1335.5H4168.7zM4168.7 1341H4176.2V1348.7H4168.7zM4168.7 1354.3H4176.2V1362H4168.7zM4168.7 1367.5H4176.2V1375.2H4168.7zM4141.6 1333.6H4149.9V1341H4141.6zM4141.6 1343.9H4149.9V1351.4H4141.6zM4141.6 1360.1H4149.9V1367.6H4141.6zM4141.6 1370.5H4149.9V1377.9H4141.6zM4126.6 1348.4H4134.8V1355.8H4126.6zM4126.6 1358.7H4134.8V1366.2H4126.6zM4115.6 1384.8H4123.1V1393H4115.6zM4115.6 1399H4123.1V1407.2H4115.6zM4115.6 1413.1H4123.1V1421.3H4115.6zM4115.6 1427.3H4123.1V1435.5H4115.6zM4126 1384.8H4133.4V1393H4126zM4126 1399H4133.4V1407.2H4126zM4126 1413.1H4133.4V1421.3H4126zM4126 1427.3H4133.4V1435.5H4126zM4141.6 1387H4149.9V1394.4H4141.6zM4141.6 1397.3H4149.9V1404.8H4141.6zM4141.6 1414.9H4149.9V1422.4H4141.6zM4141.6 1425.3H4149.9V1432.7H4141.6zM4156.7 1388.4H4164.2V1396H4156.7zM4156.7 1401.5H4164.2V1409.2H4156.7zM4156.7 1414.7H4164.2V1422.3H4156.7zM4156.7 1427.8H4164.2V1435.5H4156.7zM4167.1 1388.4H4174.5V1396H4167.1zM4167.1 1401.5H4174.5V1409.2H4167.1zM4167.1 1414.7H4174.5V1422.3H4167.1zM4167.1 1427.8H4174.5V1435.5H4167.1zM4128.8 1441H4136.2V1449.6H4128.8zM4128.8 1452.9H4136.2V1461.5H4128.8zM4139.1 1441H4146.6V1449.6H4139.1zM4139.1 1452.9H4146.6V1461.5H4139.1zM4157.5 1445.1H4165V1453.3H4157.5zM4167.9 1445.1H4175.3V1453.3H4167.9zM4157.5 1460.1H4165V1468.4H4157.5zM4167.9 1460.1H4175.3V1468.4H4167.9zM4301.9 1397.1H4309.4V1404.9H4301.9zM4301.9 1410.5H4309.4V1418.3H4301.9zM4301.9 1423.9H4309.4V1431.7H4301.9zM4301.9 1437.3H4309.4V1445.1H4301.9zM4312.3 1397.1H4319.7V1404.9H4312.3zM4312.3 1410.5H4319.7V1418.3H4312.3zM4312.3 1423.9H4319.7V1431.7H4312.3zM4312.3 1437.3H4319.7V1445.1H4312.3zM4327.9 1413.6H4336.9V1421H4327.9zM4327.9 1423.9H4336.9V1431.4H4327.9zM4340.4 1413.6H4349.3V1421H4340.4zM4340.4 1423.9H4349.3V1431.4H4340.4zM4329.6 1438.2H4337V1446.6H4329.6zM4329.6 1452.1H4337V1460.5H4329.6zM4329.6 1466H4337V1474.4H4329.6zM4339.9 1438.2H4347.4V1446.6H4339.9zM4339.9 1452.1H4347.4V1460.5H4339.9zM4339.9 1466H4347.4V1474.4H4339.9zM4297.3 1451.1H4306.4V1458.9H4297.3zM4297.3 1461.9H4306.4V1469.7H4297.3zM4310 1451.1H4319.2V1458.9H4310zM4310 1461.9H4319.2V1469.7H4310zM4146 1475.8H4159.7V1486.2H4146zM4165.8 1475.8H4179.5V1486.2H4165.8zM4184.1 1472.5H4192.3V1479.7H4184.1zM4184.1 1482.5H4192.3V1489.7H4184.1zM4200.5 1471.6H4212.1V1485.8H4200.5zM4200.5 1491.2H4212.1V1505.3H4200.5zM4216.6 1471.6H4228.2V1485.8H4216.6zM4216.6 1491.2H4228.2V1505.3H4216.6zM4190.7 1520.8a7 7 0 1 0 14 0a7 7 0 1 0 -14 0zM4215.3 1520.8a7 7 0 1 0 14 0a7 7 0 1 0 -14 0zM4202.8 1551.2a7 7 0 1 0 14 0a7 7 0 1 0 -14 0zM4300.1 1548H4340.2V1579.1H4300.1zM4300.1 1628.1H4340.2V1659.1H4300.1zM4561.1 1515.4H4582.6V1528.8H4561.1zM4561.1 1582.6H4582.6V1596.1H4561.1zM4620.3 1582.6H4642.8V1596.1H4620.3zM4561.1 1608.9H4582.6V1622.3H4561.1zM4620.3 1608.9H4642.8V1622.3H4620.3zM4561.1 1634.5H4582.6V1647.9H4561.1zM4620.3 1634.5H4642.8V1647.9H4620.3zM4561.1 1660.1H4582.6V1673.6H4561.1zM4620.3 1660.1H4642.8V1673.6H4620.3zM4529.1 1534.6H4545.1V1548H4529.1zM4529.1 1560.8H4545.1V1574.3H4529.1zM4557.3 1548H4573V1560.8H4557.3zM4579.4 1545.5H4587.4V1552.8H4579.4zM4579.4 1555.7H4587.4V1563.1H4579.4zM4630 1549.6H4638V1557H4630zM4630 1559.9H4638V1567.2H4630zM4535.5 1584.9H4543.1V1592.9H4535.5zM4546.1 1584.9H4553.7V1592.9H4546.1zM4534.9 1636.1H4542.5V1643.9H4534.9zM4534.9 1649.5H4542.5V1657.3H4534.9zM4534.9 1662.9H4542.5V1670.7H4534.9zM4545.5 1636.1H4553.1V1643.9H4545.5zM4545.5 1649.5H4553.1V1657.3H4545.5zM4545.5 1662.9H4553.1V1670.7H4545.5zM4598.6 1696.9H4635.4V1720H4598.6zM4598.6 1809H4635.4V1832.1H4598.6zM4573 1736H4589.9V1744.1H4573zM4573 1752.3H4589.9V1760.4H4573zM4573 1768.6H4589.9V1776.7H4573zM4573 1784.9H4589.9V1793H4573zM4532.3 1761H4546.1V1772.2H4532.3zM4552.1 1761H4565.9V1772.2H4552.1zM4514 1779.5H4522.7V1786.9H4514zM4514 1789.8H4522.7V1797.2H4514zM4528.1 1780.2H4537.1V1787.6H4528.1zM4528.1 1790.4H4537.1V1797.8H4528.1zM4543.5 1777.9H4551.1V1786.9H4543.5zM4543.5 1790.4H4551.1V1799.4H4543.5zM4554.1 1777.9H4561.8V1786.9H4554.1zM4554.1 1790.4H4561.8V1799.4H4554.1zM4476.9 1729H4484.4V1737.6H4476.9zM4487.3 1729H4494.8V1737.6H4487.3zM4240.3 1746.6H4426V1768H4240.3zM4108.6 1746.6H4133.6V1768H4108.6zM4452.2 1746.6H4477.2V1768H4452.2zM4196.7 1779.5a4.5 4.5 0 1 0 9 0a4.5 4.5 0 1 0 -9 0zM4237.1 1844.2H4422.8V1865H4237.1zM4105.4 1844.2H4136.8V1865H4105.4zM4449 1844.2H4480.4V1865H4449zM4139.1 1826.6H4156.7V1862.8H4139.1zM4216.9 1826.6H4233.5V1862.8H4216.9zM4483.3 1826.6H4500.3V1862.8H4483.3zM4120.8 1709.1H4129.5V1716.5H4120.8zM4120.8 1719.3H4129.5V1726.7H4120.8zM4239.3 1693.7H4250.5V1707.2H4239.3zM4239.3 1713.9H4250.5V1727.4H4239.3zM4284.8 1720H4293.1V1727.4H4284.8zM4284.8 1730.2H4293.1V1737.6H4284.8zM4194.2 1882.7a7 7 0 1 0 14 0a7 7 0 1 0 -14 0zM4105.4 1872.1H4114.4V1879.5H4105.4zM4105.4 1882.3H4114.4V1889.7H4105.4zM4128.8 1881.1H4136.2V1889.1H4128.8zM4128.8 1895H4136.2V1903H4128.8zM4128.8 1908.9H4136.2V1916.9H4128.8zM4139.1 1881.1H4146.4V1889.1H4139.1zM4139.1 1895H4146.4V1903H4139.1zM4139.1 1908.9H4146.4V1916.9H4139.1zM4153.8 1878.8H4168.2V1884.1H4153.8zM4153.8 1887.7H4168.2V1893H4153.8zM4153.8 1896.5H4168.2V1901.9H4153.8zM4176.9 1878.8H4191.3V1884.1H4176.9zM4176.9 1887.7H4191.3V1893H4176.9zM4176.9 1896.5H4191.3V1901.9H4176.9zM4163.1 1908.9H4170.6V1916.9H4163.1zM4173.5 1908.9H4181V1916.9H4173.5zM4197.7 1896.1H4205.3V1904.8H4197.7zM4197.7 1908.2H4205.3V1916.9H4197.7zM4208.3 1896.1H4215.9V1904.8H4208.3zM4208.3 1908.2H4215.9V1916.9H4208.3zM4312.3 1874.7H4319.9V1881.5H4312.3zM4312.3 1886.5H4319.9V1893.3H4312.3zM4312.3 1898.3H4319.9V1905.1H4312.3zM4312.3 1910.1H4319.9V1916.9H4312.3zM4322.9 1874.7H4330.6V1881.5H4322.9zM4322.9 1886.5H4330.6V1893.3H4322.9zM4322.9 1898.3H4330.6V1905.1H4322.9zM4322.9 1910.1H4330.6V1916.9H4322.9zM4375.7 1885.9a7.7 7.7 0 1 0 15.4 0a7.7 7.7 0 1 0 -15.4 0zM4414.1 1885.9a7.7 7.7 0 1 0 15.4 0a7.7 7.7 0 1 0 -15.4 0zM4394.9 1909.2a7.7 7.7 0 1 0 15.4 0a7.7 7.7 0 1 0 -15.4 0zM4450 1879.5H4458.6V1886.8H4450zM4450 1889.7H4458.6V1897.1H4450zM4538.3 1866a9 9 0 1 0 18 0a9 9 0 1 0 -18 0zM4499.9 1891.3a9 9 0 1 0 18 0a9 9 0 1 0 -18 0zM4538.3 1891.3a9 9 0 1 0 18 0a9 9 0 1 0 -18 0zM4500.3 1908.3H4517.9V1926.5H4500.3zM4538.7 1908.3H4556.3V1926.5H4538.7zM3694.3 1623.9H3703V1631H3694.3zM3694.3 1633.7H3703V1640.8H3694.3zM3710.6 1623.9H3718.4V1631H3710.6zM3710.6 1633.7H3718.4V1640.8H3710.6zM3724.1 1623.9H3731.9V1631H3724.1zM3724.1 1633.7H3731.9V1640.8H3724.1zM3737.6 1623.9H3745.4V1631H3737.6zM3737.6 1633.7H3745.4V1640.8H3737.6zM3751.1 1623.9H3758.9V1631H3751.1zM3751.1 1633.7H3758.9V1640.8H3751.1zM3764.6 1623.9H3772.4V1631H3764.6zM3764.6 1633.7H3772.4V1640.8H3764.6zM3778 1623.9H3785.9V1631H3778zM3778 1633.7H3785.9V1640.8H3778zM3791.3 1623.9H3799.5V1631H3791.3zM3791.3 1633.7H3799.5V1640.8H3791.3zM3854.3 1634H3862.5V1641.4H3854.3zM3854.3 1644.2H3862.5V1651.6H3854.3zM3855.2 1661.1H3863.3V1666.6H3855.2zM3632.3 1676.1H3639.7V1684.2H3632.3zM3632.3 1689.7H3639.7V1697.8H3632.3zM3632.3 1703.3H3639.7V1711.4H3632.3zM3642.6 1676.1H3650V1684.2H3642.6zM3642.6 1689.7H3650V1697.8H3642.6zM3642.6 1703.3H3650V1711.4H3642.6zM3632.3 1736.7H3639.7V1746H3632.3zM3632.3 1749.6H3639.7V1759H3632.3zM3642.6 1736.7H3650V1746H3642.6zM3642.6 1749.6H3650V1759H3642.6zM3596.2 1707.9H3603.7V1716.2H3596.2zM3596.2 1722.2H3603.7V1730.4H3596.2zM3596.2 1736.4H3603.7V1744.7H3596.2zM3596.2 1750.7H3603.7V1759H3596.2zM3606.6 1707.9H3614.1V1716.2H3606.6zM3606.6 1722.2H3614.1V1730.4H3606.6zM3606.6 1736.4H3614.1V1744.7H3606.6zM3606.6 1750.7H3614.1V1759H3606.6zM3809.5 1654.3H3817V1663.4H3809.5zM3809.5 1667H3817V1676.1H3809.5zM3819.9 1654.3H3827.4V1663.4H3819.9zM3819.9 1667H3827.4V1676.1H3819.9zM3809.5 1684.2H3817V1692.5H3809.5zM3809.5 1698.5H3817V1706.7H3809.5zM3809.5 1712.7H3817V1720.9H3809.5zM3819.9 1684.2H3827.4V1692.5H3819.9zM3819.9 1698.5H3827.4V1706.7H3819.9zM3819.9 1712.7H3827.4V1720.9H3819.9zM3809.5 1736.7H3817V1745.4H3809.5zM3809.5 1748.8H3817V1757.6H3809.5zM3819.9 1736.7H3827.4V1745.4H3819.9zM3819.9 1748.8H3827.4V1757.6H3819.9zM3808.4 1764.4H3817.2V1771.6H3808.4zM3808.4 1774.4H3817.2V1781.5H3808.4zM3820.6 1764.4H3829.3V1771.6H3820.6zM3820.6 1774.4H3829.3V1781.5H3820.6zM3809.5 1789.7H3817V1798.4H3809.5zM3809.5 1801.8H3817V1810.6H3809.5zM3819.9 1789.7H3827.4V1798.4H3819.9zM3819.9 1801.8H3827.4V1810.6H3819.9zM3794 1787.5H3802.2V1794.9H3794zM3794 1797.8H3802.2V1805.2H3794zM3841.6 1681H3849.3V1689.2H3841.6zM3841.6 1695.1H3849.3V1703.3H3841.6zM3841.6 1709.2H3849.3V1717.4H3841.6zM3841.6 1723.3H3849.3V1731.5H3841.6zM3841.6 1737.5H3849.3V1745.7H3841.6zM3841.6 1751.6H3849.3V1759.8H3841.6zM3841.6 1765.7H3849.3V1773.9H3841.6zM3852.3 1681H3860.1V1689.2H3852.3zM3852.3 1695.1H3860.1V1703.3H3852.3zM3852.3 1709.2H3860.1V1717.4H3852.3zM3852.3 1723.3H3860.1V1731.5H3852.3zM3852.3 1737.5H3860.1V1745.7H3852.3zM3852.3 1751.6H3860.1V1759.8H3852.3zM3852.3 1765.7H3860.1V1773.9H3852.3zM3895.1 1698.4H3906.2V1711.4H3895.1zM3895.1 1718.8H3906.2V1731.8H3895.1zM3946.2 1714.1H3953.8V1721.5H3946.2zM3946.2 1724.4H3953.8V1731.8H3946.2zM3896.5 1746.7H4082.1V1767.9H3896.5zM3873.4 1826.4H3889.1V1862.8H3873.4zM3893.2 1844.6H4078.5V1864.9H3893.2zM4016 1877.7H4023V1885.1H4016zM4016 1888H4023V1895.4H4016zM4028 1877.7H4035V1885.1H4028zM4028 1888H4035V1895.4H4028zM4040 1877.7H4047V1885.1H4040zM4040 1888H4047V1895.4H4040zM4052 1877.7H4059V1885.1H4052zM4052 1888H4059V1895.4H4052zM3683.4 1802.4H3692.1V1809.8H3683.4zM3683.4 1812.7H3692.1V1820.1H3683.4zM3703.5 1803.3H3712.2V1810.3H3703.5zM3703.5 1813.1H3712.2V1820.1H3703.5zM3715.5 1803.3H3724.2V1810.3H3715.5zM3715.5 1813.1H3724.2V1820.1H3715.5zM3729.6 1802.4H3738.3V1809.6H3729.6zM3729.6 1812.4H3738.3V1819.6H3729.6zM3750.5 1803.8H3758.5V1810.9H3750.5zM3750.5 1813.6H3758.5V1820.7H3750.5zM3764.2 1803.8H3772.2V1810.9H3764.2zM3764.2 1813.6H3772.2V1820.7H3764.2zM3777.9 1803.8H3785.9V1810.9H3777.9zM3777.9 1813.6H3785.9V1820.7H3777.9zM3747.3 1833.2H3755.3V1840.8H3747.3zM3747.3 1843.7H3755.3V1851.4H3747.3zM3761.2 1833.2H3769.2V1840.8H3761.2zM3761.2 1843.7H3769.2V1851.4H3761.2zM3775.1 1833.2H3783.2V1840.8H3775.1zM3775.1 1843.7H3783.2V1851.4H3775.1zM3633.7 1810.6a6.8 6.8 0 1 0 13.6 0a6.8 6.8 0 1 0 -13.6 0zM3620.9 1841.3a6.8 6.8 0 1 0 13.6 0a6.8 6.8 0 1 0 -13.6 0zM3645.9 1841.3a6.8 6.8 0 1 0 13.6 0a6.8 6.8 0 1 0 -13.6 0zM3665.8 1822.8H3673.9V1830.2H3665.8zM3665.8 1833.1H3673.9V1840.5H3665.8zM3409.5 1801.2a12.3 12.3 0 0 1 24.5 0V1825.5a12.3 12.3 0 0 1 -24.5 0zM3493.2 1839.1H3507.4V1861.4H3493.2zM3519 1839.1H3533.2V1861.4H3519zM3544.8 1839.1H3559V1861.4H3544.8zM3570.6 1839.1H3584.8V1861.4H3570.6zM3596.4 1839.1H3610.6V1861.4H3596.4zM3493.2 1898.9H3508.9V1921.5H3493.2zM3518.5 1898.9H3534.2V1921.5H3518.5zM3543.8 1898.9H3559.5V1921.5H3543.8zM3569.1 1898.9H3584.8V1921.5H3569.1zM3096.1 1566.9H3103.7V1575.3H3096.1zM3106.7 1566.9H3114.4V1575.3H3106.7zM3140.5 1559.2H3147.7V1566.9H3140.5zM3173.2 1559.2H3180.4V1566.9H3173.2zM3181 1573.3H3188.8V1581.6H3181zM3191.8 1573.3H3199.6V1581.6H3191.8zM3181 1592.8H3188.8V1601.1H3181zM3191.8 1592.8H3199.6V1601.1H3191.8zM3096.1 1604.4H3103.7V1612.8H3096.1zM3096.1 1616H3103.7V1624.4H3096.1zM3106.7 1604.4H3114.4V1612.8H3106.7zM3106.7 1616H3114.4V1624.4H3106.7zM3105.2 1632.2H3114.4V1639.7H3105.2zM3105.2 1642.7H3114.4V1650.2H3105.2zM3160.7 1632.2H3169.4V1639.7H3160.7zM3160.7 1642.7H3169.4V1650.2H3160.7zM3172.8 1632.2H3181.5V1639.7H3172.8zM3172.8 1642.7H3181.5V1650.2H3172.8zM3189 1625.8H3197.4V1633.1H3189zM3189 1635.9H3197.4V1643.3H3189zM2819.3 1721H2864.3V1753.4H2819.3zM2891 1730.7H2902.1V1744.9H2891zM2891 1750.4H2902.1V1764.6H2891zM2909.5 1730.7H2920.7V1744.9H2909.5zM2909.5 1750.4H2920.7V1764.6H2909.5zM2928.1 1730.7H2939.2V1744.9H2928.1zM2928.1 1750.4H2939.2V1764.6H2928.1zM2819.3 1797.9H2864.3V1829.8H2819.3zM2760.2 1822.8a7.2 7.2 0 1 0 14.4 0a7.2 7.2 0 1 0 -14.4 0zM2922 1801.2a12.3 12.3 0 0 1 24.5 0V1825.2a12.3 12.3 0 0 1 -24.5 0zM3087.2 1801.2a12.2 12.2 0 0 1 24.4 0V1825.3a12.2 12.2 0 0 1 -24.4 0zM3244 1801.5a12.5 12.5 0 0 1 25 0V1825a12.5 12.5 0 0 1 -25 0zM2976.2 1825.9H2990V1837H2976.2zM2996.1 1825.9H3010.3V1837H2996.1zM2891 1815.3H2898.7V1823.3H2891zM2891 1828.7H2898.7V1836.7H2891zM2891 1842H2898.7V1850H2891zM2901.8 1815.3H2909.5V1823.3H2901.8zM2901.8 1828.7H2909.5V1836.7H2901.8zM2901.8 1842H2909.5V1850H2901.8zM2892.9 1858.4H2900.7V1866.2H2892.9zM2892.9 1871.4H2900.7V1879.2H2892.9zM2892.9 1884.4H2900.7V1892.2H2892.9zM2903.7 1858.4H2911.5V1866.2H2903.7zM2903.7 1871.4H2911.5V1879.2H2903.7zM2903.7 1884.4H2911.5V1892.2H2903.7zM2847.1 1836.8a2 2 0 0 1 3.9 0V1848a2 2 0 0 1 -3.9 0zM2851.6 1836.8a2 2 0 0 1 3.9 0V1848a2 2 0 0 1 -3.9 0zM2856.2 1836.7a1.9 1.9 0 0 1 3.8 0V1848.1a1.9 1.9 0 0 1 -3.8 0zM2860.7 1836.8a2 2 0 0 1 3.9 0V1848a2 2 0 0 1 -3.9 0zM2865.3 1836.7a1.9 1.9 0 0 1 3.8 0V1848.1a1.9 1.9 0 0 1 -3.8 0zM2869.8 1836.7a1.9 1.9 0 0 1 3.8 0V1848.1a1.9 1.9 0 0 1 -3.8 0zM2874.3 1836.8a2 2 0 0 1 3.9 0V1848a2 2 0 0 1 -3.9 0zM2847.1 1876.5a2 2 0 0 1 3.9 0V1887.8a2 2 0 0 1 -3.9 0zM2851.6 1876.5a2 2 0 0 1 3.9 0V1887.8a2 2 0 0 1 -3.9 0zM2856.2 1876.4a1.9 1.9 0 0 1 3.8 0V1887.8a1.9 1.9 0 0 1 -3.8 0zM2860.7 1876.5a2 2 0 0 1 3.9 0V1887.8a2 2 0 0 1 -3.9 0zM2865.3 1876.4a1.9 1.9 0 0 1 3.8 0V1887.8a1.9 1.9 0 0 1 -3.8 0zM2869.8 1876.4a1.9 1.9 0 0 1 3.8 0V1887.8a1.9 1.9 0 0 1 -3.8 0zM2874.3 1876.5a2 2 0 0 1 3.9 0V1887.8a2 2 0 0 1 -3.9 0zM2844.3 1850.9H2881V1873.6H2844.3zM2825.7 1896.4H2839.6V1906.9H2825.7zM2845.7 1896.4H2859.6V1906.9H2845.7zM2866.5 1897.2H2875.6V1904.8H2866.5zM2866.5 1907.7H2875.6V1915.3H2866.5zM2879.1 1897.2H2888.2V1904.8H2879.1zM2879.1 1907.7H2888.2V1915.3H2879.1zM3139.9 1860.6a6.9 6.9 0 1 0 13.8 0a6.9 6.9 0 1 0 -13.8 0zM3191.3 1860.6a6.9 6.9 0 1 0 13.8 0a6.9 6.9 0 1 0 -13.8 0zM3308.4 1814.8H3320.3V1828.7H3308.4zM3308.4 1834.8H3320.3V1848.1H3308.4zM3374.8 1245.4H3382.4V1254.6H3374.8zM3385.4 1245.4H3393V1254.6H3385.4zM3383.4 1293H3393V1300.7H3383.4zM3383.4 1303.8H3393V1311.5H3383.4z"/>
<path fill="none" stroke="#149b1a" stroke-width="2.3" d="M347 563.1a43.1 43.1 0 1 0 86.2 0a43.1 43.1 0 1 0 -86.2 0zM875.2 988.4a35.6 35.6 0 1 0 71.2 0a35.6 35.6 0 1 0 -71.2 0zM1404 988.5a35.6 35.6 0 1 0 71.2 0a35.6 35.6 0 1 0 -71.2 0zM1611.1 777.8a29.3 29.3 0 1 0 58.6 0a29.3 29.3 0 1 0 -58.6 0zM1954.8 777.8a29.3 29.3 0 1 0 58.6 0a29.3 29.3 0 1 0 -58.6 0zM2140.6 987.1a19.7 19.7 0 1 0 39.4 0a19.7 19.7 0 1 0 -39.4 0zM2191.5 564a43.5 43.5 0 1 0 87 0a43.5 43.5 0 1 0 -87 0zM347.5 1891a43.5 43.5 0 1 0 87 0a43.5 43.5 0 1 0 -87 0zM1269.5 1891a43.5 43.5 0 1 0 87 0a43.5 43.5 0 1 0 -87 0zM2191.5 1891a43.5 43.5 0 1 0 87 0a43.5 43.5 0 1 0 -87 0zM1854.1 1227.4a19.7 19.7 0 1 0 39.4 0a19.7 19.7 0 1 0 -39.4 0zM1954.7 1267.7a29.3 29.3 0 1 0 58.6 0a29.3 29.3 0 1 0 -58.6 0zM1610.8 1267.7a29.3 29.3 0 1 0 58.6 0a29.3 29.3 0 1 0 -58.6 0zM1403.6 1517.1a35.6 35.6 0 1 0 71.2 0a35.6 35.6 0 1 0 -71.2 0zM875 1517.2a35.7 35.7 0 1 0 71.4 0a35.7 35.7 0 1 0 -71.4 0zM2721.9 562.5a43.3 43.3 0 1 0 86.6 0a43.3 43.3 0 1 0 -86.6 0zM4566.2 564a43.5 43.5 0 1 0 87 0a43.5 43.5 0 1 0 -87 0zM2722.2 1891a43.5 43.5 0 1 0 87 0a43.5 43.5 0 1 0 -87 0zM3644.2 1891a43.5 43.5 0 1 0 87 0a43.5 43.5 0 1 0 -87 0zM4566.2 1891a43.5 43.5 0 1 0 87 0a43.5 43.5 0 1 0 -87 0zM3975.3 778.1a39.2 39.2 0 1 0 78.4 0a39.2 39.2 0 1 0 -78.4 0zM4319.7 778.1a39.2 39.2 0 1 0 78.4 0a39.2 39.2 0 1 0 -78.4 0zM3778.1 988.4a35.6 35.6 0 1 0 71.2 0a35.6 35.6 0 1 0 -71.2 0zM3975.3 1268.2a39.2 39.2 0 1 0 78.4 0a39.2 39.2 0 1 0 -78.4 0zM3778.1 1517.3a35.6 35.6 0 1 0 71.2 0a35.6 35.6 0 1 0 -71.2 0zM4319.7 1267.8a39.2 39.2 0 1 0 78.4 0a39.2 39.2 0 1 0 -78.4 0zM3248.9 988.4a35.6 35.6 0 1 0 71.2 0a35.6 35.6 0 1 0 -71.2 0zM3248.9 1517.3a35.6 35.6 0 1 0 71.2 0a35.6 35.6 0 1 0 -71.2 0z"/>
<path fill="#000" d="M769.8 609.7a2.3 2.3 0 1 0 4.6 0a2.3 2.3 0 1 0 -4.6 0zM380.3 711.1H421.4V722.4H380.3zM643.3 678.6H655.9V718.9H643.3zM751.1 840.4L751.1 847.3L757.9 847.3zM880.2 809.7a6 6 0 1 0 12 0a6 6 0 1 0 -12 0zM672.5 933L672.5 941.8L676.8 937.4zM1773.3 944.7a1.4 1.4 0 1 0 2.8 0a1.4 1.4 0 1 0 -2.8 0zM1813 983.8L1808.1 988.5L1818.5 988.5zM1889.9 957L1900 957L1895.1 961.9zM2034.8 931.2a1.4 1.4 0 1 0 2.8 0a1.4 1.4 0 1 0 -2.8 0zM2071.2 987.4L2066.3 992.1L2076.2 992.1zM1676.6 1101.4H1695.8V1105.2H1676.6zM1690.8 1101.4H1695.8V1116.4H1690.8zM1676.6 1230.1H1695.8V1234H1676.6zM1690.8 1230.1H1695.8V1245.2H1690.8zM1676.6 1372.1H1695.8V1375.9H1676.6zM1690.8 1372.1H1695.8V1387.1H1690.8zM1995.7 1079.5a2.2 2.2 0 1 0 4.4 0a2.2 2.2 0 1 0 -4.4 0zM1976.6 1322.7L1982.1 1318.4L1982.1 1327.4zM1958.2 1316.4H1961.5V1329.3H1958.2zM2161.6 1033.4L2172.1 1033.4L2166.8 1038.4zM1662.3 1484.5a5.5 5.5 0 1 0 11 0a5.5 5.5 0 1 0 -11 0zM2209.8 1619.3a6 6 0 1 0 12 0a6 6 0 1 0 -12 0zM2191.1 1624.2H2198.8V1627H2191.1zM1753.3 1828.7H1774.2V1834.7H1753.3zM1880.4 1829.8H1901.4V1835.5H1880.4zM1887.8 1822.4H1893.8V1842.8H1887.8zM2118.8 1928.7H2151.9V1933.6H2118.8zM1595.6 1496.8a2.5 2.5 0 1 0 5 0a2.5 2.5 0 1 0 -5 0zM1545.8 1824.8L1545.8 1835.8L1552.1 1830.3zM3683.3 998.2a2.5 2.5 0 1 0 5 0a2.5 2.5 0 1 0 -5 0zM3952.3 999.6a2.5 2.5 0 1 0 5 0a2.5 2.5 0 1 0 -5 0zM3656.2 1759L3656.2 1768.5L3661.7 1763.6z"/>
<path fill="none" stroke="#000" stroke-width="1.2" d="M345.6 779.5H329.7 a10 10 0 0 0 -10 10V1663.6a10 10 0 0 0 10 10H345.6M2279 779.5H2295.6 a10 10 0 0 1 10 10V1599a10 10 0 0 1 -10 10H2279M281 518H345.6V1935.7H281zM2279 518H2344.4V1935.7H2279zM2760.3 518H3263.7 V592 A7 7 0 0 0 3263.7 606 H3466.7 A7 7 0 0 0 3466.7 592 V518H3538.4 V551 H3558.5V639.8 A7 7 0 0 0 3558.5 653.8 H3738.7 A7 7 0 0 0 3738.7 639.8 V551H3759.7 V518 H3802.4 V551 H3822.7V639.8 A7 7 0 0 0 3823 653.8 H4003.2 A7 7 0 0 0 4003.2 639.8 V551H4024.2 V518 H4066.9 V551 H4087.2V639.8 A7 7 0 0 0 4087.5 653.8 H4267.7 A7 7 0 0 0 4267.7 639.8 V551H4288.7 V518 H4331.4 V551 H4351.7V639.8 A7 7 0 0 0 4352 653.8 H4532.2 A7 7 0 0 0 4532.2 639.8 V551H4552.2 V518H4613.7 A40 40 0 0 1 4653.7 558 V1895.7 A40 40 0 0 1 4613.7 1935.7H4468 V1923 H4338.7 V1935.7H3403.9 V1909.3 A12 12 0 0 0 3391.9 1897.3 H3287 A12 12 0 0 0 3275 1909.3 V1935.7H3081.7 V1909.3 A12 12 0 0 0 3069.7 1897.3 H2964.7 A12 12 0 0 0 2952.7 1909.3 V1935.7H2760.3 A40 40 0 0 1 2720.3 1895.7 V558 A40 40 0 0 1 2760.3 518zM345.5 303.3V452.5L390.5 408.2V387.8h-2.5M2279.5 303.3V452.5L2324.5 408.2V387.8h-2.5M1189.3 690H1207.3M1194.8 685.5V694.5M1194.8 690L1201.8 686V694zM1181.3 685.5h4M1211.3 685.5h4M1213.3 683.5v4M1342.3 690H1360.3M1347.8 685.5V694.5M1347.8 690L1354.8 686V694zM1334.3 685.5h4M1364.3 685.5h4M1366.3 683.5v4M1453.8 690H1471.8M1459.3 685.5V694.5M1459.3 690L1466.3 686V694zM1445.8 685.5h4M1475.8 685.5h4M1477.8 683.5v4M1606.8 690H1624.8M1612.3 685.5V694.5M1612.3 690L1619.3 686V694zM1598.8 685.5h4M1628.8 685.5h4M1630.8 683.5v4M1718.3 690H1736.3M1723.8 685.5V694.5M1723.8 690L1730.8 686V694zM1710.3 685.5h4M1740.3 685.5h4M1742.3 683.5v4M1871.3 690H1889.3M1876.8 685.5V694.5M1876.8 690L1883.8 686V694zM1863.3 685.5h4M1893.3 685.5h4M1895.3 683.5v4M1982.8 690H2000.8M1988.3 685.5V694.5M1988.3 690L1995.3 686V694zM1974.8 685.5h4M2004.8 685.5h4M2006.8 683.5v4M2135.8 690H2153.8M2141.3 685.5V694.5M2141.3 690L2148.3 686V694zM2127.8 685.5h4M2157.8 685.5h4M2159.8 683.5v4M2189.2 1627H2200.7V1650.3H2189.2zM1728.8 1810.8L1737.5 1810.8M1950.8 1924.3L1957.9 1924.3M2160.1 1853.2H2185.9V1930.6H2160.1z"/>
<path fill="none" stroke="#000" stroke-width="2" d="M385.6 518H889 V592 A7 7 0 0 0 889 606 H1092 A7 7 0 0 0 1092 592 V518H1163.7 V551 H1183.8V639.8 A7 7 0 0 0 1183.8 653.8 H1364 A7 7 0 0 0 1364 639.8 V551H1385 V518 H1427.7 V551 H1448V639.8 A7 7 0 0 0 1448.3 653.8 H1628.5 A7 7 0 0 0 1628.5 639.8 V551H1649.5 V518 H1692.2 V551 H1712.5V639.8 A7 7 0 0 0 1712.8 653.8 H1893 A7 7 0 0 0 1893 639.8 V551H1914 V518 H1956.7 V551 H1977V639.8 A7 7 0 0 0 1977.3 653.8 H2157.5 A7 7 0 0 0 2157.5 639.8 V551H2177.5 V518H2239 A40 40 0 0 1 2279 558 V1895.7 A40 40 0 0 1 2239 1935.7H2093.3 V1923 H1964 V1935.7H1029.2 V1909.3 A12 12 0 0 0 1017.2 1897.3 H912.3 A12 12 0 0 0 900.3 1909.3 V1935.7H707 V1909.3 A12 12 0 0 0 695 1897.3 H590 A12 12 0 0 0 578 1909.3 V1935.7H385.6 A40 40 0 0 1 345.6 1895.7 V558 A40 40 0 0 1 385.6 518zM739.2 627.7L752.2 627.7L752.2 640.2zM763.9 649.2L763.9 661L776.4 661zM1147.1 594.8a2.7 2.7 0 1 0 5.4 0a2.7 2.7 0 1 0 -5.4 0zM942.8 664.9L955.3 664.9L955.3 677.4zM962.3 686.4L962.3 698.1L974.9 698.1zM1156.1 747.1a2.7 2.7 0 1 0 5.4 0a2.7 2.7 0 1 0 -5.4 0zM1020.3 1027H1329.7V1478.4H1020.3zM1673.1 1114.2a2.7 2.7 0 1 0 5.4 0a2.7 2.7 0 1 0 -5.4 0zM1681.5 1248.5a2.7 2.7 0 1 0 5.4 0a2.7 2.7 0 1 0 -5.4 0zM1882.1 1062.5H1972.5V1152.9H1882.1zM1798.5 1199.2a2.7 2.7 0 1 0 5.4 0a2.7 2.7 0 1 0 -5.4 0zM1805.4 1290.4a2.7 2.7 0 1 0 5.4 0a2.7 2.7 0 1 0 -5.4 0zM1958.8 1315.6H1997.1V1330.1H1958.8zM1435.2 1267.9a1.6 1.6 0 1 0 3.2 0a1.6 1.6 0 1 0 -3.2 0zM2073.4 1062.5H2164.4V1152.9H2073.4zM1682.4 1391.1a2.7 2.7 0 1 0 5.4 0a2.7 2.7 0 1 0 -5.4 0zM1686.2 1499.6a3 3 0 1 0 6 0a3 3 0 1 0 -6 0zM2018.4 1834.1a3.3 3.3 0 1 0 6.6 0a3.3 3.3 0 1 0 -6.6 0zM1126.1 1699a1.6 1.6 0 1 0 3.2 0a1.6 1.6 0 1 0 -3.2 0zM1175.9 1699a1.6 1.6 0 1 0 3.2 0a1.6 1.6 0 1 0 -3.2 0zM1223.3 1699a1.6 1.6 0 1 0 3.2 0a1.6 1.6 0 1 0 -3.2 0zM923.3 1782.7a2.4 2.4 0 1 0 4.8 0a2.4 2.4 0 1 0 -4.8 0zM601.2 1782.7a2.4 2.4 0 1 0 4.8 0a2.4 2.4 0 1 0 -4.8 0z"/>
<path fill="none" stroke="#000" stroke-width="3" d="M400.7 724.4L379.2 754.9L423 754.9zM612 675.8L612 719.7L643.3 698.1zM1013.2 715.8L1013.2 726.7L1023 726.7M1156.1 738.5L1143.5 738.5L1143.5 754.9M550 823.2a3.3 3.3 0 1 0 6.6 0a3.3 3.3 0 1 0 -6.6 0zM577.4 828.6a1.9 1.9 0 1 0 3.8 0a1.9 1.9 0 1 0 -3.8 0zM613 836.3a1.9 1.9 0 1 0 3.8 0a1.9 1.9 0 1 0 -3.8 0zM615.4 867.3a3.6 3.6 0 1 0 7.2 0a3.6 3.6 0 1 0 -7.2 0zM396.3 956.8L388.1 965.9L404.5 965.9zM1156.3 747.4a2.7 2.7 0 1 0 5.4 0a2.7 2.7 0 1 0 -5.4 0zM1187.8 841.4a4.7 4.7 0 1 0 9.4 0a4.7 4.7 0 1 0 -9.4 0zM1408.9 853.2a4.7 4.7 0 1 0 9.4 0a4.7 4.7 0 1 0 -9.4 0zM1734.6 783.8a5.8 5.8 0 1 0 11.6 0a5.8 5.8 0 1 0 -11.6 0zM1771.1 944.7a3.6 3.6 0 1 0 7.2 0a3.6 3.6 0 1 0 -7.2 0zM1800.4 1012.6a3 3 0 1 0 6 0a3 3 0 1 0 -6 0zM1972.1 948.2L1967.9 955.1L1976.2 955.1zM2032.6 931.2a3.6 3.6 0 1 0 7.2 0a3.6 3.6 0 1 0 -7.2 0zM2235.4 938.1a3 3 0 1 0 6 0a3 3 0 1 0 -6 0zM982.7 1026.6L1019.2 990.4L1019.2 1026.6zM1879.3 1060.8L1894.4 1060.8L1879.3 1075.9zM1454.7 1217L1451.4 1221.4L1458.8 1221.4zM2070.7 1060.8L2085.8 1060.8L2070.7 1075.9zM2256.7 1088.2a6.3 6.3 0 1 0 12.6 0a6.3 6.3 0 1 0 -12.6 0zM2027.6 1416.6a2.7 2.7 0 1 0 5.4 0a2.7 2.7 0 1 0 -5.4 0zM2052.2 1416.6a2.7 2.7 0 1 0 5.4 0a2.7 2.7 0 1 0 -5.4 0zM2136.8 1571.4L2132.2 1576.8L2141.8 1576.8zM2081.5 1598.8L2091.1 1598.8L2086.4 1604.8zM2136.8 1694.7L2132.2 1700.1L2141.8 1700.1zM2078.8 1721.5L2088.4 1721.5L2083.7 1727.5zM1904.8 1585.1L1904.8 1596L1898.8 1590.5zM1904.2 1692.7L1904.2 1703.7L1897.9 1698.2zM2185.9 1781.7L2185.9 1794.7L2196.7 1788.2zM2118.8 1874.1H2151.9V1904H2118.8zM2118.8 1904H2151.9V1932.5H2118.8zM1015.6 1564a3 3 0 1 0 6 0a3 3 0 1 0 -6 0zM1012.3 1737.1L1024.1 1737.1L1024.1 1749.5zM719 1641.1L719 1654.4L732.3 1654.4zM931.1 1760.4L931.1 1770.8L940.6 1770.8M779.7 1787.6L779.7 1798.5L790.6 1798.5zM484.7 1844.7a3.5 3.5 0 1 0 7 0a3.5 3.5 0 1 0 -7 0zM834.1 1861L846.3 1861M840.1 1851.5L840.1 1870.5M2768.8 692.3a4.4 4.4 0 1 0 8.8 0a4.4 4.4 0 1 0 -8.8 0zM3576.7 770.4H3722.7V822.7H3576.7zM3798.6 763.6H3944.7V820.5H3798.6zM3485.4 878.1a5.8 5.8 0 1 0 11.6 0a5.8 5.8 0 1 0 -11.6 0zM4615.1 797.3L4611 804.7L4619.7 804.7zM4135.6 875.9L4135.6 883.6L4129.6 879.7zM4150.1 777.8H4295.9V908H4155L4150.1 903zM4418.6 778.6H4565V912.6H4423.5L4418.6 907.6zM4319.2 924.4L4319.2 932.1L4313.2 928.2zM4372.6 947.7L4368.5 955.1L4377.3 955.1zM4511 987.4a23.8 23.8 0 1 0 47.6 0a23.8 23.8 0 1 0 -47.6 0zM4368.8 1083.8a6 6 0 1 0 12 0a6 6 0 1 0 -12 0zM4171.8 1068.2L4171.8 1075.9L4165.8 1072.1zM3787.7 988.4a26 26 0 1 0 52 0a26 26 0 1 0 -52 0zM3586.3 1456.4H3614.2V1471.5H3586.3zM3787.7 1517.3a26 26 0 1 0 52 0a26 26 0 1 0 -52 0zM4224.7 1227.8a23.8 23.8 0 1 0 47.6 0a23.8 23.8 0 1 0 -47.6 0zM4524.1 1202.6L4524.1 1215.5L4534.2 1208.9zM4603.1 1355.2a10.1 10.1 0 1 0 20.2 0a10.1 10.1 0 1 0 -20.2 0zM4603.1 1457.9a10.1 10.1 0 1 0 20.2 0a10.1 10.1 0 1 0 -20.2 0zM4484.1 1349.7H4523.3V1399.9H4484.1zM4474.5 1395.2a3.6 3.6 0 1 0 7.2 0a3.6 3.6 0 1 0 -7.2 0zM4495.9 1399L4504.1 1390.8L4512.3 1399M4560.1 1733.8L4560.1 1746.6L4570.7 1740.2zM4130.5 1786.6a13.4 13.4 0 1 0 26.8 0a13.4 13.4 0 1 0 -26.8 0zM4219.2 1786.6a10.2 10.2 0 1 0 20.4 0a10.2 10.2 0 1 0 -20.4 0zM4474.1 1786.6a13.4 13.4 0 1 0 26.8 0a13.4 13.4 0 1 0 -26.8 0zM4225.8 1882L4248.9 1882L4237.7 1870.5zM4185.8 1873.1a4.8 4.8 0 1 0 9.6 0a4.8 4.8 0 1 0 -9.6 0zM3685.4 1764.4a3.5 3.5 0 1 0 7 0a3.5 3.5 0 1 0 -7 0zM3875.5 1786.7a10.1 10.1 0 1 0 20.2 0a10.1 10.1 0 1 0 -20.2 0zM3882.3 1882.6L3905.4 1882.6L3893.8 1870.9zM3258.5 988.4a26 26 0 1 0 52 0a26 26 0 1 0 -52 0zM3258.5 1517.3a26 26 0 1 0 52 0a26 26 0 1 0 -52 0z"/>
<path fill="none" stroke="#000" stroke-width="2.6" stroke-linejoin="round" d="M2720.3 779.5H2704.4 a10 10 0 0 0 -10 10V1663.6a10 10 0 0 0 10 10H2720.3M4653.7 779.5H4670.3 a10 10 0 0 1 10 10V1599a10 10 0 0 1 -10 10H4653.7M2655.7 517.8H2720.3V1935.7H2655.7zM4653.7 517.8H4719.1V1935.7H4653.7z"/>
<text x="360.5" y="322" font-size="20" fill="#555" font-weight="normal" transform="rotate(90 360.5 322)" textLength="59" lengthAdjust="spacingAndGlyphs">V_CUT</text>
<text x="2294.5" y="322" font-size="20" fill="#555" font-weight="normal" transform="rotate(90 2294.5 322)" textLength="59" lengthAdjust="spacingAndGlyphs">V_CUT</text>
<path fill="none" stroke="#000" stroke-width="2.7" stroke-linecap="round" stroke-linejoin="round" d="M2720.4 303.3V452.5L2765.4 408.2V387.8h-2.5"/>
<text x="2735.3" y="302.8" font-size="29.5" fill="#000" font-weight="normal" transform="rotate(90 2735.3 302.8)" textLength="101" lengthAdjust="spacingAndGlyphs">V_CUT</text>
<path fill="none" stroke="#000" stroke-width="2.7" stroke-linecap="round" stroke-linejoin="round" d="M4654.4 303.3V452.5L4699.4 408.2V387.8h-2.5"/>
<text x="4669" y="305.7" font-size="27.8" fill="#000" font-weight="normal" transform="rotate(90 4669 305.7)" textLength="94" lengthAdjust="spacingAndGlyphs">V_CUT</text>
<path fill="none" stroke="#000" stroke-width="3.2" d="M349.5 2136H1070.5V2308H349.5zM349.5 2209.6H1070.5M349.5 2242.5H1070.5M349.5 2275.3H1070.5M562.3 2209.6V2242.5M820.9 2209.6V2242.5M910.6 2209.6V2242.5M463.6 2242.5V2275.3M820.9 2242.5V2275.3M910.6 2242.5V2275.3M463.6 2275.3V2308"/>
<text x="451" y="2181.3" font-size="18.8" fill="#2a2a2a" textLength="494" lengthAdjust="spacingAndGlyphs">iKOOLCORE TECHNOLOGY(HONGKONG) CO,. LIMITED</text>
<text x="358.4" y="2235" font-size="18.8" fill="#2a2a2a" textLength="112.6" lengthAdjust="spacingAndGlyphs">Model name</text>
<text x="604" y="2235" font-size="18.8" fill="#2a2a2a" textLength="128" lengthAdjust="spacingAndGlyphs">YK-ADLN-NAS</text>
<text x="847" y="2234.5" font-size="18.8" fill="#2a2a2a" textLength="32.5" lengthAdjust="spacingAndGlyphs">Rev</text>
<text x="948" y="2235" font-size="18.8" fill="#2a2a2a" textLength="21" lengthAdjust="spacingAndGlyphs">1.0</text>
<text x="358.4" y="2267.4" font-size="18.8" fill="#2a2a2a" textLength="41.6" lengthAdjust="spacingAndGlyphs">Date</text>
<text x="566.8" y="2267.4" font-size="18.8" fill="#2a2a2a" textLength="93.5" lengthAdjust="spacingAndGlyphs">2024/05/15</text>
<text x="841.8" y="2267.4" font-size="18.8" fill="#2a2a2a" textLength="39" lengthAdjust="spacingAndGlyphs">SIZE</text>
<text x="948" y="2268.6" font-size="18.8" fill="#2a2a2a" textLength="63.6" lengthAdjust="spacingAndGlyphs">150X110</text>
<text x="358.4" y="2299.4" font-size="18.8" fill="#2a2a2a" textLength="45.6" lengthAdjust="spacingAndGlyphs">Layer</text>
<text x="948" y="2298" font-size="18.8" fill="#2a2a2a" textLength="64.5" lengthAdjust="spacingAndGlyphs">160X110</text>
<path fill="none" stroke="#000" stroke-width="1.4" d="M2724 2136H3444.4V2308H2724zM2724 2209.6H3444.4M2724 2242.5H3444.4M2724 2275.3H3444.4M2936.8 2209.6V2242.5M3195.4 2209.6V2242.5M3285.4 2209.6V2242.5M2838.4 2242.5V2275.3M3195.4 2242.5V2275.3M3285.4 2242.5V2275.3M2838.4 2275.3V2308"/>
<text x="2848.6" y="2179" font-size="19.6" fill="#111" textLength="482.8" lengthAdjust="spacingAndGlyphs">iKOOLCORE TECHNOLOGY (HONGKONG) CO,. LIMITED</text>
<text x="2732.3" y="2234.5" font-size="19.6" fill="#111" textLength="102.7" lengthAdjust="spacingAndGlyphs">Model Name</text>
<text x="2978.6" y="2235" font-size="19.6" fill="#111" textLength="122" lengthAdjust="spacingAndGlyphs">YK-ADLN-NAS</text>
<text x="3221.7" y="2234" font-size="19.6" fill="#111" textLength="31.3" lengthAdjust="spacingAndGlyphs">Rev</text>
<text x="3322.4" y="2235" font-size="19.6" fill="#111" textLength="21" lengthAdjust="spacingAndGlyphs">1.0</text>
<text x="2732.3" y="2267" font-size="19.6" fill="#111" textLength="38" lengthAdjust="spacingAndGlyphs">Date</text>
<text x="2941.5" y="2267" font-size="19.6" fill="#111" textLength="91" lengthAdjust="spacingAndGlyphs">2024/05/15</text>
<text x="3216.6" y="2267" font-size="19.6" fill="#111" textLength="39.4" lengthAdjust="spacingAndGlyphs">SIZE</text>
<text x="3323.3" y="2268.6" font-size="19.6" fill="#111" textLength="70.3" lengthAdjust="spacingAndGlyphs">150X110</text>
<text x="2732.3" y="2299.4" font-size="19.6" fill="#111" textLength="45" lengthAdjust="spacingAndGlyphs">Layer</text>
<text x="3323.3" y="2298" font-size="19.6" fill="#111" textLength="70.3" lengthAdjust="spacingAndGlyphs">160X110</text>
<text x="916.5" y="631.6" font-size="12" fill="#000" font-weight="bold" stroke="#000" stroke-width="0.9">2</text>
<text x="916.5" y="652.3" font-size="12" fill="#000" font-weight="bold" stroke="#000" stroke-width="0.9">1</text>
<text x="1055.5" y="631.6" font-size="12" fill="#000" font-weight="bold" stroke="#000" stroke-width="0.9">18</text>
<text x="1056.3" y="653.1" font-size="12" fill="#000" font-weight="bold" stroke="#000" stroke-width="0.9">19</text>
<text x="395.6" y="649.2" font-size="13" fill="#000" font-weight="bold" stroke="#000" stroke-width="0.9" transform="rotate(90 395.6 649.2)">S</text>
<text x="642.6" y="796" font-size="13" fill="#000" font-weight="bold" stroke="#000" stroke-width="0.9" transform="rotate(90 642.6 796)">S</text>
<text x="756.8" y="867.3" font-size="13" fill="#000" font-weight="bold" stroke="#000" stroke-width="0.9">1</text>
<text x="638.2" y="910.3" font-size="14" fill="#000" font-weight="bold" stroke="#000" stroke-width="0.9">+</text>
<text x="1196.3" y="668.5" font-size="11" fill="#000" font-weight="bold" stroke="#000" stroke-width="0.9">G</text>
<text x="1347.8" y="668.5" font-size="11" fill="#000" font-weight="bold" stroke="#000" stroke-width="0.9">Y</text>
<text x="1219.8" y="706" font-size="12" fill="#000" font-weight="bold" stroke="#000" stroke-width="0.9">1</text>
<text x="1331.8" y="706" font-size="12" fill="#000" font-weight="bold" stroke="#000" stroke-width="0.9">8</text>
<text x="1460.8" y="668.5" font-size="11" fill="#000" font-weight="bold" stroke="#000" stroke-width="0.9">G</text>
<text x="1612.3" y="668.5" font-size="11" fill="#000" font-weight="bold" stroke="#000" stroke-width="0.9">Y</text>
<text x="1484.3" y="706" font-size="12" fill="#000" font-weight="bold" stroke="#000" stroke-width="0.9">1</text>
<text x="1596.3" y="706" font-size="12" fill="#000" font-weight="bold" stroke="#000" stroke-width="0.9">8</text>
<text x="1725.3" y="668.5" font-size="11" fill="#000" font-weight="bold" stroke="#000" stroke-width="0.9">G</text>
<text x="1876.8" y="668.5" font-size="11" fill="#000" font-weight="bold" stroke="#000" stroke-width="0.9">Y</text>
<text x="1748.8" y="706" font-size="12" fill="#000" font-weight="bold" stroke="#000" stroke-width="0.9">1</text>
<text x="1860.8" y="706" font-size="12" fill="#000" font-weight="bold" stroke="#000" stroke-width="0.9">8</text>
<text x="1989.8" y="668.5" font-size="11" fill="#000" font-weight="bold" stroke="#000" stroke-width="0.9">G</text>
<text x="2141.3" y="668.5" font-size="11" fill="#000" font-weight="bold" stroke="#000" stroke-width="0.9">Y</text>
<text x="2013.3" y="706" font-size="12" fill="#000" font-weight="bold" stroke="#000" stroke-width="0.9">1</text>
<text x="2125.3" y="706" font-size="12" fill="#000" font-weight="bold" stroke="#000" stroke-width="0.9">8</text>
<text x="1163.2" y="920" font-size="11" fill="#000">+</text>
<text x="2223.8" y="935.3" font-size="12" fill="#000" font-weight="bold" stroke="#000" stroke-width="0.9">1</text>
<text x="1036.2" y="921.1" font-size="11" fill="#000">+</text>
<text x="1163" y="920.3" font-size="11" fill="#000">+</text>
<text x="1043.6" y="1023.8" font-size="12" fill="#000" font-weight="bold" stroke="#000" stroke-width="0.9">1</text>
<text x="1009.6" y="1056.7" font-size="12" fill="#000" font-weight="bold" stroke="#000" stroke-width="0.9">A</text>
<text x="1508.2" y="1040.3" font-size="11" fill="#000">+</text>
<text x="1886.2" y="1056.2" font-size="12" fill="#000" font-weight="bold" stroke="#000" stroke-width="0.9">1</text>
<text x="1869.2" y="1076.7" font-size="12" fill="#000" font-weight="bold" stroke="#000" stroke-width="0.9">A</text>
<text x="1985.3" y="1312.3" font-size="11" fill="#000">+</text>
<text x="1508.6" y="1040.5" font-size="11" fill="#000">+</text>
<text x="1508.9" y="1168.8" font-size="11" fill="#000">+</text>
<text x="1508.1" y="1377" font-size="11" fill="#000">+</text>
<text x="2079.5" y="1056.2" font-size="12" fill="#000" font-weight="bold" stroke="#000" stroke-width="0.9">1</text>
<text x="2059.7" y="1069.9" font-size="12" fill="#000" font-weight="bold" stroke="#000" stroke-width="0.9">A</text>
<text x="1915.8" y="1541.2" font-size="11" fill="#000">+</text>
<text x="1912.5" y="1677.1" font-size="11" fill="#000">+</text>
<text x="1924.5" y="1813.5" font-size="11" fill="#000">+</text>
<text x="1904.1" y="1928.7" font-size="11" fill="#000">+</text>
<text x="1041.6" y="1544" font-size="12" fill="#000" font-weight="bold" stroke="#000" stroke-width="0.9">3</text>
<text x="999.5" y="1597.4" font-size="12" fill="#000" font-weight="bold" stroke="#000" stroke-width="0.9">1</text>
<text x="1031.5" y="1597.4" font-size="12" fill="#000" font-weight="bold" stroke="#000" stroke-width="0.9">2</text>
<text x="1395" y="1849" font-size="12" fill="#000" font-weight="bold" stroke="#000" stroke-width="0.9">1</text>
<text x="733.1" y="1544.1" font-size="12" fill="#000" font-weight="bold" stroke="#000" stroke-width="0.9">36</text>
<text x="812.1" y="1540.9" font-size="12" fill="#000" font-weight="bold" stroke="#000" stroke-width="0.9">25</text>
<text x="703.8" y="1565.2" font-size="12" fill="#000" font-weight="bold" stroke="#000" stroke-width="0.9">37</text>
<text x="827.5" y="1579.7" font-size="12" fill="#000" font-weight="bold" stroke="#000" stroke-width="0.9">24</text>
<text x="700.3" y="1639.5" font-size="12" fill="#000" font-weight="bold" stroke="#000" stroke-width="0.9">48</text>
<text x="827" y="1652.1" font-size="12" fill="#000" font-weight="bold" stroke="#000" stroke-width="0.9">13</text>
<text x="736.7" y="1660.3" font-size="12" fill="#000" font-weight="bold" stroke="#000" stroke-width="0.9">1</text>
<text x="809" y="1661" font-size="12" fill="#000" font-weight="bold" stroke="#000" stroke-width="0.9">12</text>
<text x="981.2" y="1558.9" font-size="12" fill="#000" font-weight="bold" stroke="#000" stroke-width="0.9">4</text>
<text x="532.4" y="1894.9" font-size="12" fill="#000" font-weight="bold" stroke="#000" stroke-width="0.9">+</text>
<text x="857.2" y="1867" font-size="13" fill="#000" font-weight="bold" stroke="#000" stroke-width="0.9">+</text>
<text x="1113" y="1916" font-size="12" fill="#000" font-weight="bold" stroke="#000" stroke-width="0.9">1</text>
<text x="0" y="0" font-size="11" fill="#000" text-anchor="middle" transform="translate(3958.9 792.6) scale(-1 1)">MH2</text>
<text x="0" y="0" font-size="11" fill="#000" text-anchor="middle" transform="translate(3641.1 879.5) scale(-1 1)">43</text>
<text x="0" y="0" font-size="11" fill="#000" text-anchor="middle" transform="translate(3705.5 879.5) scale(-1 1)">56</text>
<text x="0" y="0" font-size="11" fill="#000" text-anchor="middle" transform="translate(3905.5 879.5) scale(-1 1)">43</text>
<text x="0" y="0" font-size="11" fill="#000" text-anchor="middle" transform="translate(3972.6 879.5) scale(-1 1)">56</text>
<text x="0" y="0" font-size="11" fill="#000" text-anchor="middle" transform="translate(4304.1 791.8) scale(-1 1)">MH2</text>
<text x="0" y="0" font-size="11" fill="#000" text-anchor="middle" transform="translate(3726 900.7) scale(-1 1)">1</text>
<text x="0" y="0" font-size="11" fill="#000" text-anchor="middle" transform="translate(3729.6 971.9) scale(-1 1)">14</text>
<text x="0" y="0" font-size="11" fill="#000" text-anchor="middle" transform="translate(3630.7 991.9) scale(-1 1)">28</text>
<text x="0" y="0" font-size="11" fill="#000" text-anchor="middle" transform="translate(3991 904.8) scale(-1 1)">1</text>
<text x="0" y="0" font-size="11" fill="#000" text-anchor="middle" transform="translate(3995.1 971.9) scale(-1 1)">14</text>
<text x="0" y="0" font-size="11" fill="#000" text-anchor="middle" transform="translate(3882.2 987.3) scale(-1 1)">29</text>
<text x="0" y="0" font-size="11" fill="#000" text-anchor="middle" transform="translate(3980 991.9) scale(-1 1)">15</text>
<text x="0" y="0" font-size="11" fill="#000" text-anchor="middle" transform="translate(3961.1 1263.3) scale(-1 1)">MH1</text>
<text x="0" y="0" font-size="11" fill="#000" text-anchor="middle" transform="translate(4304.9 1262.9) scale(-1 1)">MH1</text>
<text x="4534.2" y="1451.9" font-size="13" fill="#000" font-weight="bold" stroke="#000" stroke-width="0.9">+</text>
<text x="0" y="0" font-size="11" fill="#000" text-anchor="middle" transform="translate(4180.8 1441) scale(-1 1)">1</text>
<text x="0" y="0" font-size="11" fill="#000" text-anchor="middle" transform="translate(4140 1741.8) scale(-1 1)">74</text>
<text x="0" y="0" font-size="11" fill="#000" text-anchor="middle" transform="translate(4239.9 1742.4) scale(-1 1)">2</text>
<text x="0" y="0" font-size="11" fill="#000" text-anchor="middle" transform="translate(4489.1 1760) scale(-1 1)">74</text>
<text x="0" y="0" font-size="11" fill="#000" text-anchor="middle" transform="translate(4133.6 1840.4) scale(-1 1)">75</text>
<text x="0" y="0" font-size="11" fill="#000" text-anchor="middle" transform="translate(4225.5 1878.8) scale(-1 1)">1</text>
<text x="0" y="0" font-size="11" fill="#000" text-anchor="middle" transform="translate(4477.2 1878.5) scale(-1 1)">75</text>
<text x="0" y="0" font-size="11" fill="#000" text-anchor="middle" transform="translate(3676.4 1669.3) scale(-1 1)">17</text>
<text x="0" y="0" font-size="11" fill="#000" text-anchor="middle" transform="translate(3781 1667.4) scale(-1 1)">32</text>
<text x="0" y="0" font-size="11" fill="#000" text-anchor="middle" transform="translate(3661.7 1682.1) scale(-1 1)">16</text>
<text x="0" y="0" font-size="11" fill="#000" text-anchor="middle" transform="translate(3794 1679.3) scale(-1 1)">33</text>
<text x="0" y="0" font-size="11" fill="#000" text-anchor="middle" transform="translate(3791.8 1776.6) scale(-1 1)">48</text>
<text x="0" y="0" font-size="11" fill="#000" text-anchor="middle" transform="translate(3780.4 1794.3) scale(-1 1)">49</text>
<text x="0" y="0" font-size="11" fill="#000" text-anchor="middle" transform="translate(3674.5 1794.8) scale(-1 1)">64</text>
<text x="0" y="0" font-size="11" fill="#000" text-anchor="middle" transform="translate(3888.3 1742.7) scale(-1 1)">2</text>
<text x="0" y="0" font-size="11" fill="#000" text-anchor="middle" transform="translate(3880.2 1879.9) scale(-1 1)">1</text>
</svg>
</body></html>
